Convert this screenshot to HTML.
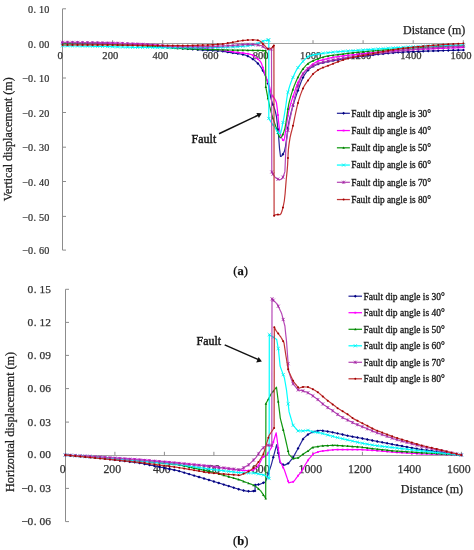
<!DOCTYPE html><html><head><meta charset="utf-8"><style>
html,body{margin:0;padding:0;background:#fff;width:474px;height:550px;overflow:hidden}
svg{display:block;filter:blur(0.3px)}
text{font-family:"Liberation Serif","Times New Roman",serif}
</style></head><body>
<svg width="474" height="550" viewBox="0 0 474 550">
<rect width="474" height="550" fill="#fff"/>
<path d="M62.5 8.80V250.10" stroke="#8c8c8c" stroke-width="1" fill="none"/>
<path d="M62.5 8.80H66" stroke="#8c8c8c" stroke-width="1" fill="none"/>
<path d="M62.5 43.40H66" stroke="#8c8c8c" stroke-width="1" fill="none"/>
<path d="M62.5 78.00H66" stroke="#8c8c8c" stroke-width="1" fill="none"/>
<path d="M62.5 112.50H66" stroke="#8c8c8c" stroke-width="1" fill="none"/>
<path d="M62.5 147.20H66" stroke="#8c8c8c" stroke-width="1" fill="none"/>
<path d="M62.5 181.50H66" stroke="#8c8c8c" stroke-width="1" fill="none"/>
<path d="M62.5 216.40H66" stroke="#8c8c8c" stroke-width="1" fill="none"/>
<path d="M62.5 250.10H66" stroke="#8c8c8c" stroke-width="1" fill="none"/>
<path d="M62.5 43.5H463.5" stroke="#a2a2a2" stroke-width="1" fill="none"/>
<path d="M112.60 43.5V40.2" stroke="#8c8c8c" stroke-width="1" fill="none"/>
<path d="M162.70 43.5V40.2" stroke="#8c8c8c" stroke-width="1" fill="none"/>
<path d="M212.80 43.5V40.2" stroke="#8c8c8c" stroke-width="1" fill="none"/>
<path d="M262.90 43.5V40.2" stroke="#8c8c8c" stroke-width="1" fill="none"/>
<path d="M313.00 43.5V40.2" stroke="#8c8c8c" stroke-width="1" fill="none"/>
<path d="M363.10 43.5V40.2" stroke="#8c8c8c" stroke-width="1" fill="none"/>
<path d="M413.20 43.5V40.2" stroke="#8c8c8c" stroke-width="1" fill="none"/>
<path d="M463.30 43.5V40.2" stroke="#8c8c8c" stroke-width="1" fill="none"/>
<text transform="translate(0 13.00) scale(0.9 1)" x="31.11 37.22 43.33 49.11" y="0" font-size="11.3" fill="#333" stroke="#333" stroke-width="0.25">0.10</text>
<text transform="translate(0 47.60) scale(0.9 1)" x="31.11 37.22 43.33 49.11" y="0" font-size="11.3" fill="#333" stroke="#333" stroke-width="0.25">0.00</text>
<text transform="translate(0 82.20) scale(0.9 1)" x="24.78 31.11 37.22 43.33 49.11" y="0" font-size="11.3" fill="#333" stroke="#333" stroke-width="0.25">−0.10</text>
<text transform="translate(0 116.70) scale(0.9 1)" x="24.78 31.11 37.22 43.33 49.11" y="0" font-size="11.3" fill="#333" stroke="#333" stroke-width="0.25">−0.20</text>
<text transform="translate(0 151.40) scale(0.9 1)" x="24.78 31.11 37.22 43.33 49.11" y="0" font-size="11.3" fill="#333" stroke="#333" stroke-width="0.25">−0.30</text>
<text transform="translate(0 185.70) scale(0.9 1)" x="24.78 31.11 37.22 43.33 49.11" y="0" font-size="11.3" fill="#333" stroke="#333" stroke-width="0.25">−0.40</text>
<text transform="translate(0 220.60) scale(0.9 1)" x="24.78 31.11 37.22 43.33 49.11" y="0" font-size="11.3" fill="#333" stroke="#333" stroke-width="0.25">−0.50</text>
<text transform="translate(0 254.30) scale(0.9 1)" x="24.78 31.11 37.22 43.33 49.11" y="0" font-size="11.3" fill="#333" stroke="#333" stroke-width="0.25">−0.60</text>
<text x="60.20" y="58.7" font-size="10.6" text-anchor="middle" fill="#333" stroke="#333" stroke-width="0.25">0</text>
<text x="110.30" y="58.7" font-size="10.6" text-anchor="middle" fill="#333" stroke="#333" stroke-width="0.25">200</text>
<text x="160.40" y="58.7" font-size="10.6" text-anchor="middle" fill="#333" stroke="#333" stroke-width="0.25">400</text>
<text x="210.50" y="58.7" font-size="10.6" text-anchor="middle" fill="#333" stroke="#333" stroke-width="0.25">600</text>
<text x="260.60" y="58.7" font-size="10.6" text-anchor="middle" fill="#333" stroke="#333" stroke-width="0.25">800</text>
<text x="310.70" y="58.7" font-size="10.6" text-anchor="middle" fill="#333" stroke="#333" stroke-width="0.25">1000</text>
<text x="360.80" y="58.7" font-size="10.6" text-anchor="middle" fill="#333" stroke="#333" stroke-width="0.25">1200</text>
<text x="410.90" y="58.7" font-size="10.6" text-anchor="middle" fill="#333" stroke="#333" stroke-width="0.25">1400</text>
<text x="461.00" y="58.7" font-size="10.6" text-anchor="middle" fill="#333" stroke="#333" stroke-width="0.25">1600</text>
<text x="403" y="33.7" font-size="12" fill="#222" stroke="#222" stroke-width="0.25">Distance (m)</text>
<text transform="translate(11.9,139.3) rotate(-90)" font-size="12" text-anchor="middle" fill="#222" stroke="#222" stroke-width="0.25">Vertical displacement (m)</text>
<path d="M62.5 42.7L63.5 42.7L64.5 42.7L65.5 42.7L66.5 42.7L67.5 42.7L68.5 42.7L69.5 42.7L70.5 42.7L71.5 42.7L72.5 42.7L73.5 42.7L74.5 42.8L75.5 42.8L76.5 42.8L77.5 42.8L78.5 42.8L79.5 42.8L80.5 42.8L81.5 42.8L82.5 42.8L83.5 42.9L84.5 42.9L85.5 42.9L86.5 42.9L87.5 42.9L88.5 42.9L89.5 42.9L90.5 42.9L91.5 43.0L92.5 43.0L93.5 43.0L94.5 43.0L95.5 43.0L96.5 43.0L97.5 43.1L98.5 43.1L99.5 43.1L100.0 43.1L100.5 43.1L101.5 43.1L102.5 43.1L103.5 43.2L104.5 43.2L105.5 43.2L106.5 43.2L107.5 43.3L108.5 43.3L109.5 43.3L110.5 43.3L111.5 43.4L112.5 43.4L113.5 43.4L114.5 43.5L115.5 43.5L116.5 43.5L117.5 43.6L118.5 43.6L119.5 43.6L120.5 43.7L121.5 43.7L122.5 43.8L123.5 43.8L124.5 43.9L125.5 43.9L126.5 43.9L127.5 44.0L128.5 44.0L129.5 44.1L130.5 44.1L131.5 44.2L132.5 44.2L133.5 44.3L134.5 44.3L135.5 44.4L136.5 44.4L137.5 44.5L138.5 44.5L139.5 44.6L140.0 44.6L140.5 44.6L141.5 44.7L142.5 44.7L143.5 44.8L144.5 44.9L145.5 44.9L146.5 45.0L147.5 45.1L148.5 45.2L149.5 45.3L150.5 45.3L151.5 45.4L152.5 45.5L153.5 45.6L154.5 45.7L155.5 45.8L156.5 45.9L157.5 46.0L158.5 46.1L159.5 46.2L160.5 46.3L161.5 46.4L162.5 46.5L163.5 46.6L164.5 46.7L165.5 46.8L166.5 46.9L167.5 47.0L168.5 47.1L169.5 47.2L170.5 47.3L171.5 47.4L172.5 47.5L173.5 47.6L174.5 47.7L175.5 47.8L176.5 47.9L177.5 48.0L178.5 48.1L179.5 48.2L180.0 48.2L180.5 48.2L181.5 48.3L182.5 48.4L183.5 48.5L184.5 48.6L185.5 48.7L186.5 48.7L187.5 48.8L188.5 48.9L189.5 49.0L190.5 49.1L191.5 49.2L192.5 49.2L193.5 49.3L194.5 49.4L195.5 49.5L196.5 49.5L197.5 49.6L198.5 49.7L199.5 49.8L200.0 49.8L200.5 49.8L201.5 49.9L202.5 50.0L203.5 50.0L204.5 50.1L205.5 50.1L206.5 50.2L207.5 50.2L208.5 50.3L209.5 50.3L210.5 50.4L211.5 50.4L212.5 50.5L213.5 50.5L214.5 50.6L215.5 50.7L216.5 50.7L217.5 50.8L218.5 50.9L219.5 51.0L220.0 51.0L220.5 51.0L221.5 51.2L222.5 51.3L223.5 51.4L224.5 51.6L225.5 51.7L226.5 51.9L227.5 52.1L228.5 52.3L229.5 52.4L230.0 52.5L230.5 52.6L231.5 52.7L232.5 52.9L233.5 53.0L234.5 53.1L235.5 53.3L236.5 53.4L237.5 53.6L238.5 53.7L239.5 53.9L240.5 54.0L241.5 54.2L242.5 54.4L243.5 54.6L244.5 54.9L245.0 55.0L245.5 55.1L246.5 55.5L247.5 56.0L248.5 56.5L249.5 57.0L250.5 57.6L251.5 58.2L252.5 58.9L253.5 59.6L254.4 60.3L254.5 60.4L255.5 61.2L256.5 62.1L257.5 63.1L258.5 64.2L259.5 65.3L259.7 65.6L260.5 66.7L261.5 68.2L262.5 69.9L263.5 71.8L264.5 73.9L265.0 75.0L265.5 76.2L266.5 78.8L267.5 81.9L268.5 85.6L268.7 86.4L269.5 90.7L270.5 96.5L270.6 97.0L271.5 100.4L272.5 103.4L273.5 106.0L274.5 108.7L275.5 112.2L276.3 115.8L276.5 116.9L277.5 125.1L278.5 135.0L279.5 148.2L280.5 156.5L281.5 156.1L282.5 154.9L283.5 153.2L284.3 151.6L284.5 151.1L285.5 146.4L286.5 139.3L287.5 131.4L288.5 124.3L289.0 121.5L289.5 119.1L290.5 114.8L291.5 111.0L292.5 107.4L293.3 104.6L293.5 103.9L294.5 100.6L295.5 97.6L296.5 94.6L297.5 91.8L298.4 89.3L298.5 89.0L299.5 86.3L300.5 83.5L301.5 80.9L302.5 78.6L303.5 76.6L304.5 74.9L305.5 73.3L306.5 72.0L307.5 70.7L308.5 69.7L308.6 69.6L309.5 68.8L310.5 68.0L311.5 67.3L312.5 66.7L313.5 66.1L314.3 65.7L314.5 65.6L315.5 65.1L316.5 64.6L317.5 64.2L318.5 63.8L318.6 63.8L319.5 63.5L320.5 63.2L321.5 63.0L322.5 62.8L323.5 62.5L323.6 62.5L324.5 62.3L325.5 62.0L326.5 61.8L327.5 61.6L328.5 61.3L328.7 61.3L329.5 61.1L330.5 61.0L331.5 60.8L332.5 60.6L333.5 60.4L334.5 60.3L335.0 60.2L335.5 60.1L336.5 60.0L337.5 59.8L338.5 59.6L339.5 59.5L340.5 59.3L341.5 59.2L342.5 59.0L343.5 58.8L344.5 58.7L345.5 58.5L346.5 58.4L347.5 58.2L348.5 58.1L349.5 57.9L350.5 57.8L351.5 57.6L352.5 57.5L353.5 57.4L354.5 57.2L355.5 57.1L356.5 57.0L357.5 56.8L358.5 56.7L359.5 56.6L360.0 56.5L360.5 56.4L361.5 56.3L362.5 56.2L363.5 56.1L364.5 55.9L365.5 55.8L366.5 55.7L367.5 55.6L368.5 55.4L369.5 55.3L370.5 55.2L371.5 55.1L372.5 55.0L373.5 54.8L374.5 54.7L375.5 54.6L376.5 54.5L377.5 54.4L378.5 54.2L379.5 54.1L380.5 54.0L381.5 53.9L382.5 53.8L383.5 53.7L384.5 53.6L385.5 53.5L386.5 53.4L387.5 53.3L388.5 53.2L389.5 53.1L390.5 53.0L391.5 52.9L392.5 52.8L393.5 52.8L394.5 52.7L395.5 52.6L396.5 52.5L397.5 52.5L398.5 52.4L399.5 52.3L400.0 52.3L400.5 52.3L401.5 52.2L402.5 52.2L403.5 52.1L404.5 52.0L405.5 52.0L406.5 51.9L407.5 51.9L408.5 51.8L409.5 51.8L410.5 51.7L411.5 51.7L412.5 51.7L413.5 51.6L414.5 51.6L415.5 51.5L416.5 51.5L417.5 51.4L418.5 51.4L419.5 51.4L420.5 51.3L421.5 51.3L422.5 51.3L423.5 51.2L424.5 51.2L425.5 51.2L426.5 51.1L427.5 51.1L428.5 51.1L429.5 51.0L430.0 51.0L430.5 51.0L431.5 51.0L432.5 50.9L433.5 50.9L434.5 50.9L435.5 50.8L436.5 50.8L437.5 50.8L438.5 50.7L439.5 50.7L440.5 50.7L441.5 50.6L442.5 50.6L443.5 50.6L444.5 50.5L445.5 50.5L446.5 50.5L447.5 50.5L448.5 50.4L449.5 50.4L450.5 50.4L451.5 50.4L452.5 50.3L453.5 50.3L454.5 50.3L455.5 50.3L456.5 50.2L457.5 50.2L458.5 50.2L459.5 50.2L460.5 50.2L461.5 50.1L462.5 50.1L463.5 50.1" fill="none" stroke="#26269a" stroke-width="1.2" stroke-linejoin="round"/>
<path d="M62.50 41.25L63.95 42.70L62.50 44.15L61.05 42.70Z" fill="#000080"/>
<path d="M67.51 41.26L68.96 42.71L67.51 44.16L66.06 42.71Z" fill="#000080"/>
<path d="M72.52 41.29L73.97 42.74L72.52 44.19L71.07 42.74Z" fill="#000080"/>
<path d="M77.53 41.33L78.98 42.78L77.53 44.23L76.08 42.78Z" fill="#000080"/>
<path d="M82.54 41.39L83.99 42.84L82.54 44.29L81.09 42.84Z" fill="#000080"/>
<path d="M87.55 41.46L89.00 42.91L87.55 44.36L86.10 42.91Z" fill="#000080"/>
<path d="M92.56 41.53L94.01 42.98L92.56 44.43L91.11 42.98Z" fill="#000080"/>
<path d="M97.57 41.61L99.02 43.06L97.57 44.51L96.12 43.06Z" fill="#000080"/>
<path d="M102.58 41.70L104.03 43.15L102.58 44.60L101.13 43.15Z" fill="#000080"/>
<path d="M107.59 41.81L109.04 43.26L107.59 44.71L106.14 43.26Z" fill="#000080"/>
<path d="M112.60 41.96L114.05 43.41L112.60 44.86L111.15 43.41Z" fill="#000080"/>
<path d="M117.61 42.13L119.06 43.58L117.61 45.03L116.16 43.58Z" fill="#000080"/>
<path d="M122.62 42.32L124.07 43.77L122.62 45.22L121.17 43.77Z" fill="#000080"/>
<path d="M127.63 42.54L129.08 43.99L127.63 45.44L126.18 43.99Z" fill="#000080"/>
<path d="M132.64 42.78L134.09 44.23L132.64 45.68L131.19 44.23Z" fill="#000080"/>
<path d="M137.65 43.03L139.10 44.48L137.65 45.93L136.20 44.48Z" fill="#000080"/>
<path d="M142.66 43.30L144.11 44.75L142.66 46.20L141.21 44.75Z" fill="#000080"/>
<path d="M147.67 43.66L149.12 45.11L147.67 46.56L146.22 45.11Z" fill="#000080"/>
<path d="M152.68 44.09L154.13 45.54L152.68 46.99L151.23 45.54Z" fill="#000080"/>
<path d="M157.69 44.56L159.14 46.01L157.69 47.46L156.24 46.01Z" fill="#000080"/>
<path d="M162.70 45.07L164.15 46.52L162.70 47.97L161.25 46.52Z" fill="#000080"/>
<path d="M167.71 45.58L169.16 47.03L167.71 48.48L166.26 47.03Z" fill="#000080"/>
<path d="M172.72 46.08L174.17 47.53L172.72 48.98L171.27 47.53Z" fill="#000080"/>
<path d="M177.73 46.55L179.18 48.00L177.73 49.45L176.28 48.00Z" fill="#000080"/>
<path d="M182.74 46.98L184.19 48.43L182.74 49.88L181.29 48.43Z" fill="#000080"/>
<path d="M187.75 47.40L189.20 48.85L187.75 50.30L186.30 48.85Z" fill="#000080"/>
<path d="M192.76 47.81L194.21 49.26L192.76 50.71L191.31 49.26Z" fill="#000080"/>
<path d="M197.77 48.19L199.22 49.64L197.77 51.09L196.32 49.64Z" fill="#000080"/>
<path d="M202.78 48.52L204.23 49.97L202.78 51.42L201.33 49.97Z" fill="#000080"/>
<path d="M207.79 48.79L209.24 50.24L207.79 51.69L206.34 50.24Z" fill="#000080"/>
<path d="M212.80 49.04L214.25 50.49L212.80 51.94L211.35 50.49Z" fill="#000080"/>
<path d="M217.81 49.37L219.26 50.82L217.81 52.27L216.36 50.82Z" fill="#000080"/>
<path d="M222.82 49.88L224.27 51.33L222.82 52.78L221.37 51.33Z" fill="#000080"/>
<path d="M227.83 50.69L229.28 52.14L227.83 53.59L226.38 52.14Z" fill="#000080"/>
<path d="M232.84 51.46L234.29 52.91L232.84 54.36L231.39 52.91Z" fill="#000080"/>
<path d="M237.85 52.15L239.30 53.60L237.85 55.05L236.40 53.60Z" fill="#000080"/>
<path d="M242.86 53.04L244.31 54.49L242.86 55.94L241.41 54.49Z" fill="#000080"/>
<path d="M247.87 54.70L249.32 56.15L247.87 57.60L246.42 56.15Z" fill="#000080"/>
<path d="M252.88 57.69L254.33 59.14L252.88 60.59L251.43 59.14Z" fill="#000080"/>
<path d="M257.89 62.04L259.34 63.49L257.89 64.94L256.44 63.49Z" fill="#000080"/>
<path d="M262.90 69.18L264.35 70.63L262.90 72.08L261.45 70.63Z" fill="#000080"/>
<path d="M267.91 81.91L269.36 83.36L267.91 84.81L266.46 83.36Z" fill="#000080"/>
<path d="M272.92 103.02L274.37 104.47L272.92 105.92L271.47 104.47Z" fill="#000080"/>
<path d="M277.93 127.89L279.38 129.34L277.93 130.79L276.48 129.34Z" fill="#000080"/>
<path d="M282.94 152.76L284.39 154.21L282.94 155.66L281.49 154.21Z" fill="#000080"/>
<path d="M287.95 126.58L289.40 128.03L287.95 129.48L286.50 128.03Z" fill="#000080"/>
<path d="M292.96 104.32L294.41 105.77L292.96 107.22L291.51 105.77Z" fill="#000080"/>
<path d="M297.97 89.03L299.42 90.48L297.97 91.93L296.52 90.48Z" fill="#000080"/>
<path d="M302.98 76.13L304.43 77.58L302.98 79.03L301.53 77.58Z" fill="#000080"/>
<path d="M307.99 68.75L309.44 70.20L307.99 71.65L306.54 70.20Z" fill="#000080"/>
<path d="M313.00 64.97L314.45 66.42L313.00 67.87L311.55 66.42Z" fill="#000080"/>
<path d="M318.01 62.56L319.46 64.01L318.01 65.46L316.56 64.01Z" fill="#000080"/>
<path d="M323.02 61.19L324.47 62.64L323.02 64.09L321.57 62.64Z" fill="#000080"/>
<path d="M328.03 59.99L329.48 61.44L328.03 62.89L326.58 61.44Z" fill="#000080"/>
<path d="M333.04 59.07L334.49 60.52L333.04 61.97L331.59 60.52Z" fill="#000080"/>
<path d="M338.05 58.26L339.50 59.71L338.05 61.16L336.60 59.71Z" fill="#000080"/>
<path d="M343.06 57.46L344.51 58.91L343.06 60.36L341.61 58.91Z" fill="#000080"/>
<path d="M348.07 56.69L349.52 58.14L348.07 59.59L346.62 58.14Z" fill="#000080"/>
<path d="M353.08 55.97L354.53 57.42L353.08 58.87L351.63 57.42Z" fill="#000080"/>
<path d="M358.09 55.29L359.54 56.74L358.09 58.19L356.64 56.74Z" fill="#000080"/>
<path d="M363.10 54.66L364.55 56.11L363.10 57.56L361.65 56.11Z" fill="#000080"/>
<path d="M368.11 54.04L369.56 55.49L368.11 56.94L366.66 55.49Z" fill="#000080"/>
<path d="M373.12 53.43L374.57 54.88L373.12 56.33L371.67 54.88Z" fill="#000080"/>
<path d="M378.13 52.84L379.58 54.29L378.13 55.74L376.68 54.29Z" fill="#000080"/>
<path d="M383.14 52.29L384.59 53.74L383.14 55.19L381.69 53.74Z" fill="#000080"/>
<path d="M388.15 51.78L389.60 53.23L388.15 54.68L386.70 53.23Z" fill="#000080"/>
<path d="M393.16 51.34L394.61 52.79L393.16 54.24L391.71 52.79Z" fill="#000080"/>
<path d="M398.17 50.97L399.62 52.42L398.17 53.87L396.72 52.42Z" fill="#000080"/>
<path d="M403.18 50.67L404.63 52.12L403.18 53.57L401.73 52.12Z" fill="#000080"/>
<path d="M408.19 50.41L409.64 51.86L408.19 53.31L406.74 51.86Z" fill="#000080"/>
<path d="M413.20 50.18L414.65 51.63L413.20 53.08L411.75 51.63Z" fill="#000080"/>
<path d="M418.21 49.97L419.66 51.42L418.21 52.87L416.76 51.42Z" fill="#000080"/>
<path d="M423.22 49.78L424.67 51.23L423.22 52.68L421.77 51.23Z" fill="#000080"/>
<path d="M428.23 49.61L429.68 51.06L428.23 52.51L426.78 51.06Z" fill="#000080"/>
<path d="M433.24 49.44L434.69 50.89L433.24 52.34L431.79 50.89Z" fill="#000080"/>
<path d="M438.25 49.28L439.70 50.73L438.25 52.18L436.80 50.73Z" fill="#000080"/>
<path d="M443.26 49.14L444.71 50.59L443.26 52.04L441.81 50.59Z" fill="#000080"/>
<path d="M448.27 49.00L449.72 50.45L448.27 51.90L446.82 50.45Z" fill="#000080"/>
<path d="M453.28 48.87L454.73 50.32L453.28 51.77L451.83 50.32Z" fill="#000080"/>
<path d="M458.29 48.75L459.74 50.20L458.29 51.65L456.84 50.20Z" fill="#000080"/>
<path d="M463.50 48.65L464.95 50.10L463.50 51.55L462.05 50.10Z" fill="#000080"/>
<path d="M62.5 42.5L63.5 42.5L64.5 42.5L65.5 42.5L66.5 42.5L67.5 42.5L68.5 42.5L69.5 42.5L70.5 42.5L71.5 42.5L72.5 42.5L73.5 42.6L74.5 42.6L75.5 42.6L76.5 42.6L77.5 42.6L78.5 42.6L79.5 42.6L80.5 42.6L81.5 42.6L82.5 42.6L83.5 42.7L84.5 42.7L85.5 42.7L86.5 42.7L87.5 42.7L88.5 42.7L89.5 42.7L90.5 42.8L91.5 42.8L92.5 42.8L93.5 42.8L94.5 42.8L95.5 42.8L96.5 42.8L97.5 42.9L98.5 42.9L99.5 42.9L100.0 42.9L100.5 42.9L101.5 42.9L102.5 42.9L103.5 43.0L104.5 43.0L105.5 43.0L106.5 43.0L107.5 43.0L108.5 43.1L109.5 43.1L110.5 43.1L111.5 43.1L112.5 43.2L113.5 43.2L114.5 43.2L115.5 43.2L116.5 43.3L117.5 43.3L118.5 43.3L119.5 43.4L120.5 43.4L121.5 43.4L122.5 43.4L123.5 43.5L124.5 43.5L125.5 43.5L126.5 43.6L127.5 43.6L128.5 43.7L129.5 43.7L130.5 43.7L131.5 43.8L132.5 43.8L133.5 43.8L134.5 43.9L135.5 43.9L136.5 44.0L137.5 44.0L138.5 44.0L139.5 44.1L140.0 44.1L140.5 44.1L141.5 44.2L142.5 44.2L143.5 44.3L144.5 44.3L145.5 44.4L146.5 44.4L147.5 44.5L148.5 44.5L149.5 44.6L150.5 44.7L151.5 44.7L152.5 44.8L153.5 44.8L154.5 44.9L155.5 45.0L156.5 45.1L157.5 45.1L158.5 45.2L159.5 45.3L160.5 45.3L161.5 45.4L162.5 45.5L163.5 45.6L164.5 45.6L165.5 45.7L166.5 45.8L167.5 45.9L168.5 45.9L169.5 46.0L170.5 46.1L171.5 46.2L172.5 46.2L173.5 46.3L174.5 46.4L175.5 46.5L176.5 46.5L177.5 46.6L178.5 46.7L179.5 46.8L180.0 46.8L180.5 46.8L181.5 46.9L182.5 47.0L183.5 47.1L184.5 47.1L185.5 47.2L186.5 47.3L187.5 47.3L188.5 47.4L189.5 47.5L190.5 47.6L191.5 47.6L192.5 47.7L193.5 47.8L194.5 47.9L195.5 47.9L196.5 48.0L197.5 48.1L198.5 48.2L199.5 48.3L200.0 48.3L200.5 48.3L201.5 48.4L202.5 48.5L203.5 48.6L204.5 48.7L205.5 48.7L206.5 48.8L207.5 48.9L208.5 49.0L209.5 49.0L210.5 49.1L211.5 49.2L212.5 49.3L213.5 49.4L214.5 49.5L215.5 49.6L216.5 49.7L217.5 49.7L218.5 49.8L219.5 49.9L220.0 50.0L220.5 50.1L221.5 50.2L222.5 50.3L223.5 50.4L224.5 50.6L225.5 50.7L226.5 50.8L227.5 51.0L228.5 51.1L229.5 51.3L230.5 51.4L231.5 51.6L232.5 51.7L233.5 51.9L234.5 52.0L235.5 52.2L236.5 52.3L237.5 52.4L238.0 52.5L238.5 52.6L239.5 52.7L240.5 52.8L241.5 52.9L242.5 53.0L243.5 53.1L244.5 53.2L245.0 53.3L245.5 53.4L246.5 53.5L247.5 53.7L248.5 53.9L249.5 54.1L250.5 54.3L251.1 54.5L251.5 54.6L252.5 55.1L253.5 55.8L254.5 56.6L255.5 57.3L255.6 57.4L256.5 58.1L257.5 58.8L258.5 59.6L259.5 60.5L260.5 61.7L260.9 62.3L261.5 63.5L262.5 66.4L263.5 69.5L264.5 72.7L265.4 75.5L265.5 75.8L266.5 78.4L267.5 80.8L268.5 83.4L269.5 86.4L270.5 91.0L271.0 92.9L271.5 94.1L272.5 95.9L273.5 97.2L274.5 98.5L275.5 100.2L276.3 102.3L276.5 103.1L277.5 110.7L278.5 121.0L279.5 129.4L279.6 130.0L280.5 134.3L281.5 137.5L282.5 139.5L283.5 140.6L283.8 140.7L284.5 138.4L285.5 131.6L285.6 131.0L286.5 125.3L287.5 118.5L288.5 112.5L288.8 111.0L289.5 108.0L290.5 104.4L291.5 101.1L292.5 98.1L293.3 95.7L293.5 95.1L294.5 92.1L295.5 89.1L296.5 86.3L297.5 83.7L298.4 81.7L298.5 81.5L299.5 79.5L300.5 77.6L301.5 75.9L302.5 74.3L303.5 72.9L304.1 72.1L304.5 71.6L305.5 70.5L306.5 69.4L307.5 68.5L308.5 67.6L309.2 67.0L309.5 66.7L310.5 65.9L311.5 65.2L312.5 64.5L313.5 63.8L313.8 63.6L314.5 63.1L315.5 62.5L316.5 61.9L317.5 61.4L318.5 60.9L318.6 60.9L319.5 60.6L320.5 60.3L321.5 60.1L322.5 59.9L323.5 59.6L323.6 59.6L324.5 59.4L325.5 59.1L326.5 58.8L327.5 58.6L328.5 58.3L328.7 58.3L329.5 58.1L330.5 57.9L331.5 57.7L332.5 57.5L333.5 57.3L334.5 57.1L335.0 57.0L335.5 56.9L336.5 56.8L337.5 56.6L338.5 56.5L339.5 56.3L340.5 56.2L341.5 56.1L342.5 55.9L343.5 55.8L344.5 55.7L345.5 55.6L346.5 55.4L347.5 55.3L348.5 55.2L349.5 55.1L350.5 55.0L351.5 54.9L352.5 54.8L353.5 54.7L354.5 54.6L355.5 54.5L356.5 54.4L357.5 54.3L358.5 54.2L359.5 54.1L360.0 54.0L360.5 53.9L361.5 53.8L362.5 53.7L363.5 53.6L364.5 53.5L365.5 53.4L366.5 53.3L367.5 53.2L368.5 53.1L369.5 53.0L370.5 52.9L371.5 52.8L372.5 52.7L373.5 52.6L374.5 52.5L375.5 52.4L376.5 52.3L377.5 52.2L378.5 52.1L379.5 52.0L380.5 51.9L381.5 51.8L382.5 51.7L383.5 51.6L384.5 51.5L385.5 51.4L386.5 51.3L387.5 51.3L388.5 51.2L389.5 51.1L390.5 51.0L391.5 50.9L392.5 50.8L393.5 50.8L394.5 50.7L395.5 50.6L396.5 50.5L397.5 50.5L398.5 50.4L399.5 50.3L400.0 50.3L400.5 50.3L401.5 50.2L402.5 50.1L403.5 50.1L404.5 50.0L405.5 50.0L406.5 49.9L407.5 49.9L408.5 49.8L409.5 49.8L410.5 49.7L411.5 49.6L412.5 49.6L413.5 49.5L414.5 49.5L415.5 49.5L416.5 49.4L417.5 49.4L418.5 49.3L419.5 49.3L420.5 49.2L421.5 49.2L422.5 49.1L423.5 49.1L424.5 49.0L425.5 49.0L426.5 49.0L427.5 48.9L428.5 48.9L429.5 48.8L430.0 48.8L430.5 48.8L431.5 48.7L432.5 48.7L433.5 48.6L434.5 48.6L435.5 48.6L436.5 48.5L437.5 48.5L438.5 48.4L439.5 48.4L440.5 48.4L441.5 48.3L442.5 48.3L443.5 48.2L444.5 48.2L445.5 48.2L446.5 48.1L447.5 48.1L448.5 48.0L449.5 48.0L450.5 48.0L451.5 47.9L452.5 47.9L453.5 47.8L454.5 47.8L455.5 47.8L456.5 47.7L457.5 47.7L458.5 47.7L459.5 47.6L460.5 47.6L461.5 47.6L462.5 47.5L463.5 47.5" fill="none" stroke="#ff00ff" stroke-width="1.2" stroke-linejoin="round"/>
<rect x="61.60" y="41.60" width="1.80" height="1.80" fill="#ff00ff"/>
<rect x="66.61" y="41.62" width="1.80" height="1.80" fill="#ff00ff"/>
<rect x="71.62" y="41.65" width="1.80" height="1.80" fill="#ff00ff"/>
<rect x="76.63" y="41.69" width="1.80" height="1.80" fill="#ff00ff"/>
<rect x="81.64" y="41.75" width="1.80" height="1.80" fill="#ff00ff"/>
<rect x="86.65" y="41.81" width="1.80" height="1.80" fill="#ff00ff"/>
<rect x="91.66" y="41.89" width="1.80" height="1.80" fill="#ff00ff"/>
<rect x="96.67" y="41.96" width="1.80" height="1.80" fill="#ff00ff"/>
<rect x="101.68" y="42.04" width="1.80" height="1.80" fill="#ff00ff"/>
<rect x="106.69" y="42.14" width="1.80" height="1.80" fill="#ff00ff"/>
<rect x="111.70" y="42.26" width="1.80" height="1.80" fill="#ff00ff"/>
<rect x="116.71" y="42.40" width="1.80" height="1.80" fill="#ff00ff"/>
<rect x="121.72" y="42.55" width="1.80" height="1.80" fill="#ff00ff"/>
<rect x="126.73" y="42.72" width="1.80" height="1.80" fill="#ff00ff"/>
<rect x="131.74" y="42.91" width="1.80" height="1.80" fill="#ff00ff"/>
<rect x="136.75" y="43.10" width="1.80" height="1.80" fill="#ff00ff"/>
<rect x="141.76" y="43.32" width="1.80" height="1.80" fill="#ff00ff"/>
<rect x="146.77" y="43.58" width="1.80" height="1.80" fill="#ff00ff"/>
<rect x="151.78" y="43.89" width="1.80" height="1.80" fill="#ff00ff"/>
<rect x="156.79" y="44.23" width="1.80" height="1.80" fill="#ff00ff"/>
<rect x="161.80" y="44.60" width="1.80" height="1.80" fill="#ff00ff"/>
<rect x="166.81" y="44.98" width="1.80" height="1.80" fill="#ff00ff"/>
<rect x="171.82" y="45.36" width="1.80" height="1.80" fill="#ff00ff"/>
<rect x="176.83" y="45.74" width="1.80" height="1.80" fill="#ff00ff"/>
<rect x="181.84" y="46.10" width="1.80" height="1.80" fill="#ff00ff"/>
<rect x="186.85" y="46.46" width="1.80" height="1.80" fill="#ff00ff"/>
<rect x="191.86" y="46.84" width="1.80" height="1.80" fill="#ff00ff"/>
<rect x="196.87" y="47.22" width="1.80" height="1.80" fill="#ff00ff"/>
<rect x="201.88" y="47.62" width="1.80" height="1.80" fill="#ff00ff"/>
<rect x="206.89" y="48.01" width="1.80" height="1.80" fill="#ff00ff"/>
<rect x="211.90" y="48.42" width="1.80" height="1.80" fill="#ff00ff"/>
<rect x="216.91" y="48.88" width="1.80" height="1.80" fill="#ff00ff"/>
<rect x="221.92" y="49.43" width="1.80" height="1.80" fill="#ff00ff"/>
<rect x="226.93" y="50.13" width="1.80" height="1.80" fill="#ff00ff"/>
<rect x="231.94" y="50.89" width="1.80" height="1.80" fill="#ff00ff"/>
<rect x="236.95" y="51.58" width="1.80" height="1.80" fill="#ff00ff"/>
<rect x="241.96" y="52.13" width="1.80" height="1.80" fill="#ff00ff"/>
<rect x="246.97" y="52.84" width="1.80" height="1.80" fill="#ff00ff"/>
<rect x="251.98" y="54.48" width="1.80" height="1.80" fill="#ff00ff"/>
<rect x="256.99" y="58.19" width="1.80" height="1.80" fill="#ff00ff"/>
<rect x="262.00" y="66.73" width="1.80" height="1.80" fill="#ff00ff"/>
<rect x="267.01" y="80.92" width="1.80" height="1.80" fill="#ff00ff"/>
<rect x="272.02" y="95.57" width="1.80" height="1.80" fill="#ff00ff"/>
<rect x="277.03" y="114.17" width="1.80" height="1.80" fill="#ff00ff"/>
<rect x="282.04" y="139.21" width="1.80" height="1.80" fill="#ff00ff"/>
<rect x="287.05" y="114.68" width="1.80" height="1.80" fill="#ff00ff"/>
<rect x="292.06" y="95.83" width="1.80" height="1.80" fill="#ff00ff"/>
<rect x="297.07" y="81.74" width="1.80" height="1.80" fill="#ff00ff"/>
<rect x="302.08" y="72.70" width="1.80" height="1.80" fill="#ff00ff"/>
<rect x="307.09" y="67.15" width="1.80" height="1.80" fill="#ff00ff"/>
<rect x="312.10" y="63.22" width="1.80" height="1.80" fill="#ff00ff"/>
<rect x="317.11" y="60.23" width="1.80" height="1.80" fill="#ff00ff"/>
<rect x="322.12" y="58.84" width="1.80" height="1.80" fill="#ff00ff"/>
<rect x="327.13" y="57.56" width="1.80" height="1.80" fill="#ff00ff"/>
<rect x="332.14" y="56.45" width="1.80" height="1.80" fill="#ff00ff"/>
<rect x="337.15" y="55.63" width="1.80" height="1.80" fill="#ff00ff"/>
<rect x="342.16" y="54.96" width="1.80" height="1.80" fill="#ff00ff"/>
<rect x="347.17" y="54.36" width="1.80" height="1.80" fill="#ff00ff"/>
<rect x="352.18" y="53.82" width="1.80" height="1.80" fill="#ff00ff"/>
<rect x="357.19" y="53.30" width="1.80" height="1.80" fill="#ff00ff"/>
<rect x="362.20" y="52.77" width="1.80" height="1.80" fill="#ff00ff"/>
<rect x="367.21" y="52.25" width="1.80" height="1.80" fill="#ff00ff"/>
<rect x="372.22" y="51.73" width="1.80" height="1.80" fill="#ff00ff"/>
<rect x="377.23" y="51.22" width="1.80" height="1.80" fill="#ff00ff"/>
<rect x="382.24" y="50.75" width="1.80" height="1.80" fill="#ff00ff"/>
<rect x="387.25" y="50.30" width="1.80" height="1.80" fill="#ff00ff"/>
<rect x="392.26" y="49.89" width="1.80" height="1.80" fill="#ff00ff"/>
<rect x="397.27" y="49.52" width="1.80" height="1.80" fill="#ff00ff"/>
<rect x="402.28" y="49.20" width="1.80" height="1.80" fill="#ff00ff"/>
<rect x="407.29" y="48.92" width="1.80" height="1.80" fill="#ff00ff"/>
<rect x="412.30" y="48.66" width="1.80" height="1.80" fill="#ff00ff"/>
<rect x="417.31" y="48.42" width="1.80" height="1.80" fill="#ff00ff"/>
<rect x="422.32" y="48.20" width="1.80" height="1.80" fill="#ff00ff"/>
<rect x="427.33" y="47.98" width="1.80" height="1.80" fill="#ff00ff"/>
<rect x="432.34" y="47.76" width="1.80" height="1.80" fill="#ff00ff"/>
<rect x="437.35" y="47.55" width="1.80" height="1.80" fill="#ff00ff"/>
<rect x="442.36" y="47.34" width="1.80" height="1.80" fill="#ff00ff"/>
<rect x="447.37" y="47.15" width="1.80" height="1.80" fill="#ff00ff"/>
<rect x="452.38" y="46.96" width="1.80" height="1.80" fill="#ff00ff"/>
<rect x="457.39" y="46.78" width="1.80" height="1.80" fill="#ff00ff"/>
<rect x="462.60" y="46.60" width="1.80" height="1.80" fill="#ff00ff"/>
<path d="M62.5 43.9L63.5 43.9L64.5 43.9L65.5 43.9L66.5 43.9L67.5 43.9L68.5 43.9L69.5 43.9L70.5 43.9L71.5 43.9L72.5 43.9L73.5 43.9L74.5 44.0L75.5 44.0L76.5 44.0L77.5 44.0L78.5 44.0L79.5 44.0L80.5 44.0L81.5 44.0L82.5 44.0L83.5 44.1L84.5 44.1L85.5 44.1L86.5 44.1L87.5 44.1L88.5 44.1L89.5 44.1L90.5 44.2L91.5 44.2L92.5 44.2L93.5 44.2L94.5 44.2L95.5 44.2L96.5 44.2L97.5 44.3L98.5 44.3L99.5 44.3L100.0 44.3L100.5 44.3L101.5 44.3L102.5 44.3L103.5 44.4L104.5 44.4L105.5 44.4L106.5 44.4L107.5 44.4L108.5 44.5L109.5 44.5L110.5 44.5L111.5 44.5L112.5 44.6L113.5 44.6L114.5 44.6L115.5 44.7L116.5 44.7L117.5 44.7L118.5 44.8L119.5 44.8L120.5 44.8L121.5 44.9L122.5 44.9L123.5 44.9L124.5 45.0L125.5 45.0L126.5 45.0L127.5 45.1L128.5 45.1L129.5 45.2L130.5 45.2L131.5 45.2L132.5 45.3L133.5 45.3L134.5 45.4L135.5 45.4L136.5 45.4L137.5 45.5L138.5 45.5L139.5 45.6L140.0 45.6L140.5 45.6L141.5 45.7L142.5 45.7L143.5 45.8L144.5 45.8L145.5 45.9L146.5 46.0L147.5 46.0L148.5 46.1L149.5 46.2L150.5 46.2L151.5 46.3L152.5 46.4L153.5 46.5L154.5 46.5L155.5 46.6L156.5 46.7L157.5 46.8L158.5 46.9L159.5 46.9L160.5 47.0L161.5 47.1L162.5 47.2L163.5 47.3L164.5 47.3L165.5 47.4L166.5 47.5L167.5 47.6L168.5 47.7L169.5 47.7L170.5 47.8L171.5 47.9L172.5 47.9L173.5 48.0L174.5 48.1L175.5 48.1L176.5 48.2L177.5 48.3L178.5 48.3L179.5 48.4L180.0 48.4L180.5 48.4L181.5 48.5L182.5 48.5L183.5 48.6L184.5 48.6L185.5 48.7L186.5 48.7L187.5 48.7L188.5 48.8L189.5 48.8L190.5 48.9L191.5 48.9L192.5 48.9L193.5 49.0L194.5 49.0L195.5 49.0L196.5 49.1L197.5 49.1L198.5 49.2L199.5 49.2L200.0 49.2L200.5 49.2L201.5 49.2L202.5 49.3L203.5 49.3L204.5 49.3L205.5 49.4L206.5 49.4L207.5 49.4L208.5 49.5L209.5 49.5L210.5 49.5L211.5 49.6L212.5 49.6L213.5 49.6L214.5 49.6L215.5 49.7L216.5 49.7L217.5 49.7L218.5 49.7L219.5 49.8L220.5 49.8L221.5 49.8L222.5 49.8L223.5 49.9L224.5 49.9L225.5 49.9L226.5 49.9L227.5 50.0L228.5 50.0L229.5 50.0L230.0 50.0L230.5 50.0L231.5 50.0L232.5 50.0L233.5 50.1L234.5 50.1L235.5 50.1L236.5 50.1L237.5 50.1L238.5 50.1L239.5 50.2L240.5 50.2L241.5 50.2L242.5 50.2L243.5 50.2L244.5 50.2L245.5 50.2L246.5 50.3L247.5 50.3L248.5 50.3L249.5 50.3L250.0 50.3L250.5 50.3L251.5 50.3L252.5 50.3L253.5 50.3L254.5 50.4L255.5 50.4L256.5 50.4L257.5 50.4L258.5 50.4L259.5 50.4L260.5 50.4L261.5 50.5L262.5 50.5L263.5 50.5L264.5 50.5L265.5 50.5L265.6 50.5L265.8 86.9L266.8 92.4L267.8 97.6L268.8 102.4L269.8 106.9L270.8 110.9L271.8 114.5L272.8 117.8L273.8 120.8L274.8 123.7L275.8 126.5L276.0 127.0L276.8 129.4L277.8 132.5L278.8 135.4L279.8 137.3L280.5 137.8L280.8 137.7L281.8 136.7L282.8 134.6L283.8 131.9L284.5 129.8L284.8 128.8L285.8 123.5L286.8 116.7L287.8 109.7L288.8 103.9L288.9 103.5L289.8 99.8L290.8 96.2L291.8 92.9L292.8 89.9L293.8 87.1L293.9 86.8L294.8 84.4L295.8 82.0L296.8 79.7L297.8 77.6L298.8 75.7L299.0 75.3L299.8 73.9L300.8 72.2L301.8 70.7L302.8 69.2L303.8 68.0L304.1 67.6L304.8 66.8L305.8 65.7L306.8 64.7L307.8 63.8L308.8 63.1L308.9 63.0L309.8 62.4L310.8 61.9L311.8 61.3L312.8 60.9L313.8 60.4L313.9 60.4L314.8 60.0L315.8 59.6L316.8 59.2L317.8 58.8L318.8 58.5L319.8 58.1L320.8 57.8L321.8 57.5L322.8 57.2L323.2 57.1L323.8 56.9L324.8 56.7L325.8 56.4L326.8 56.2L327.8 56.0L328.7 55.8L328.8 55.8L329.8 55.6L330.8 55.5L331.8 55.4L332.8 55.3L333.8 55.1L334.8 55.0L335.0 55.0L335.8 54.9L336.8 54.8L337.8 54.6L338.8 54.5L339.8 54.4L340.8 54.3L341.8 54.1L342.8 54.0L343.8 53.9L344.8 53.8L345.8 53.6L346.8 53.5L347.8 53.4L348.8 53.3L349.8 53.1L350.8 53.0L351.8 52.9L352.8 52.8L353.8 52.7L354.8 52.5L355.8 52.4L356.8 52.3L357.8 52.2L358.8 52.1L359.8 52.0L360.0 52.0L360.8 51.9L361.8 51.8L362.8 51.7L363.8 51.6L364.8 51.5L365.8 51.5L366.8 51.4L367.8 51.3L368.8 51.2L369.8 51.1L370.8 51.0L371.8 50.9L372.8 50.8L373.8 50.8L374.8 50.7L375.8 50.6L376.8 50.5L377.8 50.4L378.8 50.3L379.8 50.3L380.8 50.2L381.8 50.1L382.8 50.0L383.8 50.0L384.8 49.9L385.8 49.8L386.8 49.7L387.8 49.7L388.8 49.6L389.8 49.5L390.8 49.4L391.8 49.4L392.8 49.3L393.8 49.2L394.8 49.2L395.8 49.1L396.8 49.0L397.8 49.0L398.8 48.9L399.8 48.8L400.0 48.8L400.8 48.7L401.8 48.7L402.8 48.6L403.8 48.5L404.8 48.5L405.8 48.4L406.8 48.3L407.8 48.3L408.8 48.2L409.8 48.1L410.8 48.1L411.8 48.0L412.8 48.0L413.8 47.9L414.8 47.8L415.8 47.8L416.8 47.7L417.8 47.6L418.8 47.6L419.8 47.5L420.8 47.5L421.8 47.4L422.8 47.4L423.8 47.3L424.8 47.3L425.8 47.2L426.8 47.2L427.8 47.1L428.8 47.1L429.8 47.0L430.0 47.0L430.8 47.0L431.8 46.9L432.8 46.9L433.8 46.8L434.8 46.8L435.8 46.7L436.8 46.7L437.8 46.7L438.8 46.6L439.8 46.6L440.8 46.5L441.8 46.5L442.8 46.5L443.8 46.4L444.8 46.4L445.8 46.3L446.8 46.3L447.8 46.3L448.8 46.2L449.8 46.2L450.8 46.2L451.8 46.1L452.8 46.1L453.8 46.1L454.8 46.0L455.8 46.0L456.8 46.0L457.8 45.9L458.8 45.9L459.8 45.9L460.8 45.9L461.8 45.8L462.8 45.8L463.5 45.8" fill="none" stroke="#119911" stroke-width="1.2" stroke-linejoin="round"/>
<path d="M62.50 42.65L63.75 44.90L61.25 44.90Z" fill="#007700"/>
<path d="M67.51 42.66L68.76 44.91L66.26 44.91Z" fill="#007700"/>
<path d="M72.52 42.69L73.77 44.94L71.27 44.94Z" fill="#007700"/>
<path d="M77.53 42.73L78.78 44.98L76.28 44.98Z" fill="#007700"/>
<path d="M82.54 42.79L83.79 45.04L81.29 45.04Z" fill="#007700"/>
<path d="M87.55 42.86L88.80 45.11L86.30 45.11Z" fill="#007700"/>
<path d="M92.56 42.93L93.81 45.18L91.31 45.18Z" fill="#007700"/>
<path d="M97.57 43.01L98.82 45.26L96.32 45.26Z" fill="#007700"/>
<path d="M102.58 43.09L103.83 45.34L101.33 45.34Z" fill="#007700"/>
<path d="M107.59 43.20L108.84 45.45L106.34 45.45Z" fill="#007700"/>
<path d="M112.60 43.33L113.85 45.58L111.35 45.58Z" fill="#007700"/>
<path d="M117.61 43.48L118.86 45.73L116.36 45.73Z" fill="#007700"/>
<path d="M122.62 43.65L123.87 45.90L121.37 45.90Z" fill="#007700"/>
<path d="M127.63 43.83L128.88 46.08L126.38 46.08Z" fill="#007700"/>
<path d="M132.64 44.03L133.89 46.28L131.39 46.28Z" fill="#007700"/>
<path d="M137.65 44.25L138.90 46.50L136.40 46.50Z" fill="#007700"/>
<path d="M142.66 44.48L143.91 46.73L141.41 46.73Z" fill="#007700"/>
<path d="M147.67 44.78L148.92 47.03L146.42 47.03Z" fill="#007700"/>
<path d="M152.68 45.14L153.93 47.39L151.43 47.39Z" fill="#007700"/>
<path d="M157.69 45.54L158.94 47.79L156.44 47.79Z" fill="#007700"/>
<path d="M162.70 45.94L163.95 48.19L161.45 48.19Z" fill="#007700"/>
<path d="M167.71 46.34L168.96 48.59L166.46 48.59Z" fill="#007700"/>
<path d="M172.72 46.71L173.97 48.96L171.47 48.96Z" fill="#007700"/>
<path d="M177.73 47.03L178.98 49.28L176.48 49.28Z" fill="#007700"/>
<path d="M182.74 47.28L183.99 49.53L181.49 49.53Z" fill="#007700"/>
<path d="M187.75 47.50L189.00 49.75L186.50 49.75Z" fill="#007700"/>
<path d="M192.76 47.70L194.01 49.95L191.51 49.95Z" fill="#007700"/>
<path d="M197.77 47.88L199.02 50.13L196.52 50.13Z" fill="#007700"/>
<path d="M202.78 48.04L204.03 50.29L201.53 50.29Z" fill="#007700"/>
<path d="M207.79 48.19L209.04 50.44L206.54 50.44Z" fill="#007700"/>
<path d="M212.80 48.34L214.05 50.59L211.55 50.59Z" fill="#007700"/>
<path d="M217.81 48.48L219.06 50.73L216.56 50.73Z" fill="#007700"/>
<path d="M222.82 48.60L224.07 50.85L221.57 50.85Z" fill="#007700"/>
<path d="M227.83 48.71L229.08 50.96L226.58 50.96Z" fill="#007700"/>
<path d="M232.84 48.80L234.09 51.05L231.59 51.05Z" fill="#007700"/>
<path d="M237.85 48.88L239.10 51.13L236.60 51.13Z" fill="#007700"/>
<path d="M242.86 48.95L244.11 51.20L241.61 51.20Z" fill="#007700"/>
<path d="M247.87 49.02L249.12 51.27L246.62 51.27Z" fill="#007700"/>
<path d="M252.88 49.09L254.13 51.34L251.63 51.34Z" fill="#007700"/>
<path d="M257.89 49.15L259.14 51.40L256.64 51.40Z" fill="#007700"/>
<path d="M262.90 49.22L264.15 51.47L261.65 51.47Z" fill="#007700"/>
<path d="M265.60 49.25L266.85 51.50L264.35 51.50Z" fill="#007700"/>
<path d="M265.80 85.65L267.05 87.90L264.55 87.90Z" fill="#007700"/>
<path d="M267.91 96.90L269.16 99.15L266.66 99.15Z" fill="#007700"/>
<path d="M272.92 116.92L274.17 119.17L271.67 119.17Z" fill="#007700"/>
<path d="M277.93 131.70L279.18 133.95L276.68 133.95Z" fill="#007700"/>
<path d="M282.94 132.98L284.19 135.23L281.69 135.23Z" fill="#007700"/>
<path d="M287.95 107.44L289.20 109.69L286.70 109.69Z" fill="#007700"/>
<path d="M292.96 88.15L294.21 90.40L291.71 90.40Z" fill="#007700"/>
<path d="M297.97 76.01L299.22 78.26L296.72 78.26Z" fill="#007700"/>
<path d="M302.98 67.75L304.23 70.00L301.73 70.00Z" fill="#007700"/>
<path d="M307.99 62.42L309.24 64.67L306.74 64.67Z" fill="#007700"/>
<path d="M313.00 59.54L314.25 61.79L311.75 61.79Z" fill="#007700"/>
<path d="M318.01 57.52L319.26 59.77L316.76 59.77Z" fill="#007700"/>
<path d="M323.02 55.90L324.27 58.15L321.77 58.15Z" fill="#007700"/>
<path d="M328.03 54.67L329.28 56.92L326.78 56.92Z" fill="#007700"/>
<path d="M333.04 53.98L334.29 56.23L331.79 56.23Z" fill="#007700"/>
<path d="M338.05 53.37L339.30 55.62L336.80 55.62Z" fill="#007700"/>
<path d="M343.06 52.73L344.31 54.98L341.81 54.98Z" fill="#007700"/>
<path d="M348.07 52.10L349.32 54.35L346.82 54.35Z" fill="#007700"/>
<path d="M353.08 51.49L354.33 53.74L351.83 53.74Z" fill="#007700"/>
<path d="M358.09 50.94L359.34 53.19L356.84 53.19Z" fill="#007700"/>
<path d="M363.10 50.45L364.35 52.70L361.85 52.70Z" fill="#007700"/>
<path d="M368.11 50.00L369.36 52.25L366.86 52.25Z" fill="#007700"/>
<path d="M373.12 49.56L374.37 51.81L371.87 51.81Z" fill="#007700"/>
<path d="M378.13 49.15L379.38 51.40L376.88 51.40Z" fill="#007700"/>
<path d="M383.14 48.76L384.39 51.01L381.89 51.01Z" fill="#007700"/>
<path d="M388.15 48.38L389.40 50.63L386.90 50.63Z" fill="#007700"/>
<path d="M393.16 48.02L394.41 50.27L391.91 50.27Z" fill="#007700"/>
<path d="M398.17 47.68L399.42 49.93L396.92 49.93Z" fill="#007700"/>
<path d="M403.18 47.33L404.43 49.58L401.93 49.58Z" fill="#007700"/>
<path d="M408.19 47.00L409.44 49.25L406.94 49.25Z" fill="#007700"/>
<path d="M413.20 46.68L414.45 48.93L411.95 48.93Z" fill="#007700"/>
<path d="M418.21 46.37L419.46 48.62L416.96 48.62Z" fill="#007700"/>
<path d="M423.22 46.09L424.47 48.34L421.97 48.34Z" fill="#007700"/>
<path d="M428.23 45.83L429.48 48.08L426.98 48.08Z" fill="#007700"/>
<path d="M433.24 45.61L434.49 47.86L431.99 47.86Z" fill="#007700"/>
<path d="M438.25 45.39L439.50 47.64L437.00 47.64Z" fill="#007700"/>
<path d="M443.26 45.19L444.51 47.44L442.01 47.44Z" fill="#007700"/>
<path d="M448.27 45.00L449.52 47.25L447.02 47.25Z" fill="#007700"/>
<path d="M453.28 44.83L454.53 47.08L452.03 47.08Z" fill="#007700"/>
<path d="M458.29 44.68L459.54 46.93L457.04 46.93Z" fill="#007700"/>
<path d="M463.50 44.55L464.75 46.80L462.25 46.80Z" fill="#007700"/>
<path d="M62.5 45.8L63.5 45.8L64.5 45.8L65.5 45.8L66.5 45.8L67.5 45.9L68.5 45.9L69.5 45.9L70.5 45.9L71.5 45.9L72.5 45.9L73.5 45.9L74.5 46.0L75.5 46.0L76.5 46.0L77.5 46.0L78.5 46.0L79.5 46.0L80.5 46.1L81.5 46.1L82.5 46.1L83.5 46.1L84.5 46.1L85.5 46.1L86.5 46.2L87.5 46.2L88.5 46.2L89.5 46.2L90.5 46.2L91.5 46.2L92.5 46.3L93.5 46.3L94.5 46.3L95.5 46.3L96.5 46.3L97.5 46.4L98.5 46.4L99.5 46.4L100.0 46.4L100.5 46.4L101.5 46.4L102.5 46.5L103.5 46.5L104.5 46.5L105.5 46.5L106.5 46.5L107.5 46.6L108.5 46.6L109.5 46.6L110.5 46.7L111.5 46.7L112.5 46.7L113.5 46.7L114.5 46.8L115.5 46.8L116.5 46.8L117.5 46.9L118.5 46.9L119.5 46.9L120.5 47.0L121.5 47.0L122.5 47.0L123.5 47.0L124.5 47.1L125.5 47.1L126.5 47.1L127.5 47.2L128.5 47.2L129.5 47.2L130.5 47.2L131.5 47.3L132.5 47.3L133.5 47.3L134.5 47.3L135.5 47.3L136.5 47.4L137.5 47.4L138.5 47.4L139.5 47.4L140.0 47.4L140.5 47.4L141.5 47.4L142.5 47.4L143.5 47.4L144.5 47.5L145.5 47.5L146.5 47.5L147.5 47.5L148.5 47.5L149.5 47.5L150.5 47.5L151.5 47.5L152.5 47.5L153.5 47.5L154.5 47.6L155.5 47.6L156.5 47.6L157.5 47.6L158.5 47.6L159.5 47.6L160.5 47.6L161.5 47.6L162.5 47.6L163.5 47.6L164.5 47.6L165.5 47.6L166.5 47.7L167.5 47.7L168.5 47.7L169.5 47.7L170.5 47.7L171.5 47.7L172.5 47.7L173.5 47.7L174.5 47.7L175.5 47.7L176.5 47.7L177.5 47.7L178.5 47.7L179.5 47.7L180.0 47.7L180.5 47.7L181.5 47.7L182.5 47.7L183.5 47.7L184.5 47.7L185.5 47.7L186.5 47.7L187.5 47.7L188.5 47.7L189.5 47.7L190.5 47.7L191.5 47.7L192.5 47.7L193.5 47.6L194.5 47.6L195.5 47.6L196.5 47.6L197.5 47.6L198.5 47.6L199.5 47.6L200.0 47.6L200.5 47.6L201.5 47.6L202.5 47.6L203.5 47.6L204.5 47.6L205.5 47.5L206.5 47.5L207.5 47.5L208.5 47.5L209.5 47.5L210.5 47.5L211.5 47.5L212.5 47.4L213.5 47.4L214.5 47.4L215.5 47.4L216.5 47.4L217.5 47.3L218.5 47.3L219.5 47.3L220.5 47.3L221.5 47.2L222.5 47.2L223.5 47.2L224.5 47.2L225.5 47.1L226.5 47.1L227.5 47.1L228.5 47.0L229.5 47.0L230.0 47.0L230.5 47.0L231.5 46.9L232.5 46.9L233.5 46.9L234.5 46.8L235.5 46.8L236.5 46.7L237.5 46.7L238.5 46.6L239.5 46.5L240.5 46.4L241.5 46.4L242.5 46.3L243.5 46.2L244.5 46.1L245.5 46.0L246.5 45.9L247.5 45.8L248.5 45.7L249.5 45.6L250.0 45.5L250.5 45.4L251.5 45.3L252.5 45.0L253.5 44.8L254.5 44.5L255.5 44.2L256.5 43.9L257.5 43.6L258.0 43.4L258.5 43.2L259.5 42.8L260.5 42.3L261.5 41.8L262.5 41.4L263.0 41.2L263.5 41.1L264.5 40.8L265.5 40.5L266.5 40.3L267.5 40.1L268.5 39.9L268.8 39.9L268.8 118.5L269.8 120.1L270.8 121.6L271.8 123.1L272.8 124.6L273.8 126.0L274.5 127.0L274.8 127.4L275.8 129.0L276.8 130.7L277.8 132.3L278.8 133.4L279.8 134.0L280.0 134.0L280.8 132.6L281.8 128.3L282.8 123.2L282.9 122.7L283.8 118.1L284.8 112.3L285.5 108.0L285.8 106.0L286.8 98.6L287.6 93.8L287.8 92.9L288.8 89.0L289.8 85.6L290.8 82.7L291.8 80.1L292.8 77.8L293.3 76.6L293.8 75.5L294.8 73.3L295.8 71.3L296.8 69.5L297.8 67.9L298.4 67.0L298.8 66.4L299.8 65.1L300.8 63.8L301.8 62.7L302.8 61.6L303.8 60.6L304.1 60.3L304.8 59.6L305.8 58.6L306.8 57.6L307.8 56.8L308.8 56.2L308.9 56.2L309.8 55.9L310.8 55.6L311.8 55.3L312.8 55.0L313.8 54.8L314.8 54.6L315.8 54.5L316.8 54.3L317.8 54.1L318.8 54.0L319.8 53.8L320.0 53.8L320.8 53.7L321.8 53.5L322.8 53.4L323.8 53.2L324.8 53.1L325.8 53.0L326.8 52.9L327.8 52.7L328.8 52.6L329.8 52.5L330.8 52.4L331.8 52.3L332.8 52.2L333.8 52.1L334.8 52.0L335.0 52.0L335.8 51.9L336.8 51.8L337.8 51.8L338.8 51.7L339.8 51.6L340.8 51.5L341.8 51.4L342.8 51.4L343.8 51.3L344.8 51.2L345.8 51.1L346.8 51.1L347.8 51.0L348.8 50.9L349.8 50.9L350.8 50.8L351.8 50.7L352.8 50.7L353.8 50.6L354.8 50.6L355.8 50.5L356.8 50.4L357.8 50.4L358.8 50.3L359.8 50.2L360.0 50.2L360.8 50.1L361.8 50.1L362.8 50.0L363.8 49.9L364.8 49.9L365.8 49.8L366.8 49.7L367.8 49.6L368.8 49.6L369.8 49.5L370.8 49.4L371.8 49.4L372.8 49.3L373.8 49.2L374.8 49.2L375.8 49.1L376.8 49.0L377.8 48.9L378.8 48.9L379.8 48.8L380.8 48.7L381.8 48.7L382.8 48.6L383.8 48.5L384.8 48.5L385.8 48.4L386.8 48.3L387.8 48.3L388.8 48.2L389.8 48.1L390.8 48.1L391.8 48.0L392.8 47.9L393.8 47.9L394.8 47.8L395.8 47.7L396.8 47.7L397.8 47.6L398.8 47.6L399.8 47.5L400.0 47.5L400.8 47.5L401.8 47.4L402.8 47.3L403.8 47.3L404.8 47.2L405.8 47.2L406.8 47.1L407.8 47.1L408.8 47.0L409.8 47.0L410.8 46.9L411.8 46.9L412.8 46.8L413.8 46.7L414.8 46.7L415.8 46.6L416.8 46.6L417.8 46.5L418.8 46.5L419.8 46.4L420.8 46.4L421.8 46.4L422.8 46.3L423.8 46.3L424.8 46.2L425.8 46.2L426.8 46.1L427.8 46.1L428.8 46.0L429.8 46.0L430.0 46.0L430.8 46.0L431.8 45.9L432.8 45.9L433.8 45.9L434.8 45.8L435.8 45.8L436.8 45.7L437.8 45.7L438.8 45.7L439.8 45.6L440.8 45.6L441.8 45.6L442.8 45.5L443.8 45.5L444.8 45.4L445.8 45.4L446.8 45.4L447.8 45.3L448.8 45.3L449.8 45.3L450.8 45.3L451.8 45.2L452.8 45.2L453.8 45.2L454.8 45.1L455.8 45.1L456.8 45.1L457.8 45.0L458.8 45.0L459.8 45.0L460.8 45.0L461.8 44.9L462.8 44.9L463.5 44.9" fill="none" stroke="#00ffff" stroke-width="1.2" stroke-linejoin="round"/>
<path d="M60.90 44.20L64.10 47.40M64.10 44.20L60.90 47.40" stroke="#00eeee" stroke-width="0.8" fill="none"/>
<path d="M65.91 44.26L69.11 47.46M69.11 44.26L65.91 47.46" stroke="#00eeee" stroke-width="0.8" fill="none"/>
<path d="M70.92 44.33L74.12 47.53M74.12 44.33L70.92 47.53" stroke="#00eeee" stroke-width="0.8" fill="none"/>
<path d="M75.93 44.40L79.13 47.60M79.13 44.40L75.93 47.60" stroke="#00eeee" stroke-width="0.8" fill="none"/>
<path d="M80.94 44.48L84.14 47.68M84.14 44.48L80.94 47.68" stroke="#00eeee" stroke-width="0.8" fill="none"/>
<path d="M85.95 44.57L89.15 47.77M89.15 44.57L85.95 47.77" stroke="#00eeee" stroke-width="0.8" fill="none"/>
<path d="M90.96 44.66L94.16 47.86M94.16 44.66L90.96 47.86" stroke="#00eeee" stroke-width="0.8" fill="none"/>
<path d="M95.97 44.75L99.17 47.95M99.17 44.75L95.97 47.95" stroke="#00eeee" stroke-width="0.8" fill="none"/>
<path d="M100.98 44.85L104.18 48.05M104.18 44.85L100.98 48.05" stroke="#00eeee" stroke-width="0.8" fill="none"/>
<path d="M105.99 44.98L109.19 48.18M109.19 44.98L105.99 48.18" stroke="#00eeee" stroke-width="0.8" fill="none"/>
<path d="M111.00 45.12L114.20 48.32M114.20 45.12L111.00 48.32" stroke="#00eeee" stroke-width="0.8" fill="none"/>
<path d="M116.01 45.27L119.21 48.47M119.21 45.27L116.01 48.47" stroke="#00eeee" stroke-width="0.8" fill="none"/>
<path d="M121.02 45.42L124.22 48.62M124.22 45.42L121.02 48.62" stroke="#00eeee" stroke-width="0.8" fill="none"/>
<path d="M126.03 45.56L129.23 48.76M129.23 45.56L126.03 48.76" stroke="#00eeee" stroke-width="0.8" fill="none"/>
<path d="M131.04 45.68L134.24 48.88M134.24 45.68L131.04 48.88" stroke="#00eeee" stroke-width="0.8" fill="none"/>
<path d="M136.05 45.77L139.25 48.97M139.25 45.77L136.05 48.97" stroke="#00eeee" stroke-width="0.8" fill="none"/>
<path d="M141.06 45.83L144.26 49.03M144.26 45.83L141.06 49.03" stroke="#00eeee" stroke-width="0.8" fill="none"/>
<path d="M146.07 45.89L149.27 49.09M149.27 45.89L146.07 49.09" stroke="#00eeee" stroke-width="0.8" fill="none"/>
<path d="M151.08 45.94L154.28 49.14M154.28 45.94L151.08 49.14" stroke="#00eeee" stroke-width="0.8" fill="none"/>
<path d="M156.09 45.99L159.29 49.19M159.29 45.99L156.09 49.19" stroke="#00eeee" stroke-width="0.8" fill="none"/>
<path d="M161.10 46.03L164.30 49.23M164.30 46.03L161.10 49.23" stroke="#00eeee" stroke-width="0.8" fill="none"/>
<path d="M166.11 46.06L169.31 49.26M169.31 46.06L166.11 49.26" stroke="#00eeee" stroke-width="0.8" fill="none"/>
<path d="M171.12 46.09L174.32 49.29M174.32 46.09L171.12 49.29" stroke="#00eeee" stroke-width="0.8" fill="none"/>
<path d="M176.13 46.10L179.33 49.30M179.33 46.10L176.13 49.30" stroke="#00eeee" stroke-width="0.8" fill="none"/>
<path d="M181.14 46.10L184.34 49.30M184.34 46.10L181.14 49.30" stroke="#00eeee" stroke-width="0.8" fill="none"/>
<path d="M186.15 46.08L189.35 49.28M189.35 46.08L186.15 49.28" stroke="#00eeee" stroke-width="0.8" fill="none"/>
<path d="M191.16 46.05L194.36 49.25M194.36 46.05L191.16 49.25" stroke="#00eeee" stroke-width="0.8" fill="none"/>
<path d="M196.17 46.02L199.37 49.22M199.37 46.02L196.17 49.22" stroke="#00eeee" stroke-width="0.8" fill="none"/>
<path d="M201.18 45.98L204.38 49.18M204.38 45.98L201.18 49.18" stroke="#00eeee" stroke-width="0.8" fill="none"/>
<path d="M206.19 45.92L209.39 49.12M209.39 45.92L206.19 49.12" stroke="#00eeee" stroke-width="0.8" fill="none"/>
<path d="M211.20 45.84L214.40 49.04M214.40 45.84L211.20 49.04" stroke="#00eeee" stroke-width="0.8" fill="none"/>
<path d="M216.21 45.74L219.41 48.94M219.41 45.74L216.21 48.94" stroke="#00eeee" stroke-width="0.8" fill="none"/>
<path d="M221.22 45.61L224.42 48.81M224.42 45.61L221.22 48.81" stroke="#00eeee" stroke-width="0.8" fill="none"/>
<path d="M226.23 45.47L229.43 48.67M229.43 45.47L226.23 48.67" stroke="#00eeee" stroke-width="0.8" fill="none"/>
<path d="M231.24 45.29L234.44 48.49M234.44 45.29L231.24 48.49" stroke="#00eeee" stroke-width="0.8" fill="none"/>
<path d="M236.25 45.03L239.45 48.23M239.45 45.03L236.25 48.23" stroke="#00eeee" stroke-width="0.8" fill="none"/>
<path d="M241.26 44.66L244.46 47.86M244.46 44.66L241.26 47.86" stroke="#00eeee" stroke-width="0.8" fill="none"/>
<path d="M246.27 44.16L249.47 47.36M249.47 44.16L246.27 47.36" stroke="#00eeee" stroke-width="0.8" fill="none"/>
<path d="M251.28 43.35L254.48 46.55M254.48 43.35L251.28 46.55" stroke="#00eeee" stroke-width="0.8" fill="none"/>
<path d="M256.29 41.84L259.49 45.04M259.49 41.84L256.29 45.04" stroke="#00eeee" stroke-width="0.8" fill="none"/>
<path d="M261.30 39.63L264.50 42.83M264.50 39.63L261.30 42.83" stroke="#00eeee" stroke-width="0.8" fill="none"/>
<path d="M266.31 38.42L269.51 41.62M269.51 38.42L266.31 41.62" stroke="#00eeee" stroke-width="0.8" fill="none"/>
<path d="M267.20 38.30L270.40 41.50M270.40 38.30L267.20 41.50" stroke="#00eeee" stroke-width="0.8" fill="none"/>
<path d="M267.20 116.90L270.40 120.10M270.40 116.90L267.20 120.10" stroke="#00eeee" stroke-width="0.8" fill="none"/>
<path d="M271.32 123.18L274.52 126.38M274.52 123.18L271.32 126.38" stroke="#00eeee" stroke-width="0.8" fill="none"/>
<path d="M276.33 130.84L279.53 134.04M279.53 130.84L276.33 134.04" stroke="#00eeee" stroke-width="0.8" fill="none"/>
<path d="M281.34 120.91L284.54 124.11M284.54 120.91L281.34 124.11" stroke="#00eeee" stroke-width="0.8" fill="none"/>
<path d="M286.35 90.69L289.55 93.89M289.55 90.69L286.35 93.89" stroke="#00eeee" stroke-width="0.8" fill="none"/>
<path d="M291.36 75.79L294.56 78.99M294.56 75.79L291.36 78.99" stroke="#00eeee" stroke-width="0.8" fill="none"/>
<path d="M296.37 66.04L299.57 69.24M299.57 66.04L296.37 69.24" stroke="#00eeee" stroke-width="0.8" fill="none"/>
<path d="M301.38 59.83L304.58 63.03M304.58 59.83L301.38 63.03" stroke="#00eeee" stroke-width="0.8" fill="none"/>
<path d="M306.39 55.07L309.59 58.27M309.59 55.07L306.39 58.27" stroke="#00eeee" stroke-width="0.8" fill="none"/>
<path d="M311.40 53.40L314.60 56.60M314.60 53.40L311.40 56.60" stroke="#00eeee" stroke-width="0.8" fill="none"/>
<path d="M316.41 52.50L319.61 55.70M319.61 52.50L316.41 55.70" stroke="#00eeee" stroke-width="0.8" fill="none"/>
<path d="M321.42 51.75L324.62 54.95M324.62 51.75L321.42 54.95" stroke="#00eeee" stroke-width="0.8" fill="none"/>
<path d="M326.43 51.12L329.63 54.32M329.63 51.12L326.43 54.32" stroke="#00eeee" stroke-width="0.8" fill="none"/>
<path d="M331.44 50.59L334.64 53.79M334.64 50.59L331.44 53.79" stroke="#00eeee" stroke-width="0.8" fill="none"/>
<path d="M336.45 50.13L339.65 53.33M339.65 50.13L336.45 53.33" stroke="#00eeee" stroke-width="0.8" fill="none"/>
<path d="M341.46 49.74L344.66 52.94M344.66 49.74L341.46 52.94" stroke="#00eeee" stroke-width="0.8" fill="none"/>
<path d="M346.47 49.39L349.67 52.59M349.67 49.39L346.47 52.59" stroke="#00eeee" stroke-width="0.8" fill="none"/>
<path d="M351.48 49.06L354.68 52.26M354.68 49.06L351.48 52.26" stroke="#00eeee" stroke-width="0.8" fill="none"/>
<path d="M356.49 48.73L359.69 51.93M359.69 48.73L356.49 51.93" stroke="#00eeee" stroke-width="0.8" fill="none"/>
<path d="M361.50 48.38L364.70 51.58M364.70 48.38L361.50 51.58" stroke="#00eeee" stroke-width="0.8" fill="none"/>
<path d="M366.51 48.03L369.71 51.23M369.71 48.03L366.51 51.23" stroke="#00eeee" stroke-width="0.8" fill="none"/>
<path d="M371.52 47.67L374.72 50.87M374.72 47.67L371.52 50.87" stroke="#00eeee" stroke-width="0.8" fill="none"/>
<path d="M376.53 47.32L379.73 50.52M379.73 47.32L376.53 50.52" stroke="#00eeee" stroke-width="0.8" fill="none"/>
<path d="M381.54 46.97L384.74 50.17M384.74 46.97L381.54 50.17" stroke="#00eeee" stroke-width="0.8" fill="none"/>
<path d="M386.55 46.63L389.75 49.83M389.75 46.63L386.55 49.83" stroke="#00eeee" stroke-width="0.8" fill="none"/>
<path d="M391.56 46.31L394.76 49.51M394.76 46.31L391.56 49.51" stroke="#00eeee" stroke-width="0.8" fill="none"/>
<path d="M396.57 46.01L399.77 49.21M399.77 46.01L396.57 49.21" stroke="#00eeee" stroke-width="0.8" fill="none"/>
<path d="M401.58 45.72L404.78 48.92M404.78 45.72L401.58 48.92" stroke="#00eeee" stroke-width="0.8" fill="none"/>
<path d="M406.59 45.44L409.79 48.64M409.79 45.44L406.59 48.64" stroke="#00eeee" stroke-width="0.8" fill="none"/>
<path d="M411.60 45.18L414.80 48.38M414.80 45.18L411.60 48.38" stroke="#00eeee" stroke-width="0.8" fill="none"/>
<path d="M416.61 44.93L419.81 48.13M419.81 44.93L416.61 48.13" stroke="#00eeee" stroke-width="0.8" fill="none"/>
<path d="M421.62 44.69L424.82 47.89M424.82 44.69L421.62 47.89" stroke="#00eeee" stroke-width="0.8" fill="none"/>
<path d="M426.63 44.47L429.83 47.67M429.83 44.47L426.63 47.67" stroke="#00eeee" stroke-width="0.8" fill="none"/>
<path d="M431.64 44.27L434.84 47.47M434.84 44.27L431.64 47.47" stroke="#00eeee" stroke-width="0.8" fill="none"/>
<path d="M436.65 44.08L439.85 47.28M439.85 44.08L436.65 47.28" stroke="#00eeee" stroke-width="0.8" fill="none"/>
<path d="M441.66 43.90L444.86 47.10M444.86 43.90L441.66 47.10" stroke="#00eeee" stroke-width="0.8" fill="none"/>
<path d="M446.67 43.73L449.87 46.93M449.87 43.73L446.67 46.93" stroke="#00eeee" stroke-width="0.8" fill="none"/>
<path d="M451.68 43.58L454.88 46.78M454.88 43.58L451.68 46.78" stroke="#00eeee" stroke-width="0.8" fill="none"/>
<path d="M456.69 43.43L459.89 46.63M459.89 43.43L456.69 46.63" stroke="#00eeee" stroke-width="0.8" fill="none"/>
<path d="M461.90 43.30L465.10 46.50M465.10 43.30L461.90 46.50" stroke="#00eeee" stroke-width="0.8" fill="none"/>
<path d="M62.5 42.3L63.5 42.3L64.5 42.3L65.5 42.3L66.5 42.3L67.5 42.3L68.5 42.3L69.5 42.3L70.5 42.3L71.5 42.4L72.5 42.4L73.5 42.4L74.5 42.4L75.5 42.4L76.5 42.4L77.5 42.4L78.5 42.4L79.5 42.4L80.5 42.5L81.5 42.5L82.5 42.5L83.5 42.5L84.5 42.5L85.5 42.5L86.5 42.6L87.5 42.6L88.5 42.6L89.5 42.6L90.5 42.6L91.5 42.6L92.5 42.7L93.5 42.7L94.5 42.7L95.5 42.7L96.5 42.7L97.5 42.8L98.5 42.8L99.5 42.8L100.0 42.8L100.5 42.8L101.5 42.8L102.5 42.9L103.5 42.9L104.5 42.9L105.5 42.9L106.5 42.9L107.5 43.0L108.5 43.0L109.5 43.0L110.5 43.1L111.5 43.1L112.5 43.1L113.5 43.2L114.5 43.2L115.5 43.2L116.5 43.3L117.5 43.3L118.5 43.3L119.5 43.4L120.5 43.4L121.5 43.4L122.5 43.5L123.5 43.5L124.5 43.5L125.5 43.6L126.5 43.6L127.5 43.7L128.5 43.7L129.5 43.7L130.5 43.8L131.5 43.8L132.5 43.9L133.5 43.9L134.5 44.0L135.5 44.0L136.5 44.0L137.5 44.1L138.5 44.1L139.5 44.2L140.0 44.2L140.5 44.2L141.5 44.3L142.5 44.3L143.5 44.4L144.5 44.4L145.5 44.5L146.5 44.6L147.5 44.6L148.5 44.7L149.5 44.8L150.5 44.8L151.5 44.9L152.5 45.0L153.5 45.1L154.5 45.1L155.5 45.2L156.5 45.3L157.5 45.4L158.5 45.5L159.5 45.5L160.5 45.6L161.5 45.7L162.5 45.8L163.5 45.8L164.5 45.9L165.5 46.0L166.5 46.0L167.5 46.1L168.5 46.2L169.5 46.2L170.5 46.3L171.5 46.3L172.5 46.4L173.5 46.4L174.5 46.5L175.5 46.5L176.5 46.5L177.5 46.6L178.5 46.6L179.5 46.6L180.0 46.6L180.5 46.6L181.5 46.6L182.5 46.6L183.5 46.6L184.5 46.6L185.5 46.6L186.5 46.6L187.5 46.7L188.5 46.7L189.5 46.7L190.5 46.7L191.5 46.7L192.5 46.7L193.5 46.7L194.5 46.7L195.5 46.7L196.5 46.7L197.5 46.7L198.5 46.7L199.5 46.7L200.0 46.7L200.5 46.7L201.5 46.7L202.5 46.7L203.5 46.7L204.5 46.7L205.5 46.6L206.5 46.6L207.5 46.6L208.5 46.6L209.5 46.5L210.5 46.5L211.5 46.5L212.5 46.4L213.5 46.4L214.5 46.4L215.5 46.3L216.5 46.3L217.5 46.2L218.5 46.2L219.5 46.1L220.5 46.1L221.5 46.0L222.5 46.0L223.5 45.9L224.5 45.9L225.5 45.8L226.5 45.8L227.5 45.7L228.5 45.7L229.5 45.6L230.0 45.6L230.5 45.6L231.5 45.5L232.5 45.5L233.5 45.4L234.5 45.3L235.5 45.2L236.5 45.1L237.5 45.0L238.5 45.0L239.5 44.9L240.5 44.8L241.5 44.7L242.5 44.6L243.5 44.6L244.5 44.5L245.5 44.4L246.5 44.4L247.5 44.3L248.5 44.3L249.5 44.3L250.0 44.3L250.5 44.3L251.5 44.3L252.5 44.4L253.5 44.5L254.5 44.6L255.5 44.7L256.5 44.8L257.5 44.9L258.0 45.0L258.5 45.1L259.5 45.3L260.5 45.5L261.5 45.8L262.0 46.0L262.5 46.2L263.5 47.0L264.5 47.8L265.5 48.4L266.0 48.6L266.5 48.7L267.5 48.9L268.5 49.0L269.5 49.1L270.5 49.2L271.5 49.2L271.8 172.0L272.8 173.9L273.8 175.5L274.8 176.9L275.8 177.9L276.0 178.0L276.8 178.5L277.8 179.1L278.8 179.5L279.8 179.7L280.0 179.7L280.8 179.5L281.8 178.8L282.8 177.4L283.8 175.1L284.8 171.9L284.9 171.5L285.8 150.0L286.8 138.8L287.8 131.3L288.0 130.0L288.8 125.1L289.8 119.9L290.8 115.3L291.5 112.0L291.8 110.5L292.8 105.7L293.8 101.0L294.8 96.8L295.0 96.0L295.8 93.0L296.8 89.6L297.8 86.5L298.5 84.5L298.8 83.7L299.8 81.0L300.8 78.4L301.8 76.1L302.8 74.3L303.0 74.0L303.8 72.9L304.8 71.7L305.8 70.7L306.8 69.8L307.8 69.0L308.0 68.8L308.8 68.2L309.8 67.5L310.8 66.9L311.8 66.4L312.8 65.9L313.5 65.5L313.8 65.4L314.8 64.9L315.8 64.4L316.8 64.0L317.8 63.6L318.6 63.3L318.8 63.2L319.8 62.9L320.8 62.7L321.8 62.4L322.8 62.2L323.6 62.0L323.8 62.0L324.8 61.7L325.8 61.5L326.8 61.2L327.8 61.0L328.7 60.8L328.8 60.8L329.8 60.6L330.8 60.3L331.8 60.1L332.8 59.9L333.8 59.7L334.8 59.5L335.0 59.5L335.8 59.4L336.8 59.2L337.8 59.0L338.8 58.8L339.8 58.6L340.8 58.5L341.8 58.3L342.8 58.1L343.8 58.0L344.8 57.8L345.8 57.6L346.8 57.5L347.8 57.3L348.8 57.1L349.8 57.0L350.8 56.8L351.8 56.7L352.8 56.5L353.8 56.4L354.8 56.2L355.8 56.1L356.8 55.9L357.8 55.8L358.8 55.7L359.8 55.5L360.0 55.5L360.8 55.4L361.8 55.3L362.8 55.1L363.8 55.0L364.8 54.9L365.8 54.7L366.8 54.6L367.8 54.5L368.8 54.3L369.8 54.2L370.8 54.1L371.8 54.0L372.8 53.8L373.8 53.7L374.8 53.6L375.8 53.5L376.8 53.4L377.8 53.2L378.8 53.1L379.8 53.0L380.8 52.9L381.8 52.8L382.8 52.7L383.8 52.5L384.8 52.4L385.8 52.3L386.8 52.2L387.8 52.1L388.8 52.0L389.8 51.9L390.8 51.8L391.8 51.7L392.8 51.6L393.8 51.5L394.8 51.3L395.8 51.2L396.8 51.1L397.8 51.0L398.8 50.9L399.8 50.8L400.0 50.8L400.8 50.7L401.8 50.6L402.8 50.5L403.8 50.4L404.8 50.3L405.8 50.2L406.8 50.1L407.8 50.0L408.8 49.9L409.8 49.8L410.8 49.7L411.8 49.6L412.8 49.5L413.8 49.4L414.8 49.3L415.8 49.2L416.8 49.1L417.8 49.0L418.8 48.9L419.8 48.8L420.8 48.7L421.8 48.6L422.8 48.5L423.8 48.5L424.8 48.4L425.8 48.3L426.8 48.2L427.8 48.1L428.8 48.1L429.8 48.0L430.0 48.0L430.8 47.9L431.8 47.9L432.8 47.8L433.8 47.8L434.8 47.7L435.8 47.6L436.8 47.6L437.8 47.5L438.8 47.5L439.8 47.4L440.8 47.3L441.8 47.3L442.8 47.2L443.8 47.2L444.8 47.1L445.8 47.1L446.8 47.0L447.8 47.0L448.8 46.9L449.8 46.9L450.8 46.8L451.8 46.8L452.8 46.8L453.8 46.7L454.8 46.7L455.8 46.6L456.8 46.6L457.8 46.6L458.8 46.5L459.8 46.5L460.8 46.5L461.8 46.4L462.8 46.4L463.5 46.4" fill="none" stroke="#b648b6" stroke-width="1.2" stroke-linejoin="round"/>
<path d="M60.90 40.70L64.10 43.90M64.10 40.70L60.90 43.90M62.50 40.70L62.50 43.90" stroke="#a020a0" stroke-width="0.65" fill="none"/>
<path d="M65.91 40.72L69.11 43.92M69.11 40.72L65.91 43.92M67.51 40.72L67.51 43.92" stroke="#a020a0" stroke-width="0.65" fill="none"/>
<path d="M70.92 40.77L74.12 43.97M74.12 40.77L70.92 43.97M72.52 40.77L72.52 43.97" stroke="#a020a0" stroke-width="0.65" fill="none"/>
<path d="M75.93 40.82L79.13 44.02M79.13 40.82L75.93 44.02M77.53 40.82L77.53 44.02" stroke="#a020a0" stroke-width="0.65" fill="none"/>
<path d="M80.94 40.89L84.14 44.09M84.14 40.89L80.94 44.09M82.54 40.89L82.54 44.09" stroke="#a020a0" stroke-width="0.65" fill="none"/>
<path d="M85.95 40.97L89.15 44.17M89.15 40.97L85.95 44.17M87.55 40.97L87.55 44.17" stroke="#a020a0" stroke-width="0.65" fill="none"/>
<path d="M90.96 41.06L94.16 44.26M94.16 41.06L90.96 44.26M92.56 41.06L92.56 44.26" stroke="#a020a0" stroke-width="0.65" fill="none"/>
<path d="M95.97 41.15L99.17 44.35M99.17 41.15L95.97 44.35M97.57 41.15L97.57 44.35" stroke="#a020a0" stroke-width="0.65" fill="none"/>
<path d="M100.98 41.25L104.18 44.45M104.18 41.25L100.98 44.45M102.58 41.25L102.58 44.45" stroke="#a020a0" stroke-width="0.65" fill="none"/>
<path d="M105.99 41.38L109.19 44.58M109.19 41.38L105.99 44.58M107.59 41.38L107.59 44.58" stroke="#a020a0" stroke-width="0.65" fill="none"/>
<path d="M111.00 41.52L114.20 44.72M114.20 41.52L111.00 44.72M112.60 41.52L112.60 44.72" stroke="#a020a0" stroke-width="0.65" fill="none"/>
<path d="M116.01 41.69L119.21 44.89M119.21 41.69L116.01 44.89M117.61 41.69L117.61 44.89" stroke="#a020a0" stroke-width="0.65" fill="none"/>
<path d="M121.02 41.87L124.22 45.07M124.22 41.87L121.02 45.07M122.62 41.87L122.62 45.07" stroke="#a020a0" stroke-width="0.65" fill="none"/>
<path d="M126.03 42.07L129.23 45.27M129.23 42.07L126.03 45.27M127.63 42.07L127.63 45.27" stroke="#a020a0" stroke-width="0.65" fill="none"/>
<path d="M131.04 42.28L134.24 45.48M134.24 42.28L131.04 45.48M132.64 42.28L132.64 45.48" stroke="#a020a0" stroke-width="0.65" fill="none"/>
<path d="M136.05 42.50L139.25 45.70M139.25 42.50L136.05 45.70M137.65 42.50L137.65 45.70" stroke="#a020a0" stroke-width="0.65" fill="none"/>
<path d="M141.06 42.73L144.26 45.93M144.26 42.73L141.06 45.93M142.66 42.73L142.66 45.93" stroke="#a020a0" stroke-width="0.65" fill="none"/>
<path d="M146.07 43.04L149.27 46.24M149.27 43.04L146.07 46.24M147.67 43.04L147.67 46.24" stroke="#a020a0" stroke-width="0.65" fill="none"/>
<path d="M151.08 43.41L154.28 46.61M154.28 43.41L151.08 46.61M152.68 43.41L152.68 46.61" stroke="#a020a0" stroke-width="0.65" fill="none"/>
<path d="M156.09 43.80L159.29 47.00M159.29 43.80L156.09 47.00M157.69 43.80L157.69 47.00" stroke="#a020a0" stroke-width="0.65" fill="none"/>
<path d="M161.10 44.18L164.30 47.38M164.30 44.18L161.10 47.38M162.70 44.18L162.70 47.38" stroke="#a020a0" stroke-width="0.65" fill="none"/>
<path d="M166.11 44.53L169.31 47.73M169.31 44.53L166.11 47.73M167.71 44.53L167.71 47.73" stroke="#a020a0" stroke-width="0.65" fill="none"/>
<path d="M171.12 44.80L174.32 48.00M174.32 44.80L171.12 48.00M172.72 44.80L172.72 48.00" stroke="#a020a0" stroke-width="0.65" fill="none"/>
<path d="M176.13 44.97L179.33 48.17M179.33 44.97L176.13 48.17M177.73 44.97L177.73 48.17" stroke="#a020a0" stroke-width="0.65" fill="none"/>
<path d="M181.14 45.02L184.34 48.22M184.34 45.02L181.14 48.22M182.74 45.02L182.74 48.22" stroke="#a020a0" stroke-width="0.65" fill="none"/>
<path d="M186.15 45.06L189.35 48.26M189.35 45.06L186.15 48.26M187.75 45.06L187.75 48.26" stroke="#a020a0" stroke-width="0.65" fill="none"/>
<path d="M191.16 45.08L194.36 48.28M194.36 45.08L191.16 48.28M192.76 45.08L192.76 48.28" stroke="#a020a0" stroke-width="0.65" fill="none"/>
<path d="M196.17 45.10L199.37 48.30M199.37 45.10L196.17 48.30M197.77 45.10L197.77 48.30" stroke="#a020a0" stroke-width="0.65" fill="none"/>
<path d="M201.18 45.08L204.38 48.28M204.38 45.08L201.18 48.28M202.78 45.08L202.78 48.28" stroke="#a020a0" stroke-width="0.65" fill="none"/>
<path d="M206.19 44.99L209.39 48.19M209.39 44.99L206.19 48.19M207.79 44.99L207.79 48.19" stroke="#a020a0" stroke-width="0.65" fill="none"/>
<path d="M211.20 44.82L214.40 48.02M214.40 44.82L211.20 48.02M212.80 44.82L212.80 48.02" stroke="#a020a0" stroke-width="0.65" fill="none"/>
<path d="M216.21 44.60L219.41 47.80M219.41 44.60L216.21 47.80M217.81 44.60L217.81 47.80" stroke="#a020a0" stroke-width="0.65" fill="none"/>
<path d="M221.22 44.36L224.42 47.56M224.42 44.36L221.22 47.56M222.82 44.36L222.82 47.56" stroke="#a020a0" stroke-width="0.65" fill="none"/>
<path d="M226.23 44.11L229.43 47.31M229.43 44.11L226.23 47.31M227.83 44.11L227.83 47.31" stroke="#a020a0" stroke-width="0.65" fill="none"/>
<path d="M231.24 43.83L234.44 47.03M234.44 43.83L231.24 47.03M232.84 43.83L232.84 47.03" stroke="#a020a0" stroke-width="0.65" fill="none"/>
<path d="M236.25 43.42L239.45 46.62M239.45 43.42L236.25 46.62M237.85 43.42L237.85 46.62" stroke="#a020a0" stroke-width="0.65" fill="none"/>
<path d="M241.26 43.00L244.46 46.20M244.46 43.00L241.26 46.20M242.86 43.00L242.86 46.20" stroke="#a020a0" stroke-width="0.65" fill="none"/>
<path d="M246.27 42.73L249.47 45.93M249.47 42.73L246.27 45.93M247.87 42.73L247.87 45.93" stroke="#a020a0" stroke-width="0.65" fill="none"/>
<path d="M251.28 42.82L254.48 46.02M254.48 42.82L251.28 46.02M252.88 42.82L252.88 46.02" stroke="#a020a0" stroke-width="0.65" fill="none"/>
<path d="M256.29 43.38L259.49 46.58M259.49 43.38L256.29 46.58M257.89 43.38L257.89 46.58" stroke="#a020a0" stroke-width="0.65" fill="none"/>
<path d="M261.30 44.90L264.50 48.10M264.50 44.90L261.30 48.10M262.90 44.90L262.90 48.10" stroke="#a020a0" stroke-width="0.65" fill="none"/>
<path d="M266.31 47.32L269.51 50.52M269.51 47.32L266.31 50.52M267.91 47.32L267.91 50.52" stroke="#a020a0" stroke-width="0.65" fill="none"/>
<path d="M269.90 47.60L273.10 50.80M273.10 47.60L269.90 50.80M271.50 47.60L271.50 50.80" stroke="#a020a0" stroke-width="0.65" fill="none"/>
<path d="M270.20 170.40L273.40 173.60M273.40 170.40L270.20 173.60M271.80 170.40L271.80 173.60" stroke="#a020a0" stroke-width="0.65" fill="none"/>
<path d="M271.32 172.48L274.52 175.68M274.52 172.48L271.32 175.68M272.92 172.48L272.92 175.68" stroke="#a020a0" stroke-width="0.65" fill="none"/>
<path d="M276.33 177.54L279.53 180.74M279.53 177.54L276.33 180.74M277.93 177.54L277.93 180.74" stroke="#a020a0" stroke-width="0.65" fill="none"/>
<path d="M281.34 175.54L284.54 178.74M284.54 175.54L281.34 178.74M282.94 175.54L282.94 178.74" stroke="#a020a0" stroke-width="0.65" fill="none"/>
<path d="M286.35 128.74L289.55 131.94M289.55 128.74L286.35 131.94M287.95 128.74L287.95 131.94" stroke="#a020a0" stroke-width="0.65" fill="none"/>
<path d="M291.36 103.33L294.56 106.53M294.56 103.33L291.36 106.53M292.96 103.33L292.96 106.53" stroke="#a020a0" stroke-width="0.65" fill="none"/>
<path d="M296.37 84.40L299.57 87.60M299.57 84.40L296.37 87.60M297.97 84.40L297.97 87.60" stroke="#a020a0" stroke-width="0.65" fill="none"/>
<path d="M301.38 72.43L304.58 75.63M304.58 72.43L301.38 75.63M302.98 72.43L302.98 75.63" stroke="#a020a0" stroke-width="0.65" fill="none"/>
<path d="M306.39 67.21L309.59 70.41M309.59 67.21L306.39 70.41M307.99 67.21L307.99 70.41" stroke="#a020a0" stroke-width="0.65" fill="none"/>
<path d="M311.40 64.15L314.60 67.35M314.60 64.15L311.40 67.35M313.00 64.15L313.00 67.35" stroke="#a020a0" stroke-width="0.65" fill="none"/>
<path d="M316.41 61.90L319.61 65.10M319.61 61.90L316.41 65.10M318.01 61.90L318.01 65.10" stroke="#a020a0" stroke-width="0.65" fill="none"/>
<path d="M321.42 60.54L324.62 63.74M324.62 60.54L321.42 63.74M323.02 60.54L323.02 63.74" stroke="#a020a0" stroke-width="0.65" fill="none"/>
<path d="M326.43 59.35L329.63 62.55M329.63 59.35L326.43 62.55M328.03 59.35L328.03 62.55" stroke="#a020a0" stroke-width="0.65" fill="none"/>
<path d="M331.44 58.28L334.64 61.48M334.64 58.28L331.44 61.48M333.04 58.28L333.04 61.48" stroke="#a020a0" stroke-width="0.65" fill="none"/>
<path d="M336.45 57.35L339.65 60.55M339.65 57.35L336.45 60.55M338.05 57.35L338.05 60.55" stroke="#a020a0" stroke-width="0.65" fill="none"/>
<path d="M341.46 56.48L344.66 59.68M344.66 56.48L341.46 59.68M343.06 56.48L343.06 59.68" stroke="#a020a0" stroke-width="0.65" fill="none"/>
<path d="M346.47 55.66L349.67 58.86M349.67 55.66L346.47 58.86M348.07 55.66L348.07 58.86" stroke="#a020a0" stroke-width="0.65" fill="none"/>
<path d="M351.48 54.89L354.68 58.09M354.68 54.89L351.48 58.09M353.08 54.89L353.08 58.09" stroke="#a020a0" stroke-width="0.65" fill="none"/>
<path d="M356.49 54.16L359.69 57.36M359.69 54.16L356.49 57.36M358.09 54.16L358.09 57.36" stroke="#a020a0" stroke-width="0.65" fill="none"/>
<path d="M361.50 53.48L364.70 56.68M364.70 53.48L361.50 56.68M363.10 53.48L363.10 56.68" stroke="#a020a0" stroke-width="0.65" fill="none"/>
<path d="M366.51 52.83L369.71 56.03M369.71 52.83L366.51 56.03M368.11 52.83L368.11 56.03" stroke="#a020a0" stroke-width="0.65" fill="none"/>
<path d="M371.52 52.20L374.72 55.40M374.72 52.20L371.52 55.40M373.12 52.20L373.12 55.40" stroke="#a020a0" stroke-width="0.65" fill="none"/>
<path d="M376.53 51.60L379.73 54.80M379.73 51.60L376.53 54.80M378.13 51.60L378.13 54.80" stroke="#a020a0" stroke-width="0.65" fill="none"/>
<path d="M381.54 51.02L384.74 54.22M384.74 51.02L381.54 54.22M383.14 51.02L383.14 54.22" stroke="#a020a0" stroke-width="0.65" fill="none"/>
<path d="M386.55 50.46L389.75 53.66M389.75 50.46L386.55 53.66M388.15 50.46L388.15 53.66" stroke="#a020a0" stroke-width="0.65" fill="none"/>
<path d="M391.56 49.92L394.76 53.12M394.76 49.92L391.56 53.12M393.16 49.92L393.16 53.12" stroke="#a020a0" stroke-width="0.65" fill="none"/>
<path d="M396.57 49.39L399.77 52.59M399.77 49.39L396.57 52.59M398.17 49.39L398.17 52.59" stroke="#a020a0" stroke-width="0.65" fill="none"/>
<path d="M401.58 48.87L404.78 52.07M404.78 48.87L401.58 52.07M403.18 48.87L403.18 52.07" stroke="#a020a0" stroke-width="0.65" fill="none"/>
<path d="M406.59 48.34L409.79 51.54M409.79 48.34L406.59 51.54M408.19 48.34L408.19 51.54" stroke="#a020a0" stroke-width="0.65" fill="none"/>
<path d="M411.60 47.83L414.80 51.03M414.80 47.83L411.60 51.03M413.20 47.83L413.20 51.03" stroke="#a020a0" stroke-width="0.65" fill="none"/>
<path d="M416.61 47.34L419.81 50.54M419.81 47.34L416.61 50.54M418.21 47.34L418.21 50.54" stroke="#a020a0" stroke-width="0.65" fill="none"/>
<path d="M421.62 46.90L424.82 50.10M424.82 46.90L421.62 50.10M423.22 46.90L423.22 50.10" stroke="#a020a0" stroke-width="0.65" fill="none"/>
<path d="M426.63 46.52L429.83 49.72M429.83 46.52L426.63 49.72M428.23 46.52L428.23 49.72" stroke="#a020a0" stroke-width="0.65" fill="none"/>
<path d="M431.64 46.20L434.84 49.40M434.84 46.20L431.64 49.40M433.24 46.20L433.24 49.40" stroke="#a020a0" stroke-width="0.65" fill="none"/>
<path d="M436.65 45.90L439.85 49.10M439.85 45.90L436.65 49.10M438.25 45.90L438.25 49.10" stroke="#a020a0" stroke-width="0.65" fill="none"/>
<path d="M441.66 45.61L444.86 48.81M444.86 45.61L441.66 48.81M443.26 45.61L443.26 48.81" stroke="#a020a0" stroke-width="0.65" fill="none"/>
<path d="M446.67 45.36L449.87 48.56M449.87 45.36L446.67 48.56M448.27 45.36L448.27 48.56" stroke="#a020a0" stroke-width="0.65" fill="none"/>
<path d="M451.68 45.14L454.88 48.34M454.88 45.14L451.68 48.34M453.28 45.14L453.28 48.34" stroke="#a020a0" stroke-width="0.65" fill="none"/>
<path d="M456.69 44.95L459.89 48.15M459.89 44.95L456.69 48.15M458.29 44.95L458.29 48.15" stroke="#a020a0" stroke-width="0.65" fill="none"/>
<path d="M461.90 44.80L465.10 48.00M465.10 44.80L461.90 48.00M463.50 44.80L463.50 48.00" stroke="#a020a0" stroke-width="0.65" fill="none"/>
<path d="M62.5 45.0L63.5 45.0L64.5 45.0L65.5 45.0L66.5 45.0L67.5 45.0L68.5 45.0L69.5 45.0L70.5 44.9L71.5 44.9L72.5 44.9L73.5 44.9L74.5 44.9L75.5 44.9L76.5 44.9L77.5 44.9L78.5 44.9L79.5 44.9L80.5 44.9L81.5 44.9L82.5 44.9L83.5 44.9L84.5 44.9L85.5 44.9L86.5 44.9L87.5 44.9L88.5 44.9L89.5 44.9L90.5 44.9L91.5 44.9L92.5 44.9L93.5 44.9L94.5 44.9L95.5 44.9L96.5 44.9L97.5 44.9L98.5 44.9L99.5 44.9L100.0 44.9L100.5 44.9L101.5 44.9L102.5 44.9L103.5 44.9L104.5 44.9L105.5 44.9L106.5 44.9L107.5 44.9L108.5 44.9L109.5 45.0L110.5 45.0L111.5 45.0L112.5 45.0L113.5 45.0L114.5 45.0L115.5 45.0L116.5 45.1L117.5 45.1L118.5 45.1L119.5 45.1L120.5 45.1L121.5 45.1L122.5 45.2L123.5 45.2L124.5 45.2L125.5 45.2L126.5 45.2L127.5 45.2L128.5 45.3L129.5 45.3L130.5 45.3L131.5 45.3L132.5 45.3L133.5 45.3L134.5 45.3L135.5 45.4L136.5 45.4L137.5 45.4L138.5 45.4L139.5 45.4L140.0 45.4L140.5 45.4L141.5 45.4L142.5 45.4L143.5 45.4L144.5 45.4L145.5 45.4L146.5 45.4L147.5 45.5L148.5 45.5L149.5 45.5L150.5 45.5L151.5 45.5L152.5 45.5L153.5 45.5L154.5 45.5L155.5 45.5L156.5 45.5L157.5 45.5L158.5 45.5L159.5 45.5L160.5 45.5L161.5 45.5L162.5 45.5L163.5 45.6L164.5 45.6L165.5 45.6L166.5 45.6L167.5 45.6L168.5 45.6L169.5 45.6L170.5 45.6L171.5 45.6L172.5 45.6L173.5 45.6L174.5 45.6L175.5 45.6L176.5 45.6L177.5 45.6L178.5 45.6L179.5 45.6L180.0 45.6L180.5 45.6L181.5 45.6L182.5 45.6L183.5 45.6L184.5 45.6L185.5 45.6L186.5 45.5L187.5 45.5L188.5 45.5L189.5 45.5L190.5 45.5L191.5 45.4L192.5 45.4L193.5 45.4L194.5 45.4L195.5 45.3L196.5 45.3L197.5 45.3L198.5 45.2L199.5 45.2L200.0 45.2L200.5 45.2L201.5 45.2L202.5 45.1L203.5 45.1L204.5 45.1L205.5 45.0L206.5 45.0L207.5 44.9L208.5 44.9L209.5 44.8L210.5 44.8L211.5 44.7L212.5 44.7L213.5 44.6L214.5 44.6L215.5 44.5L216.5 44.5L217.5 44.4L218.5 44.3L219.5 44.2L220.0 44.2L220.5 44.2L221.5 44.1L222.5 43.9L223.5 43.8L224.5 43.7L225.5 43.5L226.5 43.3L227.5 43.2L228.5 43.0L229.5 42.8L230.5 42.6L231.5 42.5L232.0 42.4L232.5 42.3L233.5 42.2L234.5 42.0L235.5 41.8L236.5 41.6L237.5 41.4L238.5 41.2L239.5 41.0L240.5 40.9L241.5 40.7L242.5 40.6L243.5 40.4L244.5 40.3L245.0 40.3L245.5 40.3L246.5 40.2L247.5 40.1L248.5 40.1L249.5 40.0L250.5 40.0L251.5 39.9L252.5 39.9L253.5 39.9L253.8 39.9L254.5 39.9L255.5 40.0L256.5 40.1L257.5 40.3L258.5 40.5L258.9 40.6L259.5 40.8L260.5 41.5L261.5 42.5L262.5 43.5L263.5 44.5L264.5 45.5L265.5 46.6L266.5 47.7L267.5 48.6L268.5 49.0L268.7 49.0L269.5 48.9L270.5 48.6L271.5 48.0L272.5 47.1L273.5 46.0L273.9 45.4L274.1 215.7L275.1 215.0L276.1 214.6L276.2 214.6L277.1 214.6L278.1 214.6L279.1 214.6L280.0 214.6L280.1 214.6L281.1 213.5L282.1 210.8L283.1 206.9L284.1 202.0L284.3 201.0L285.1 193.7L286.1 181.1L286.2 180.0L287.1 171.1L287.6 165.0L288.1 154.4L288.4 149.4L289.1 143.6L290.1 137.4L291.1 133.0L292.1 129.3L293.1 125.2L293.3 124.3L294.1 120.4L295.1 115.5L296.1 110.8L297.1 106.4L298.1 102.5L298.4 101.4L299.1 99.1L300.1 95.9L301.1 93.1L302.1 90.5L303.1 88.2L303.5 87.4L304.1 86.3L305.1 84.6L306.1 83.1L307.1 81.7L308.1 80.4L308.6 79.7L309.1 79.0L310.1 77.7L311.1 76.3L312.1 75.1L313.1 74.0L313.7 73.4L314.1 73.0L315.1 72.2L316.1 71.4L317.1 70.7L318.1 70.0L318.8 69.6L319.1 69.4L320.1 68.9L321.1 68.4L322.1 68.0L323.1 67.6L324.1 67.2L324.5 67.0L325.1 66.8L326.1 66.4L327.1 66.0L328.1 65.7L329.1 65.3L329.6 65.1L330.1 64.9L331.1 64.5L332.1 64.1L333.1 63.7L334.1 63.2L335.0 62.9L335.1 62.9L336.1 62.5L337.1 62.1L338.1 61.8L339.1 61.4L340.1 61.0L341.1 60.7L342.1 60.3L343.1 60.0L344.1 59.7L345.1 59.4L346.1 59.1L347.1 58.8L348.1 58.5L349.1 58.2L350.0 58.0L350.1 58.0L351.1 57.7L352.1 57.5L353.1 57.3L354.1 57.1L355.1 56.9L356.1 56.7L357.1 56.5L358.1 56.3L359.1 56.1L360.1 55.9L361.1 55.8L362.1 55.6L363.1 55.4L364.1 55.2L365.1 55.1L366.1 54.9L367.1 54.7L368.1 54.5L369.1 54.4L370.0 54.2L370.1 54.2L371.1 54.0L372.1 53.8L373.1 53.6L374.1 53.4L375.1 53.2L376.1 53.0L377.1 52.8L378.1 52.6L379.1 52.4L380.1 52.2L381.1 52.0L382.1 51.8L383.1 51.6L384.1 51.4L385.1 51.2L386.1 51.0L387.1 50.8L388.1 50.7L389.1 50.5L390.1 50.3L391.1 50.1L392.1 49.9L393.1 49.8L394.1 49.6L395.1 49.4L396.1 49.3L397.1 49.1L398.1 49.0L399.1 48.8L400.0 48.7L400.1 48.7L401.1 48.6L402.1 48.4L403.1 48.3L404.1 48.2L405.1 48.1L406.1 47.9L407.1 47.8L408.1 47.7L409.1 47.6L410.1 47.5L411.1 47.4L412.1 47.3L413.1 47.2L414.1 47.0L415.1 46.9L416.1 46.8L417.1 46.7L418.1 46.6L419.1 46.6L420.1 46.5L421.1 46.4L422.1 46.3L423.1 46.2L424.1 46.1L425.1 46.0L426.1 45.9L427.1 45.8L428.1 45.8L429.1 45.7L430.0 45.6L430.1 45.6L431.1 45.5L432.1 45.4L433.1 45.4L434.1 45.3L435.1 45.2L436.1 45.1L437.1 45.0L438.1 45.0L439.1 44.9L440.1 44.8L441.1 44.7L442.1 44.7L443.1 44.6L444.1 44.5L445.1 44.5L446.1 44.4L447.1 44.3L448.1 44.3L449.1 44.2L450.1 44.1L451.1 44.1L452.1 44.0L453.1 44.0L454.1 43.9L455.1 43.8L456.1 43.8L457.1 43.7L458.1 43.7L459.1 43.6L460.1 43.6L461.1 43.5L462.1 43.5L463.1 43.4L463.5 43.4" fill="none" stroke="#c03434" stroke-width="1.2" stroke-linejoin="round"/>
<circle cx="62.50" cy="45.00" r="1.00" fill="#a00000"/>
<circle cx="67.51" cy="44.97" r="1.00" fill="#a00000"/>
<circle cx="72.52" cy="44.94" r="1.00" fill="#a00000"/>
<circle cx="77.53" cy="44.92" r="1.00" fill="#a00000"/>
<circle cx="82.54" cy="44.91" r="1.00" fill="#a00000"/>
<circle cx="87.55" cy="44.90" r="1.00" fill="#a00000"/>
<circle cx="92.56" cy="44.90" r="1.00" fill="#a00000"/>
<circle cx="97.57" cy="44.90" r="1.00" fill="#a00000"/>
<circle cx="102.58" cy="44.90" r="1.00" fill="#a00000"/>
<circle cx="107.59" cy="44.94" r="1.00" fill="#a00000"/>
<circle cx="112.60" cy="45.00" r="1.00" fill="#a00000"/>
<circle cx="117.61" cy="45.07" r="1.00" fill="#a00000"/>
<circle cx="122.62" cy="45.16" r="1.00" fill="#a00000"/>
<circle cx="127.63" cy="45.24" r="1.00" fill="#a00000"/>
<circle cx="132.64" cy="45.32" r="1.00" fill="#a00000"/>
<circle cx="137.65" cy="45.38" r="1.00" fill="#a00000"/>
<circle cx="142.66" cy="45.42" r="1.00" fill="#a00000"/>
<circle cx="147.67" cy="45.46" r="1.00" fill="#a00000"/>
<circle cx="152.68" cy="45.49" r="1.00" fill="#a00000"/>
<circle cx="157.69" cy="45.52" r="1.00" fill="#a00000"/>
<circle cx="162.70" cy="45.55" r="1.00" fill="#a00000"/>
<circle cx="167.71" cy="45.57" r="1.00" fill="#a00000"/>
<circle cx="172.72" cy="45.59" r="1.00" fill="#a00000"/>
<circle cx="177.73" cy="45.60" r="1.00" fill="#a00000"/>
<circle cx="182.74" cy="45.59" r="1.00" fill="#a00000"/>
<circle cx="187.75" cy="45.52" r="1.00" fill="#a00000"/>
<circle cx="192.76" cy="45.40" r="1.00" fill="#a00000"/>
<circle cx="197.77" cy="45.26" r="1.00" fill="#a00000"/>
<circle cx="202.78" cy="45.11" r="1.00" fill="#a00000"/>
<circle cx="207.79" cy="44.93" r="1.00" fill="#a00000"/>
<circle cx="212.80" cy="44.68" r="1.00" fill="#a00000"/>
<circle cx="217.81" cy="44.36" r="1.00" fill="#a00000"/>
<circle cx="222.82" cy="43.90" r="1.00" fill="#a00000"/>
<circle cx="227.83" cy="43.10" r="1.00" fill="#a00000"/>
<circle cx="232.84" cy="42.26" r="1.00" fill="#a00000"/>
<circle cx="237.85" cy="41.33" r="1.00" fill="#a00000"/>
<circle cx="242.86" cy="40.51" r="1.00" fill="#a00000"/>
<circle cx="247.87" cy="40.11" r="1.00" fill="#a00000"/>
<circle cx="252.88" cy="39.91" r="1.00" fill="#a00000"/>
<circle cx="257.89" cy="40.37" r="1.00" fill="#a00000"/>
<circle cx="262.90" cy="43.95" r="1.00" fill="#a00000"/>
<circle cx="267.91" cy="48.81" r="1.00" fill="#a00000"/>
<circle cx="272.92" cy="46.68" r="1.00" fill="#a00000"/>
<circle cx="273.90" cy="45.40" r="1.00" fill="#a00000"/>
<circle cx="274.10" cy="215.70" r="1.00" fill="#a00000"/>
<circle cx="277.93" cy="214.60" r="1.00" fill="#a00000"/>
<circle cx="282.94" cy="207.59" r="1.00" fill="#a00000"/>
<circle cx="287.95" cy="157.89" r="1.00" fill="#a00000"/>
<circle cx="292.96" cy="125.85" r="1.00" fill="#a00000"/>
<circle cx="297.97" cy="102.93" r="1.00" fill="#a00000"/>
<circle cx="302.98" cy="88.46" r="1.00" fill="#a00000"/>
<circle cx="307.99" cy="80.52" r="1.00" fill="#a00000"/>
<circle cx="313.00" cy="74.10" r="1.00" fill="#a00000"/>
<circle cx="318.01" cy="70.07" r="1.00" fill="#a00000"/>
<circle cx="323.02" cy="67.61" r="1.00" fill="#a00000"/>
<circle cx="328.03" cy="65.68" r="1.00" fill="#a00000"/>
<circle cx="333.04" cy="63.68" r="1.00" fill="#a00000"/>
<circle cx="338.05" cy="61.78" r="1.00" fill="#a00000"/>
<circle cx="343.06" cy="60.03" r="1.00" fill="#a00000"/>
<circle cx="348.07" cy="58.50" r="1.00" fill="#a00000"/>
<circle cx="353.08" cy="57.30" r="1.00" fill="#a00000"/>
<circle cx="358.09" cy="56.30" r="1.00" fill="#a00000"/>
<circle cx="363.10" cy="55.42" r="1.00" fill="#a00000"/>
<circle cx="368.11" cy="54.55" r="1.00" fill="#a00000"/>
<circle cx="373.12" cy="53.60" r="1.00" fill="#a00000"/>
<circle cx="378.13" cy="52.61" r="1.00" fill="#a00000"/>
<circle cx="383.14" cy="51.61" r="1.00" fill="#a00000"/>
<circle cx="388.15" cy="50.64" r="1.00" fill="#a00000"/>
<circle cx="393.16" cy="49.74" r="1.00" fill="#a00000"/>
<circle cx="398.17" cy="48.95" r="1.00" fill="#a00000"/>
<circle cx="403.18" cy="48.29" r="1.00" fill="#a00000"/>
<circle cx="408.19" cy="47.69" r="1.00" fill="#a00000"/>
<circle cx="413.20" cy="47.14" r="1.00" fill="#a00000"/>
<circle cx="418.21" cy="46.64" r="1.00" fill="#a00000"/>
<circle cx="423.22" cy="46.17" r="1.00" fill="#a00000"/>
<circle cx="428.23" cy="45.74" r="1.00" fill="#a00000"/>
<circle cx="433.24" cy="45.34" r="1.00" fill="#a00000"/>
<circle cx="438.25" cy="44.96" r="1.00" fill="#a00000"/>
<circle cx="443.26" cy="44.59" r="1.00" fill="#a00000"/>
<circle cx="448.27" cy="44.25" r="1.00" fill="#a00000"/>
<circle cx="453.28" cy="43.94" r="1.00" fill="#a00000"/>
<circle cx="458.29" cy="43.66" r="1.00" fill="#a00000"/>
<circle cx="463.50" cy="43.40" r="1.00" fill="#a00000"/>
<text x="191.6" y="143.2" font-size="12" fill="#1a1a1a" stroke="#1a1a1a" stroke-width="0.45">Fault</text>
<path d="M219 133.8L258 115.3" stroke="#111" stroke-width="1.5" fill="none"/>
<path d="M261.8 113.2L256.4 112.9L258.9 118Z" fill="#111"/>
<path d="M336.9 113.3H349.9" stroke="#26269a" stroke-width="1.25" fill="none"/>
<path d="M343.60 111.85L345.05 113.30L343.60 114.75L342.15 113.30Z" fill="#000080"/>
<text x="351.3" y="116.70" font-size="9.3" fill="#1a1a1a" stroke="#1a1a1a" stroke-width="0.32">Fault dip angle is 30°</text>
<path d="M336.9 130.55H349.9" stroke="#ff00ff" stroke-width="1.25" fill="none"/>
<rect x="342.70" y="129.65" width="1.80" height="1.80" fill="#ff00ff"/>
<text x="351.3" y="133.95" font-size="9.3" fill="#1a1a1a" stroke="#1a1a1a" stroke-width="0.32">Fault dip angle is 40°</text>
<path d="M336.9 147.8H349.9" stroke="#119911" stroke-width="1.25" fill="none"/>
<path d="M343.60 146.55L344.85 148.80L342.35 148.80Z" fill="#007700"/>
<text x="351.3" y="151.20" font-size="9.3" fill="#1a1a1a" stroke="#1a1a1a" stroke-width="0.32">Fault dip angle is 50°</text>
<path d="M336.9 165.05H349.9" stroke="#00ffff" stroke-width="1.25" fill="none"/>
<path d="M342.00 163.45L345.20 166.65M345.20 163.45L342.00 166.65" stroke="#00eeee" stroke-width="0.8" fill="none"/>
<text x="351.3" y="168.45" font-size="9.3" fill="#1a1a1a" stroke="#1a1a1a" stroke-width="0.32">Fault dip angle is 60°</text>
<path d="M336.9 182.3H349.9" stroke="#b648b6" stroke-width="1.25" fill="none"/>
<path d="M342.00 180.70L345.20 183.90M345.20 180.70L342.00 183.90M343.60 180.70L343.60 183.90" stroke="#a020a0" stroke-width="0.65" fill="none"/>
<text x="351.3" y="185.70" font-size="9.3" fill="#1a1a1a" stroke="#1a1a1a" stroke-width="0.32">Fault dip angle is 70°</text>
<path d="M336.9 199.55H349.9" stroke="#c03434" stroke-width="1.25" fill="none"/>
<circle cx="343.60" cy="199.55" r="1.00" fill="#a00000"/>
<text x="351.3" y="202.95" font-size="9.3" fill="#1a1a1a" stroke="#1a1a1a" stroke-width="0.32">Fault dip angle is 80°</text>
<text x="233.3" y="275" font-size="12.5" fill="#111" stroke="#111" stroke-width="0.25">(<tspan font-weight="bold">a</tspan>)</text>
<path d="M65.5 289.30V521.60" stroke="#8c8c8c" stroke-width="1" fill="none"/>
<path d="M65.5 289.30H69" stroke="#8c8c8c" stroke-width="1" fill="none"/>
<path d="M65.5 322.40H69" stroke="#8c8c8c" stroke-width="1" fill="none"/>
<path d="M65.5 355.40H69" stroke="#8c8c8c" stroke-width="1" fill="none"/>
<path d="M65.5 388.60H69" stroke="#8c8c8c" stroke-width="1" fill="none"/>
<path d="M65.5 422.10H69" stroke="#8c8c8c" stroke-width="1" fill="none"/>
<path d="M65.5 455.00H69" stroke="#8c8c8c" stroke-width="1" fill="none"/>
<path d="M65.5 488.40H69" stroke="#8c8c8c" stroke-width="1" fill="none"/>
<path d="M65.5 521.60H69" stroke="#8c8c8c" stroke-width="1" fill="none"/>
<path d="M65.5 455.5H461.5" stroke="#a2a2a2" stroke-width="1" fill="none"/>
<path d="M114.90 455.5V451.8" stroke="#8c8c8c" stroke-width="1" fill="none"/>
<path d="M164.40 455.5V451.8" stroke="#8c8c8c" stroke-width="1" fill="none"/>
<path d="M213.90 455.5V451.8" stroke="#8c8c8c" stroke-width="1" fill="none"/>
<path d="M263.40 455.5V451.8" stroke="#8c8c8c" stroke-width="1" fill="none"/>
<path d="M312.90 455.5V451.8" stroke="#8c8c8c" stroke-width="1" fill="none"/>
<path d="M362.40 455.5V451.8" stroke="#8c8c8c" stroke-width="1" fill="none"/>
<path d="M411.90 455.5V451.8" stroke="#8c8c8c" stroke-width="1" fill="none"/>
<path d="M461.40 455.5V451.8" stroke="#8c8c8c" stroke-width="1" fill="none"/>
<text x="27.60 33.80 39.40 45.30" y="292.70" font-size="11.4" fill="#333" stroke="#333" stroke-width="0.25">0.15</text>
<text x="27.60 33.80 39.40 45.30" y="325.80" font-size="11.4" fill="#333" stroke="#333" stroke-width="0.25">0.12</text>
<text x="27.60 33.80 39.40 45.30" y="358.80" font-size="11.4" fill="#333" stroke="#333" stroke-width="0.25">0.09</text>
<text x="27.60 33.80 39.40 45.30" y="392.00" font-size="11.4" fill="#333" stroke="#333" stroke-width="0.25">0.06</text>
<text x="27.60 33.80 39.40 45.30" y="425.50" font-size="11.4" fill="#333" stroke="#333" stroke-width="0.25">0.03</text>
<text x="27.60 33.80 39.40 45.30" y="458.40" font-size="11.4" fill="#333" stroke="#333" stroke-width="0.25">0.00</text>
<text x="21.50 27.60 33.80 39.40 45.30" y="491.80" font-size="11.4" fill="#333" stroke="#333" stroke-width="0.25">−0.03</text>
<text x="21.50 27.60 33.80 39.40 45.30" y="525.00" font-size="11.4" fill="#333" stroke="#333" stroke-width="0.25">−0.06</text>
<text x="62.80" y="472.7" font-size="11.8" text-anchor="middle" fill="#333" stroke="#333" stroke-width="0.25">0</text>
<text x="112.30" y="472.7" font-size="11.8" text-anchor="middle" fill="#333" stroke="#333" stroke-width="0.25">200</text>
<text x="161.80" y="472.7" font-size="11.8" text-anchor="middle" fill="#333" stroke="#333" stroke-width="0.25">400</text>
<text x="211.30" y="472.7" font-size="11.8" text-anchor="middle" fill="#333" stroke="#333" stroke-width="0.25">600</text>
<text x="260.80" y="472.7" font-size="11.8" text-anchor="middle" fill="#333" stroke="#333" stroke-width="0.25">800</text>
<text x="310.30" y="472.7" font-size="11.8" text-anchor="middle" fill="#333" stroke="#333" stroke-width="0.25">1000</text>
<text x="359.80" y="472.7" font-size="11.8" text-anchor="middle" fill="#333" stroke="#333" stroke-width="0.25">1200</text>
<text x="409.30" y="472.7" font-size="11.8" text-anchor="middle" fill="#333" stroke="#333" stroke-width="0.25">1400</text>
<text x="458.80" y="472.7" font-size="11.8" text-anchor="middle" fill="#333" stroke="#333" stroke-width="0.25">1600</text>
<text x="400.8" y="493" font-size="12" fill="#222" stroke="#222" stroke-width="0.25">Distance (m)</text>
<text transform="translate(14,421.9) rotate(-90)" font-size="12.2" text-anchor="middle" fill="#222" stroke="#222" stroke-width="0.25">Horizontal displacement (m)</text>
<path d="M65.4 455.0L66.4 455.1L67.4 455.2L68.4 455.3L69.4 455.3L70.4 455.4L71.4 455.5L72.4 455.6L73.4 455.7L74.4 455.8L75.4 455.9L76.4 456.0L77.4 456.0L78.4 456.1L79.4 456.2L80.4 456.3L81.4 456.4L82.4 456.5L83.4 456.6L84.4 456.6L85.4 456.7L86.4 456.8L87.4 456.9L88.4 457.0L89.4 457.1L90.4 457.2L91.4 457.3L92.4 457.3L93.4 457.4L94.4 457.5L95.4 457.6L96.4 457.7L97.4 457.8L98.4 457.9L99.4 457.9L100.0 458.0L100.4 458.1L101.4 458.2L102.4 458.3L103.4 458.4L104.4 458.6L105.4 458.7L106.4 458.8L107.4 458.9L108.4 459.1L109.4 459.2L110.4 459.3L111.4 459.4L112.4 459.6L113.4 459.7L114.4 459.8L115.4 459.9L116.4 460.1L117.4 460.2L118.4 460.3L119.4 460.4L120.4 460.6L121.4 460.7L122.4 460.8L123.4 460.9L124.4 461.1L125.4 461.2L126.4 461.3L127.4 461.4L128.4 461.6L129.4 461.7L130.4 461.8L131.4 461.9L132.4 462.1L133.4 462.2L134.4 462.3L135.4 462.4L136.4 462.6L137.4 462.7L138.4 462.8L139.4 462.9L140.0 463.0L140.4 463.1L141.4 463.3L142.4 463.5L143.4 463.7L144.4 463.9L145.4 464.1L146.4 464.3L147.4 464.5L148.4 464.7L149.4 464.9L150.4 465.1L151.4 465.3L152.4 465.5L153.4 465.7L154.4 465.9L155.4 466.1L156.4 466.3L157.4 466.5L158.4 466.7L159.4 466.9L160.4 467.1L161.4 467.3L162.4 467.5L163.4 467.7L164.4 467.9L165.4 468.1L166.4 468.4L167.4 468.6L168.4 468.8L169.4 469.0L170.4 469.2L171.4 469.4L172.4 469.6L173.4 469.8L174.4 470.0L175.4 470.2L176.4 470.4L177.0 470.5L177.4 470.6L178.4 470.9L179.4 471.2L180.4 471.5L181.4 471.8L182.4 472.1L183.4 472.4L184.4 472.7L185.4 473.0L186.4 473.3L187.4 473.6L188.4 473.9L189.4 474.2L190.4 474.5L191.4 474.8L192.4 475.1L193.4 475.4L194.4 475.7L195.4 476.0L196.4 476.3L197.4 476.6L198.4 476.9L199.4 477.2L200.4 477.4L201.4 477.7L202.4 478.0L203.4 478.3L204.4 478.6L205.4 478.9L206.4 479.2L207.4 479.5L208.4 479.8L209.4 480.1L210.0 480.3L210.4 480.4L211.4 480.7L212.4 481.0L213.4 481.4L214.4 481.7L215.4 482.0L216.4 482.3L217.4 482.6L218.4 482.9L219.4 483.2L220.4 483.5L221.4 483.8L222.4 484.1L223.4 484.5L224.4 484.8L225.4 485.1L226.4 485.4L227.4 485.7L228.4 486.0L229.4 486.3L230.4 486.6L231.4 486.9L232.4 487.2L233.4 487.6L234.4 487.9L235.4 488.2L236.4 488.5L237.4 488.8L238.4 489.1L239.4 489.4L240.0 489.6L240.4 489.7L241.4 490.0L242.4 490.2L243.4 490.5L244.4 490.7L245.1 490.9L245.4 490.9L246.4 491.1L247.4 491.2L248.4 491.3L249.4 491.4L250.1 491.5L250.4 491.5L251.4 491.3L252.4 491.2L253.4 491.1L254.4 491.0L255.0 490.9L255.2 485.0L256.2 484.8L257.2 484.6L258.2 484.5L259.2 484.3L260.2 484.1L260.3 484.1L261.2 483.7L262.2 483.3L263.2 482.9L264.2 482.5L265.2 482.0L265.3 482.0L266.2 479.8L267.0 477.8L267.2 477.2L268.2 474.2L269.2 471.1L270.2 468.1L271.2 465.1L272.2 461.4L273.2 457.6L274.2 453.9L275.2 450.2L276.2 446.5L276.7 444.6L277.2 447.3L278.2 452.8L279.2 458.2L280.0 462.6L280.2 462.7L281.2 463.4L282.2 464.0L283.2 464.6L284.2 465.2L284.3 465.3L285.2 464.9L286.2 464.4L287.2 463.9L288.2 463.4L288.7 463.1L289.2 462.4L290.2 461.1L291.2 459.8L292.2 458.5L293.2 457.1L293.6 456.6L294.2 455.5L295.2 453.6L296.2 451.8L297.2 450.0L298.2 448.1L298.8 447.0L299.2 446.3L300.2 444.4L301.2 442.5L302.2 440.6L303.2 438.8L303.4 438.4L304.2 437.7L305.2 436.9L306.2 436.0L307.2 435.2L308.2 434.4L308.5 434.1L309.2 433.8L310.2 433.3L311.2 432.8L312.2 432.3L313.2 431.8L313.6 431.6L314.2 431.5L315.2 431.3L316.2 431.1L317.2 431.0L318.2 430.8L319.2 430.6L320.2 430.4L320.3 430.4L321.2 430.5L322.2 430.7L323.2 430.8L324.2 431.0L325.2 431.1L326.2 431.2L327.2 431.4L328.2 431.5L328.8 431.6L329.2 431.7L330.2 431.9L331.2 432.1L332.2 432.3L333.2 432.5L334.2 432.6L335.0 432.8L335.2 432.8L336.2 433.1L337.2 433.3L338.2 433.5L339.2 433.8L340.2 434.0L341.2 434.2L342.2 434.4L343.2 434.7L344.2 434.9L345.2 435.1L346.2 435.4L347.2 435.6L348.2 435.8L349.0 436.0L349.2 436.0L350.2 436.2L351.2 436.4L352.2 436.6L353.2 436.8L354.2 436.9L355.2 437.1L356.2 437.3L357.2 437.5L358.2 437.7L359.2 437.9L360.0 438.0L360.2 438.0L361.2 438.2L362.2 438.4L363.2 438.6L364.2 438.8L365.2 439.0L366.2 439.2L367.2 439.4L368.2 439.6L369.2 439.8L370.2 440.0L371.2 440.2L372.2 440.4L373.2 440.6L374.2 440.8L375.0 441.0L375.2 441.0L376.2 441.2L377.2 441.4L378.2 441.6L379.2 441.8L380.2 442.0L381.2 442.2L382.2 442.4L383.2 442.6L384.2 442.7L385.2 442.9L386.2 443.1L387.2 443.3L388.2 443.5L389.2 443.7L390.2 443.9L391.2 444.1L392.2 444.3L393.2 444.5L394.2 444.6L395.0 444.8L395.2 444.8L396.2 445.0L397.2 445.2L398.2 445.4L399.2 445.6L400.2 445.7L401.2 445.9L402.2 446.1L403.2 446.3L404.2 446.5L405.2 446.6L406.2 446.8L407.2 447.0L408.2 447.2L409.2 447.4L410.2 447.5L411.2 447.7L412.2 447.9L413.2 448.1L414.2 448.3L415.2 448.4L416.2 448.6L417.2 448.8L418.2 449.0L419.2 449.2L420.0 449.3L420.2 449.3L421.2 449.5L422.2 449.6L423.2 449.7L424.2 449.9L425.2 450.0L426.2 450.2L427.2 450.3L428.2 450.4L429.2 450.6L430.2 450.7L431.2 450.8L432.2 451.0L433.2 451.1L434.2 451.3L435.2 451.4L436.2 451.5L437.2 451.7L438.2 451.8L439.2 451.9L440.2 452.1L441.2 452.2L442.2 452.4L443.2 452.5L444.2 452.6L445.2 452.8L446.2 452.9L447.2 453.1L448.2 453.2L449.2 453.3L450.2 453.5L451.2 453.6L452.2 453.7L453.2 453.9L454.2 454.0L455.2 454.2L456.2 454.3L457.2 454.4L458.2 454.6L459.2 454.7L460.2 454.8L461.2 455.0L461.3 455.0" fill="none" stroke="#26269a" stroke-width="1.2" stroke-linejoin="round"/>
<path d="M65.40 453.55L66.85 455.00L65.40 456.45L63.95 455.00Z" fill="#000080"/>
<path d="M70.35 453.98L71.80 455.43L70.35 456.88L68.90 455.43Z" fill="#000080"/>
<path d="M75.30 454.41L76.75 455.86L75.30 457.31L73.85 455.86Z" fill="#000080"/>
<path d="M80.25 454.84L81.70 456.29L80.25 457.74L78.80 456.29Z" fill="#000080"/>
<path d="M85.20 455.27L86.65 456.72L85.20 458.17L83.75 456.72Z" fill="#000080"/>
<path d="M90.15 455.70L91.60 457.15L90.15 458.60L88.70 457.15Z" fill="#000080"/>
<path d="M95.10 456.13L96.55 457.58L95.10 459.03L93.65 457.58Z" fill="#000080"/>
<path d="M100.05 456.56L101.50 458.01L100.05 459.46L98.60 458.01Z" fill="#000080"/>
<path d="M105.00 457.18L106.45 458.62L105.00 460.07L103.55 458.62Z" fill="#000080"/>
<path d="M109.95 457.79L111.40 459.24L109.95 460.69L108.50 459.24Z" fill="#000080"/>
<path d="M114.90 458.41L116.35 459.86L114.90 461.31L113.45 459.86Z" fill="#000080"/>
<path d="M119.85 459.03L121.30 460.48L119.85 461.93L118.40 460.48Z" fill="#000080"/>
<path d="M124.80 459.65L126.25 461.10L124.80 462.55L123.35 461.10Z" fill="#000080"/>
<path d="M129.75 460.27L131.20 461.72L129.75 463.17L128.30 461.72Z" fill="#000080"/>
<path d="M134.70 460.89L136.15 462.34L134.70 463.79L133.25 462.34Z" fill="#000080"/>
<path d="M139.65 461.51L141.10 462.96L139.65 464.41L138.20 462.96Z" fill="#000080"/>
<path d="M144.60 462.48L146.05 463.93L144.60 465.38L143.15 463.93Z" fill="#000080"/>
<path d="M149.55 463.49L151.00 464.94L149.55 466.39L148.10 464.94Z" fill="#000080"/>
<path d="M154.50 464.49L155.95 465.94L154.50 467.39L153.05 465.94Z" fill="#000080"/>
<path d="M159.45 465.49L160.90 466.94L159.45 468.39L158.00 466.94Z" fill="#000080"/>
<path d="M164.40 466.50L165.85 467.95L164.40 469.40L162.95 467.95Z" fill="#000080"/>
<path d="M169.35 467.50L170.80 468.95L169.35 470.40L167.90 468.95Z" fill="#000080"/>
<path d="M174.30 468.50L175.75 469.95L174.30 471.40L172.85 469.95Z" fill="#000080"/>
<path d="M179.25 469.72L180.70 471.17L179.25 472.62L177.80 471.17Z" fill="#000080"/>
<path d="M184.20 471.19L185.65 472.64L184.20 474.09L182.75 472.64Z" fill="#000080"/>
<path d="M189.15 472.66L190.60 474.11L189.15 475.56L187.70 474.11Z" fill="#000080"/>
<path d="M194.10 474.13L195.55 475.58L194.10 477.03L192.65 475.58Z" fill="#000080"/>
<path d="M199.05 475.60L200.50 477.05L199.05 478.50L197.60 477.05Z" fill="#000080"/>
<path d="M204.00 477.07L205.45 478.52L204.00 479.97L202.55 478.52Z" fill="#000080"/>
<path d="M208.95 478.54L210.40 479.99L208.95 481.44L207.50 479.99Z" fill="#000080"/>
<path d="M213.90 480.06L215.35 481.51L213.90 482.96L212.45 481.51Z" fill="#000080"/>
<path d="M218.85 481.59L220.30 483.04L218.85 484.49L217.40 483.04Z" fill="#000080"/>
<path d="M223.80 483.13L225.25 484.58L223.80 486.03L222.35 484.58Z" fill="#000080"/>
<path d="M228.75 484.66L230.20 486.11L228.75 487.56L227.30 486.11Z" fill="#000080"/>
<path d="M233.70 486.20L235.15 487.65L233.70 489.10L232.25 487.65Z" fill="#000080"/>
<path d="M238.65 487.73L240.10 489.18L238.65 490.63L237.20 489.18Z" fill="#000080"/>
<path d="M243.60 489.07L245.05 490.52L243.60 491.97L242.15 490.52Z" fill="#000080"/>
<path d="M248.55 489.86L250.00 491.31L248.55 492.76L247.10 491.31Z" fill="#000080"/>
<path d="M253.50 489.63L254.95 491.08L253.50 492.53L252.05 491.08Z" fill="#000080"/>
<path d="M255.00 489.45L256.45 490.90L255.00 492.35L253.55 490.90Z" fill="#000080"/>
<path d="M255.20 483.55L256.65 485.00L255.20 486.45L253.75 485.00Z" fill="#000080"/>
<path d="M258.45 482.98L259.90 484.43L258.45 485.88L257.00 484.43Z" fill="#000080"/>
<path d="M263.40 481.35L264.85 482.80L263.40 484.25L261.95 482.80Z" fill="#000080"/>
<path d="M268.35 472.27L269.80 473.72L268.35 475.17L266.90 473.72Z" fill="#000080"/>
<path d="M273.30 455.82L274.75 457.27L273.30 458.72L271.85 457.27Z" fill="#000080"/>
<path d="M278.25 451.60L279.70 453.05L278.25 454.50L276.80 453.05Z" fill="#000080"/>
<path d="M283.20 463.16L284.65 464.61L283.20 466.06L281.75 464.61Z" fill="#000080"/>
<path d="M288.15 461.93L289.60 463.38L288.15 464.82L286.70 463.38Z" fill="#000080"/>
<path d="M293.10 455.81L294.55 457.26L293.10 458.71L291.65 457.26Z" fill="#000080"/>
<path d="M298.05 446.93L299.50 448.38L298.05 449.83L296.60 448.38Z" fill="#000080"/>
<path d="M303.00 437.70L304.45 439.15L303.00 440.60L301.55 439.15Z" fill="#000080"/>
<path d="M307.95 433.11L309.40 434.56L307.95 436.01L306.50 434.56Z" fill="#000080"/>
<path d="M312.90 430.49L314.35 431.94L312.90 433.39L311.45 431.94Z" fill="#000080"/>
<path d="M317.85 429.39L319.30 430.84L317.85 432.29L316.40 430.84Z" fill="#000080"/>
<path d="M322.80 429.30L324.25 430.75L322.80 432.20L321.35 430.75Z" fill="#000080"/>
<path d="M327.75 430.00L329.20 431.45L327.75 432.90L326.30 431.45Z" fill="#000080"/>
<path d="M332.70 430.90L334.15 432.35L332.70 433.80L331.25 432.35Z" fill="#000080"/>
<path d="M337.65 431.96L339.10 433.41L337.65 434.86L336.20 433.41Z" fill="#000080"/>
<path d="M342.60 433.09L344.05 434.54L342.60 435.99L341.15 434.54Z" fill="#000080"/>
<path d="M347.55 434.22L349.00 435.67L347.55 437.12L346.10 435.67Z" fill="#000080"/>
<path d="M352.50 435.19L353.95 436.64L352.50 438.09L351.05 436.64Z" fill="#000080"/>
<path d="M357.45 436.09L358.90 437.54L357.45 438.99L356.00 437.54Z" fill="#000080"/>
<path d="M362.40 437.03L363.85 438.48L362.40 439.93L360.95 438.48Z" fill="#000080"/>
<path d="M367.35 438.02L368.80 439.47L367.35 440.92L365.90 439.47Z" fill="#000080"/>
<path d="M372.30 439.01L373.75 440.46L372.30 441.91L370.85 440.46Z" fill="#000080"/>
<path d="M377.25 439.98L378.70 441.43L377.25 442.88L375.80 441.43Z" fill="#000080"/>
<path d="M382.20 440.92L383.65 442.37L382.20 443.82L380.75 442.37Z" fill="#000080"/>
<path d="M387.15 441.86L388.60 443.31L387.15 444.76L385.70 443.31Z" fill="#000080"/>
<path d="M392.10 442.80L393.55 444.25L392.10 445.70L390.65 444.25Z" fill="#000080"/>
<path d="M397.05 443.72L398.50 445.17L397.05 446.62L395.60 445.17Z" fill="#000080"/>
<path d="M402.00 444.61L403.45 446.06L402.00 447.51L400.55 446.06Z" fill="#000080"/>
<path d="M406.95 445.50L408.40 446.95L406.95 448.40L405.50 446.95Z" fill="#000080"/>
<path d="M411.90 446.39L413.35 447.84L411.90 449.29L410.45 447.84Z" fill="#000080"/>
<path d="M416.85 447.28L418.30 448.73L416.85 450.18L415.40 448.73Z" fill="#000080"/>
<path d="M421.80 448.10L423.25 449.55L421.80 451.00L420.35 449.55Z" fill="#000080"/>
<path d="M426.75 448.78L428.20 450.23L426.75 451.68L425.30 450.23Z" fill="#000080"/>
<path d="M431.70 449.46L433.15 450.91L431.70 452.36L430.25 450.91Z" fill="#000080"/>
<path d="M436.65 450.15L438.10 451.60L436.65 453.05L435.20 451.60Z" fill="#000080"/>
<path d="M441.60 450.83L443.05 452.28L441.60 453.73L440.15 452.28Z" fill="#000080"/>
<path d="M446.55 451.51L448.00 452.96L446.55 454.41L445.10 452.96Z" fill="#000080"/>
<path d="M451.50 452.20L452.95 453.65L451.50 455.10L450.05 453.65Z" fill="#000080"/>
<path d="M456.45 452.88L457.90 454.33L456.45 455.78L455.00 454.33Z" fill="#000080"/>
<path d="M461.30 453.55L462.75 455.00L461.30 456.45L459.85 455.00Z" fill="#000080"/>
<path d="M65.4 455.0L66.4 455.1L67.4 455.1L68.4 455.2L69.4 455.2L70.4 455.3L71.4 455.3L72.4 455.4L73.4 455.5L74.4 455.5L75.4 455.6L76.4 455.6L77.4 455.7L78.4 455.8L79.4 455.8L80.4 455.9L81.4 455.9L82.4 456.0L83.4 456.0L84.4 456.1L85.4 456.2L86.4 456.2L87.4 456.3L88.4 456.3L89.4 456.4L90.4 456.4L91.4 456.5L92.4 456.6L93.4 456.6L94.4 456.7L95.4 456.7L96.4 456.8L97.4 456.8L98.4 456.9L99.4 457.0L100.0 457.0L100.4 457.0L101.4 457.1L102.4 457.1L103.4 457.2L104.4 457.3L105.4 457.3L106.4 457.4L107.4 457.5L108.4 457.5L109.4 457.6L110.4 457.6L111.4 457.7L112.4 457.8L113.4 457.8L114.4 457.9L115.4 458.0L116.4 458.0L117.4 458.1L118.4 458.1L119.4 458.2L120.4 458.3L121.4 458.3L122.4 458.4L123.4 458.5L124.4 458.5L125.4 458.6L126.4 458.6L127.4 458.7L128.4 458.8L129.4 458.8L130.4 458.9L131.4 459.0L132.4 459.0L133.4 459.1L134.4 459.1L135.4 459.2L136.4 459.3L137.4 459.3L138.4 459.4L139.4 459.5L140.0 459.5L140.4 459.5L141.4 459.6L142.4 459.7L143.4 459.8L144.4 459.9L145.4 460.0L146.4 460.1L147.4 460.2L148.4 460.2L149.4 460.3L150.4 460.4L151.4 460.5L152.4 460.6L153.4 460.7L154.4 460.8L155.4 460.9L156.4 461.0L157.4 461.0L158.4 461.1L159.4 461.2L160.4 461.3L161.4 461.4L162.4 461.5L163.4 461.6L164.4 461.7L165.4 461.7L166.4 461.8L167.4 461.9L168.4 462.0L169.4 462.1L170.4 462.2L171.4 462.3L172.4 462.4L173.4 462.5L174.4 462.5L175.0 462.6L175.4 462.6L176.4 462.7L177.4 462.8L178.4 462.9L179.4 463.1L180.4 463.2L181.4 463.3L182.4 463.4L183.4 463.5L184.4 463.6L185.4 463.7L186.4 463.8L187.4 463.9L188.4 464.0L189.4 464.1L190.4 464.2L191.4 464.3L192.4 464.4L193.4 464.5L194.4 464.6L195.4 464.7L196.4 464.8L197.4 464.9L198.4 465.0L199.4 465.1L200.4 465.2L201.4 465.3L202.4 465.4L203.4 465.5L204.4 465.6L205.4 465.7L206.4 465.8L207.4 465.9L208.4 466.0L209.4 466.1L210.0 466.2L210.4 466.3L211.4 466.4L212.4 466.5L213.4 466.7L214.4 466.8L215.4 466.9L216.4 467.1L217.4 467.2L218.4 467.3L219.4 467.5L220.4 467.6L221.4 467.7L222.4 467.9L223.4 468.0L224.4 468.1L225.4 468.3L226.4 468.4L227.4 468.5L228.4 468.7L229.4 468.8L230.4 468.9L231.4 469.1L232.4 469.2L233.4 469.3L234.4 469.5L235.4 469.6L236.4 469.7L237.4 469.9L238.4 470.0L239.4 470.1L240.0 470.2L240.4 470.2L241.4 470.3L242.4 470.3L243.4 470.4L244.4 470.5L245.4 470.5L246.4 470.6L246.8 470.6L247.4 470.6L248.4 470.5L249.4 470.4L250.4 470.4L251.4 470.3L252.4 470.2L252.7 470.2L253.4 469.8L254.4 469.1L255.4 468.5L256.4 467.8L257.4 467.2L257.7 467.0L258.4 465.6L259.4 463.7L260.4 461.7L261.0 460.5L261.4 459.7L262.4 457.7L262.5 457.5L263.4 457.0L264.4 456.4L265.4 455.8L266.4 455.3L267.2 454.8L267.4 454.5L268.4 452.7L269.4 451.0L270.4 449.3L271.4 447.6L271.7 447.1L272.4 444.9L273.4 441.7L274.4 438.5L275.4 435.3L276.2 432.8L276.4 434.3L277.4 441.7L278.4 449.1L279.4 456.5L280.0 461.0L280.4 461.8L281.4 463.8L282.4 465.9L283.4 467.9L284.3 469.7L284.4 470.0L285.4 473.0L286.4 476.0L287.4 478.9L288.4 481.9L288.7 482.8L289.4 482.6L290.4 482.4L291.4 482.2L292.4 482.0L293.4 481.7L293.6 481.7L294.4 480.6L295.4 479.3L296.4 477.9L297.4 476.6L298.4 475.2L298.5 475.1L299.4 474.1L300.4 472.9L301.2 472.0L301.4 471.6L302.4 469.8L303.4 468.0L304.4 466.2L304.5 466.0L305.4 464.5L306.4 462.9L307.4 461.3L308.4 459.7L308.5 459.5L309.4 458.4L310.4 457.3L311.4 456.1L312.4 454.9L313.4 453.7L313.6 453.5L314.4 453.2L315.4 452.9L316.4 452.5L317.4 452.2L318.4 451.9L319.4 451.5L320.0 451.3L320.4 451.3L321.4 451.1L322.4 451.0L323.4 450.9L324.4 450.8L325.4 450.7L326.4 450.6L327.4 450.5L328.4 450.3L329.4 450.2L330.4 450.1L331.4 450.0L332.4 449.9L333.4 449.8L334.4 449.7L335.0 449.6L335.4 449.6L336.4 449.6L337.4 449.6L338.4 449.6L339.4 449.6L340.4 449.6L341.4 449.6L342.4 449.6L343.4 449.6L344.4 449.6L345.4 449.6L346.4 449.6L347.4 449.6L348.4 449.6L349.4 449.6L350.4 449.6L351.4 449.6L352.4 449.6L353.4 449.6L354.4 449.6L355.4 449.6L356.4 449.6L357.4 449.6L358.4 449.6L359.4 449.6L360.0 449.6L360.4 449.6L361.4 449.7L362.4 449.7L363.4 449.8L364.4 449.9L365.4 449.9L366.4 450.0L367.4 450.0L368.4 450.1L369.4 450.2L370.4 450.2L371.4 450.3L372.4 450.3L373.4 450.4L374.4 450.5L375.0 450.5L375.4 450.5L376.4 450.6L377.4 450.7L378.4 450.8L379.4 450.9L380.4 451.0L381.4 451.1L382.4 451.2L383.4 451.3L384.4 451.3L385.4 451.4L386.4 451.5L387.4 451.6L388.4 451.7L389.4 451.8L390.4 451.9L391.4 452.0L392.4 452.1L393.4 452.2L394.4 452.2L395.0 452.3L395.4 452.3L396.4 452.4L397.4 452.4L398.4 452.5L399.4 452.6L400.4 452.6L401.4 452.7L402.4 452.7L403.4 452.8L404.4 452.9L405.4 452.9L406.4 453.0L407.4 453.0L408.4 453.1L409.4 453.2L410.4 453.2L411.4 453.3L412.4 453.3L413.4 453.4L414.4 453.5L415.4 453.5L416.4 453.6L417.4 453.6L418.4 453.7L419.4 453.8L420.0 453.8L420.4 453.8L421.4 453.8L422.4 453.9L423.4 453.9L424.4 453.9L425.4 454.0L426.4 454.0L427.4 454.0L428.4 454.0L429.4 454.1L430.4 454.1L431.4 454.1L432.4 454.2L433.4 454.2L434.4 454.2L435.4 454.2L436.4 454.3L437.4 454.3L438.4 454.3L439.4 454.4L440.4 454.4L441.4 454.4L442.4 454.5L443.4 454.5L444.4 454.5L445.4 454.5L446.4 454.6L447.4 454.6L448.4 454.6L449.4 454.7L450.4 454.7L451.4 454.7L452.4 454.7L453.4 454.8L454.4 454.8L455.4 454.8L456.4 454.9L457.4 454.9L458.4 454.9L459.4 454.9L460.4 455.0L461.3 455.0" fill="none" stroke="#ff00ff" stroke-width="1.2" stroke-linejoin="round"/>
<rect x="64.50" y="454.10" width="1.80" height="1.80" fill="#ff00ff"/>
<rect x="69.45" y="454.39" width="1.80" height="1.80" fill="#ff00ff"/>
<rect x="74.40" y="454.67" width="1.80" height="1.80" fill="#ff00ff"/>
<rect x="79.35" y="454.96" width="1.80" height="1.80" fill="#ff00ff"/>
<rect x="84.30" y="455.24" width="1.80" height="1.80" fill="#ff00ff"/>
<rect x="89.25" y="455.53" width="1.80" height="1.80" fill="#ff00ff"/>
<rect x="94.20" y="455.82" width="1.80" height="1.80" fill="#ff00ff"/>
<rect x="99.15" y="456.10" width="1.80" height="1.80" fill="#ff00ff"/>
<rect x="104.10" y="456.41" width="1.80" height="1.80" fill="#ff00ff"/>
<rect x="109.05" y="456.72" width="1.80" height="1.80" fill="#ff00ff"/>
<rect x="114.00" y="457.03" width="1.80" height="1.80" fill="#ff00ff"/>
<rect x="118.95" y="457.34" width="1.80" height="1.80" fill="#ff00ff"/>
<rect x="123.90" y="457.65" width="1.80" height="1.80" fill="#ff00ff"/>
<rect x="128.85" y="457.96" width="1.80" height="1.80" fill="#ff00ff"/>
<rect x="133.80" y="458.27" width="1.80" height="1.80" fill="#ff00ff"/>
<rect x="138.75" y="458.58" width="1.80" height="1.80" fill="#ff00ff"/>
<rect x="143.70" y="459.01" width="1.80" height="1.80" fill="#ff00ff"/>
<rect x="148.65" y="459.45" width="1.80" height="1.80" fill="#ff00ff"/>
<rect x="153.60" y="459.88" width="1.80" height="1.80" fill="#ff00ff"/>
<rect x="158.55" y="460.32" width="1.80" height="1.80" fill="#ff00ff"/>
<rect x="163.50" y="460.76" width="1.80" height="1.80" fill="#ff00ff"/>
<rect x="168.45" y="461.20" width="1.80" height="1.80" fill="#ff00ff"/>
<rect x="173.40" y="461.64" width="1.80" height="1.80" fill="#ff00ff"/>
<rect x="178.35" y="462.14" width="1.80" height="1.80" fill="#ff00ff"/>
<rect x="183.30" y="462.65" width="1.80" height="1.80" fill="#ff00ff"/>
<rect x="188.25" y="463.16" width="1.80" height="1.80" fill="#ff00ff"/>
<rect x="193.20" y="463.66" width="1.80" height="1.80" fill="#ff00ff"/>
<rect x="198.15" y="464.17" width="1.80" height="1.80" fill="#ff00ff"/>
<rect x="203.10" y="464.68" width="1.80" height="1.80" fill="#ff00ff"/>
<rect x="208.05" y="465.19" width="1.80" height="1.80" fill="#ff00ff"/>
<rect x="213.00" y="465.82" width="1.80" height="1.80" fill="#ff00ff"/>
<rect x="217.95" y="466.48" width="1.80" height="1.80" fill="#ff00ff"/>
<rect x="222.90" y="467.14" width="1.80" height="1.80" fill="#ff00ff"/>
<rect x="227.85" y="467.80" width="1.80" height="1.80" fill="#ff00ff"/>
<rect x="232.80" y="468.46" width="1.80" height="1.80" fill="#ff00ff"/>
<rect x="237.75" y="469.12" width="1.80" height="1.80" fill="#ff00ff"/>
<rect x="242.70" y="469.51" width="1.80" height="1.80" fill="#ff00ff"/>
<rect x="247.65" y="469.58" width="1.80" height="1.80" fill="#ff00ff"/>
<rect x="252.60" y="468.79" width="1.80" height="1.80" fill="#ff00ff"/>
<rect x="257.55" y="464.62" width="1.80" height="1.80" fill="#ff00ff"/>
<rect x="262.50" y="456.08" width="1.80" height="1.80" fill="#ff00ff"/>
<rect x="267.45" y="451.93" width="1.80" height="1.80" fill="#ff00ff"/>
<rect x="272.40" y="441.12" width="1.80" height="1.80" fill="#ff00ff"/>
<rect x="277.35" y="447.11" width="1.80" height="1.80" fill="#ff00ff"/>
<rect x="282.30" y="466.57" width="1.80" height="1.80" fill="#ff00ff"/>
<rect x="287.25" y="480.26" width="1.80" height="1.80" fill="#ff00ff"/>
<rect x="292.20" y="480.91" width="1.80" height="1.80" fill="#ff00ff"/>
<rect x="297.15" y="474.81" width="1.80" height="1.80" fill="#ff00ff"/>
<rect x="302.10" y="467.83" width="1.80" height="1.80" fill="#ff00ff"/>
<rect x="307.05" y="459.49" width="1.80" height="1.80" fill="#ff00ff"/>
<rect x="312.00" y="453.42" width="1.80" height="1.80" fill="#ff00ff"/>
<rect x="316.95" y="451.14" width="1.80" height="1.80" fill="#ff00ff"/>
<rect x="321.90" y="450.08" width="1.80" height="1.80" fill="#ff00ff"/>
<rect x="326.85" y="449.52" width="1.80" height="1.80" fill="#ff00ff"/>
<rect x="331.80" y="448.96" width="1.80" height="1.80" fill="#ff00ff"/>
<rect x="336.75" y="448.70" width="1.80" height="1.80" fill="#ff00ff"/>
<rect x="341.70" y="448.70" width="1.80" height="1.80" fill="#ff00ff"/>
<rect x="346.65" y="448.70" width="1.80" height="1.80" fill="#ff00ff"/>
<rect x="351.60" y="448.70" width="1.80" height="1.80" fill="#ff00ff"/>
<rect x="356.55" y="448.70" width="1.80" height="1.80" fill="#ff00ff"/>
<rect x="361.50" y="448.84" width="1.80" height="1.80" fill="#ff00ff"/>
<rect x="366.45" y="449.14" width="1.80" height="1.80" fill="#ff00ff"/>
<rect x="371.40" y="449.44" width="1.80" height="1.80" fill="#ff00ff"/>
<rect x="376.35" y="449.80" width="1.80" height="1.80" fill="#ff00ff"/>
<rect x="381.30" y="450.25" width="1.80" height="1.80" fill="#ff00ff"/>
<rect x="386.25" y="450.69" width="1.80" height="1.80" fill="#ff00ff"/>
<rect x="391.20" y="451.14" width="1.80" height="1.80" fill="#ff00ff"/>
<rect x="396.15" y="451.52" width="1.80" height="1.80" fill="#ff00ff"/>
<rect x="401.10" y="451.82" width="1.80" height="1.80" fill="#ff00ff"/>
<rect x="406.05" y="452.12" width="1.80" height="1.80" fill="#ff00ff"/>
<rect x="411.00" y="452.41" width="1.80" height="1.80" fill="#ff00ff"/>
<rect x="415.95" y="452.71" width="1.80" height="1.80" fill="#ff00ff"/>
<rect x="420.90" y="452.95" width="1.80" height="1.80" fill="#ff00ff"/>
<rect x="425.85" y="453.10" width="1.80" height="1.80" fill="#ff00ff"/>
<rect x="430.80" y="453.24" width="1.80" height="1.80" fill="#ff00ff"/>
<rect x="435.75" y="453.38" width="1.80" height="1.80" fill="#ff00ff"/>
<rect x="440.70" y="453.53" width="1.80" height="1.80" fill="#ff00ff"/>
<rect x="445.65" y="453.67" width="1.80" height="1.80" fill="#ff00ff"/>
<rect x="450.60" y="453.82" width="1.80" height="1.80" fill="#ff00ff"/>
<rect x="455.55" y="453.96" width="1.80" height="1.80" fill="#ff00ff"/>
<rect x="460.40" y="454.10" width="1.80" height="1.80" fill="#ff00ff"/>
<path d="M65.4 455.0L66.4 455.1L67.4 455.1L68.4 455.2L69.4 455.3L70.4 455.4L71.4 455.4L72.4 455.5L73.4 455.6L74.4 455.7L75.4 455.7L76.4 455.8L77.4 455.9L78.4 455.9L79.4 456.0L80.4 456.1L81.4 456.2L82.4 456.2L83.4 456.3L84.4 456.4L85.4 456.4L86.4 456.5L87.4 456.6L88.4 456.7L89.4 456.7L90.4 456.8L91.4 456.9L92.4 457.0L93.4 457.0L94.4 457.1L95.4 457.2L96.4 457.2L97.4 457.3L98.4 457.4L99.4 457.5L100.0 457.5L100.4 457.5L101.4 457.6L102.4 457.7L103.4 457.8L104.4 457.9L105.4 458.0L106.4 458.1L107.4 458.1L108.4 458.2L109.4 458.3L110.4 458.4L111.4 458.5L112.4 458.6L113.4 458.7L114.4 458.8L115.4 458.8L116.4 458.9L117.4 459.0L118.4 459.1L119.4 459.2L120.4 459.3L121.4 459.4L122.4 459.5L123.4 459.5L124.4 459.6L125.4 459.7L126.4 459.8L127.4 459.9L128.4 460.0L129.4 460.1L130.4 460.2L131.4 460.2L132.4 460.3L133.4 460.4L134.4 460.5L135.4 460.6L136.4 460.7L137.4 460.8L138.4 460.9L139.4 460.9L140.0 461.0L140.4 461.0L141.4 461.1L142.4 461.2L143.4 461.3L144.4 461.4L145.4 461.5L146.4 461.6L147.4 461.7L148.4 461.8L149.4 461.9L150.4 462.0L151.4 462.1L152.4 462.2L153.4 462.3L154.4 462.4L155.4 462.5L156.4 462.6L157.4 462.7L158.4 462.8L159.4 462.9L160.4 463.0L161.4 463.1L162.4 463.2L163.4 463.3L164.4 463.4L165.4 463.5L166.4 463.6L167.4 463.7L168.4 463.8L169.4 463.9L170.4 464.0L171.4 464.1L172.4 464.2L173.4 464.2L174.4 464.3L175.4 464.4L176.4 464.5L177.0 464.6L177.4 464.7L178.4 464.9L179.4 465.1L180.4 465.3L181.4 465.5L182.4 465.7L183.4 465.9L184.4 466.1L185.4 466.3L186.4 466.5L187.4 466.7L188.4 466.9L189.4 467.2L190.4 467.4L191.4 467.6L192.4 467.8L193.4 468.0L194.4 468.2L195.4 468.4L196.4 468.6L197.4 468.8L198.4 469.0L199.4 469.2L200.4 469.4L201.4 469.6L202.4 469.8L203.4 470.0L204.4 470.2L205.4 470.5L206.4 470.7L207.4 470.9L208.4 471.1L209.4 471.3L210.0 471.4L210.4 471.5L211.4 471.8L212.4 472.1L213.4 472.4L214.4 472.6L215.4 472.9L216.4 473.2L217.4 473.5L218.4 473.8L219.4 474.1L220.4 474.3L221.4 474.6L222.4 474.9L223.4 475.2L224.4 475.5L225.4 475.8L226.4 476.0L227.4 476.3L228.4 476.6L229.4 476.9L230.4 477.2L231.4 477.5L232.4 477.7L233.4 478.0L234.4 478.3L235.4 478.6L236.4 478.9L237.4 479.2L238.4 479.4L239.4 479.7L240.0 479.9L240.4 480.1L241.4 480.5L242.4 480.9L243.4 481.3L244.4 481.7L245.1 482.0L245.4 482.1L246.4 482.5L247.4 482.8L248.4 483.2L249.4 483.5L250.4 483.9L251.0 484.1L251.4 484.3L252.4 484.8L253.4 485.3L254.4 485.8L255.4 486.3L256.0 486.6L256.4 487.0L257.4 487.9L258.4 488.8L259.4 489.7L260.4 490.7L261.1 491.3L261.4 491.8L262.4 493.3L263.4 494.9L264.4 496.5L265.4 498.0L265.7 498.5L265.9 403.7L266.9 401.8L267.9 400.0L268.9 398.1L269.9 396.3L270.9 394.4L271.4 393.5L271.9 392.9L272.9 391.6L273.9 390.4L274.9 389.2L275.9 387.9L276.5 387.2L276.9 390.5L277.9 398.6L278.9 406.8L279.9 414.9L280.3 418.2L280.9 420.6L281.9 424.5L282.9 428.5L283.9 432.4L284.5 434.8L284.9 436.6L285.9 441.0L286.9 445.4L287.9 449.9L288.9 454.3L289.9 455.3L290.9 456.3L291.9 457.3L292.9 458.3L293.3 458.7L293.9 458.6L294.9 458.4L295.9 458.2L296.9 458.0L297.9 457.7L298.6 457.6L298.9 457.4L299.9 456.6L300.9 455.8L301.9 455.1L302.9 454.3L303.7 453.7L303.9 453.6L304.9 452.9L305.9 452.3L306.9 451.7L307.9 451.1L308.8 450.5L308.9 450.4L309.9 449.5L310.9 448.6L311.9 447.7L312.0 447.6L312.9 447.4L313.9 447.2L314.9 447.0L315.9 446.8L316.9 446.7L317.9 446.5L318.9 446.3L319.9 446.1L320.3 446.0L320.9 446.0L321.9 445.9L322.9 445.9L323.9 445.8L324.9 445.7L325.9 445.7L326.9 445.6L327.9 445.6L328.9 445.5L329.9 445.5L330.9 445.4L331.9 445.4L332.9 445.3L333.9 445.3L334.9 445.2L335.0 445.2L335.9 445.3L336.9 445.3L337.9 445.4L338.9 445.5L339.9 445.6L340.9 445.6L341.9 445.7L342.9 445.8L343.9 445.8L344.9 445.9L345.9 446.0L346.9 446.1L347.9 446.1L348.9 446.2L349.9 446.3L350.9 446.3L351.9 446.4L352.9 446.5L353.9 446.6L354.9 446.6L355.9 446.7L356.9 446.8L357.9 446.8L358.9 446.9L359.9 447.0L360.0 447.0L360.9 447.1L361.9 447.2L362.9 447.4L363.9 447.5L364.9 447.6L365.9 447.7L366.9 447.9L367.9 448.0L368.9 448.1L369.9 448.3L370.9 448.4L371.9 448.5L372.9 448.6L373.9 448.8L374.9 448.9L375.0 448.9L375.9 449.0L376.9 449.1L377.9 449.2L378.9 449.3L379.9 449.4L380.9 449.5L381.9 449.6L382.9 449.7L383.9 449.8L384.9 449.9L385.9 450.0L386.9 450.1L387.9 450.3L388.9 450.4L389.9 450.5L390.9 450.6L391.9 450.7L392.9 450.8L393.9 450.9L394.9 451.0L395.0 451.0L395.9 451.1L396.9 451.1L397.9 451.2L398.9 451.2L399.9 451.3L400.9 451.4L401.9 451.4L402.9 451.5L403.9 451.6L404.9 451.6L405.9 451.7L406.9 451.8L407.9 451.8L408.9 451.9L409.9 452.0L410.9 452.0L411.9 452.1L412.9 452.1L413.9 452.2L414.9 452.3L415.9 452.3L416.9 452.4L417.9 452.5L418.9 452.5L419.9 452.6L420.0 452.6L420.9 452.7L421.9 452.7L422.9 452.8L423.9 452.8L424.9 452.9L425.9 452.9L426.9 453.0L427.9 453.1L428.9 453.1L429.9 453.2L430.9 453.2L431.9 453.3L432.9 453.3L433.9 453.4L434.9 453.5L435.9 453.5L436.9 453.6L437.9 453.6L438.9 453.7L439.9 453.8L440.9 453.8L441.9 453.9L442.9 453.9L443.9 454.0L444.9 454.0L445.9 454.1L446.9 454.2L447.9 454.2L448.9 454.3L449.9 454.3L450.9 454.4L451.9 454.5L452.9 454.5L453.9 454.6L454.9 454.6L455.9 454.7L456.9 454.7L457.9 454.8L458.9 454.9L459.9 454.9L460.9 455.0L461.3 455.0" fill="none" stroke="#119911" stroke-width="1.2" stroke-linejoin="round"/>
<path d="M65.40 453.75L66.65 456.00L64.15 456.00Z" fill="#007700"/>
<path d="M70.35 454.11L71.60 456.36L69.10 456.36Z" fill="#007700"/>
<path d="M75.30 454.47L76.55 456.72L74.05 456.72Z" fill="#007700"/>
<path d="M80.25 454.82L81.50 457.07L79.00 457.07Z" fill="#007700"/>
<path d="M85.20 455.18L86.45 457.43L83.95 457.43Z" fill="#007700"/>
<path d="M90.15 455.54L91.40 457.79L88.90 457.79Z" fill="#007700"/>
<path d="M95.10 455.90L96.35 458.15L93.85 458.15Z" fill="#007700"/>
<path d="M100.05 456.25L101.30 458.50L98.80 458.50Z" fill="#007700"/>
<path d="M105.00 456.69L106.25 458.94L103.75 458.94Z" fill="#007700"/>
<path d="M109.95 457.12L111.20 459.37L108.70 459.37Z" fill="#007700"/>
<path d="M114.90 457.55L116.15 459.80L113.65 459.80Z" fill="#007700"/>
<path d="M119.85 457.99L121.10 460.24L118.60 460.24Z" fill="#007700"/>
<path d="M124.80 458.42L126.05 460.67L123.55 460.67Z" fill="#007700"/>
<path d="M129.75 458.85L131.00 461.10L128.50 461.10Z" fill="#007700"/>
<path d="M134.70 459.29L135.95 461.54L133.45 461.54Z" fill="#007700"/>
<path d="M139.65 459.72L140.90 461.97L138.40 461.97Z" fill="#007700"/>
<path d="M144.60 460.20L145.85 462.45L143.35 462.45Z" fill="#007700"/>
<path d="M149.55 460.68L150.80 462.93L148.30 462.93Z" fill="#007700"/>
<path d="M154.50 461.16L155.75 463.41L153.25 463.41Z" fill="#007700"/>
<path d="M159.45 461.64L160.70 463.89L158.20 463.89Z" fill="#007700"/>
<path d="M164.40 462.12L165.65 464.37L163.15 464.37Z" fill="#007700"/>
<path d="M169.35 462.61L170.60 464.86L168.10 464.86Z" fill="#007700"/>
<path d="M174.30 463.09L175.55 465.34L173.05 465.34Z" fill="#007700"/>
<path d="M179.25 463.81L180.50 466.06L178.00 466.06Z" fill="#007700"/>
<path d="M184.20 464.83L185.45 467.08L182.95 467.08Z" fill="#007700"/>
<path d="M189.15 465.85L190.40 468.10L187.90 468.10Z" fill="#007700"/>
<path d="M194.10 466.87L195.35 469.12L192.85 469.12Z" fill="#007700"/>
<path d="M199.05 467.89L200.30 470.14L197.80 470.14Z" fill="#007700"/>
<path d="M204.00 468.91L205.25 471.16L202.75 471.16Z" fill="#007700"/>
<path d="M208.95 469.93L210.20 472.18L207.70 472.18Z" fill="#007700"/>
<path d="M213.90 471.25L215.15 473.50L212.65 473.50Z" fill="#007700"/>
<path d="M218.85 472.66L220.10 474.91L217.60 474.91Z" fill="#007700"/>
<path d="M223.80 474.06L225.05 476.31L222.55 476.31Z" fill="#007700"/>
<path d="M228.75 475.46L230.00 477.71L227.50 477.71Z" fill="#007700"/>
<path d="M233.70 476.86L234.95 479.11L232.45 479.11Z" fill="#007700"/>
<path d="M238.65 478.27L239.90 480.52L237.40 480.52Z" fill="#007700"/>
<path d="M243.60 480.13L244.85 482.38L242.35 482.38Z" fill="#007700"/>
<path d="M248.55 481.98L249.80 484.23L247.30 484.23Z" fill="#007700"/>
<path d="M253.50 484.10L254.75 486.35L252.25 486.35Z" fill="#007700"/>
<path d="M258.45 487.61L259.70 489.86L257.20 489.86Z" fill="#007700"/>
<path d="M263.40 493.65L264.65 495.90L262.15 495.90Z" fill="#007700"/>
<path d="M265.70 497.25L266.95 499.50L264.45 499.50Z" fill="#007700"/>
<path d="M265.90 402.45L267.15 404.70L264.65 404.70Z" fill="#007700"/>
<path d="M268.35 397.91L269.60 400.16L267.10 400.16Z" fill="#007700"/>
<path d="M273.30 389.90L274.55 392.15L272.05 392.15Z" fill="#007700"/>
<path d="M278.25 400.23L279.50 402.48L277.00 402.48Z" fill="#007700"/>
<path d="M283.20 428.41L284.45 430.66L281.95 430.66Z" fill="#007700"/>
<path d="M288.15 449.73L289.40 451.98L286.90 451.98Z" fill="#007700"/>
<path d="M293.10 457.25L294.35 459.50L291.85 459.50Z" fill="#007700"/>
<path d="M298.05 456.46L299.30 458.71L296.80 458.71Z" fill="#007700"/>
<path d="M303.00 452.99L304.25 455.24L301.75 455.24Z" fill="#007700"/>
<path d="M307.95 449.78L309.20 452.03L306.70 452.03Z" fill="#007700"/>
<path d="M312.90 446.18L314.15 448.43L311.65 448.43Z" fill="#007700"/>
<path d="M317.85 445.22L319.10 447.47L316.60 447.47Z" fill="#007700"/>
<path d="M322.80 444.61L324.05 446.86L321.55 446.86Z" fill="#007700"/>
<path d="M327.75 444.34L329.00 446.59L326.50 446.59Z" fill="#007700"/>
<path d="M332.70 444.08L333.95 446.33L331.45 446.33Z" fill="#007700"/>
<path d="M337.65 444.14L338.90 446.39L336.40 446.39Z" fill="#007700"/>
<path d="M342.60 444.50L343.85 446.75L341.35 446.75Z" fill="#007700"/>
<path d="M347.55 444.85L348.80 447.10L346.30 447.10Z" fill="#007700"/>
<path d="M352.50 445.21L353.75 447.46L351.25 447.46Z" fill="#007700"/>
<path d="M357.45 445.57L358.70 447.82L356.20 447.82Z" fill="#007700"/>
<path d="M362.40 446.05L363.65 448.30L361.15 448.30Z" fill="#007700"/>
<path d="M367.35 446.68L368.60 448.93L366.10 448.93Z" fill="#007700"/>
<path d="M372.30 447.31L373.55 449.56L371.05 449.56Z" fill="#007700"/>
<path d="M377.25 447.89L378.50 450.14L376.00 450.14Z" fill="#007700"/>
<path d="M382.20 448.41L383.45 450.66L380.95 450.66Z" fill="#007700"/>
<path d="M387.15 448.93L388.40 451.18L385.90 451.18Z" fill="#007700"/>
<path d="M392.10 449.45L393.35 451.70L390.85 451.70Z" fill="#007700"/>
<path d="M397.05 449.88L398.30 452.13L395.80 452.13Z" fill="#007700"/>
<path d="M402.00 450.20L403.25 452.45L400.75 452.45Z" fill="#007700"/>
<path d="M406.95 450.51L408.20 452.76L405.70 452.76Z" fill="#007700"/>
<path d="M411.90 450.83L413.15 453.08L410.65 453.08Z" fill="#007700"/>
<path d="M416.85 451.15L418.10 453.40L415.60 453.40Z" fill="#007700"/>
<path d="M421.80 451.45L423.05 453.70L420.55 453.70Z" fill="#007700"/>
<path d="M426.75 451.74L428.00 453.99L425.50 453.99Z" fill="#007700"/>
<path d="M431.70 452.03L432.95 454.28L430.45 454.28Z" fill="#007700"/>
<path d="M436.65 452.32L437.90 454.57L435.40 454.57Z" fill="#007700"/>
<path d="M441.60 452.61L442.85 454.86L440.35 454.86Z" fill="#007700"/>
<path d="M446.55 452.89L447.80 455.14L445.30 455.14Z" fill="#007700"/>
<path d="M451.50 453.18L452.75 455.43L450.25 455.43Z" fill="#007700"/>
<path d="M456.45 453.47L457.70 455.72L455.20 455.72Z" fill="#007700"/>
<path d="M461.30 453.75L462.55 456.00L460.05 456.00Z" fill="#007700"/>
<path d="M65.4 455.0L66.4 455.1L67.4 455.1L68.4 455.2L69.4 455.3L70.4 455.4L71.4 455.4L72.4 455.5L73.4 455.6L74.4 455.7L75.4 455.7L76.4 455.8L77.4 455.9L78.4 455.9L79.4 456.0L80.4 456.1L81.4 456.2L82.4 456.2L83.4 456.3L84.4 456.4L85.4 456.4L86.4 456.5L87.4 456.6L88.4 456.7L89.4 456.7L90.4 456.8L91.4 456.9L92.4 457.0L93.4 457.0L94.4 457.1L95.4 457.2L96.4 457.2L97.4 457.3L98.4 457.4L99.4 457.5L100.0 457.5L100.4 457.5L101.4 457.6L102.4 457.7L103.4 457.8L104.4 457.9L105.4 458.0L106.4 458.1L107.4 458.1L108.4 458.2L109.4 458.3L110.4 458.4L111.4 458.5L112.4 458.6L113.4 458.7L114.4 458.8L115.4 458.8L116.4 458.9L117.4 459.0L118.4 459.1L119.4 459.2L120.4 459.3L121.4 459.4L122.4 459.5L123.4 459.5L124.4 459.6L125.4 459.7L126.4 459.8L127.4 459.9L128.4 460.0L129.4 460.1L130.4 460.2L131.4 460.2L132.4 460.3L133.4 460.4L134.4 460.5L135.4 460.6L136.4 460.7L137.4 460.8L138.4 460.9L139.4 460.9L140.0 461.0L140.4 461.0L141.4 461.1L142.4 461.2L143.4 461.3L144.4 461.4L145.4 461.5L146.4 461.6L147.4 461.6L148.4 461.7L149.4 461.8L150.4 461.9L151.4 462.0L152.4 462.1L153.4 462.2L154.4 462.2L155.4 462.3L156.4 462.4L157.4 462.5L158.4 462.6L159.4 462.7L160.4 462.8L161.4 462.9L162.4 462.9L163.4 463.0L164.4 463.1L165.4 463.2L166.4 463.3L167.4 463.4L168.4 463.5L169.4 463.5L170.4 463.6L171.4 463.7L172.4 463.8L173.4 463.9L174.4 464.0L175.4 464.1L176.4 464.1L177.0 464.2L177.4 464.3L178.4 464.4L179.4 464.6L180.4 464.7L181.4 464.9L182.4 465.0L183.4 465.2L184.4 465.3L185.4 465.5L186.4 465.6L187.4 465.8L188.4 465.9L189.4 466.1L190.4 466.2L191.4 466.4L192.4 466.5L193.4 466.7L194.4 466.8L195.4 467.0L196.4 467.1L197.4 467.3L198.4 467.4L199.4 467.6L200.4 467.7L201.4 467.9L202.4 468.0L203.4 468.2L204.4 468.4L205.4 468.5L206.4 468.7L207.4 468.8L208.4 469.0L209.4 469.1L210.0 469.2L210.4 469.2L211.4 469.4L212.4 469.5L213.4 469.6L214.4 469.7L215.4 469.8L216.4 469.9L217.4 470.1L218.4 470.2L219.4 470.3L220.4 470.4L221.4 470.5L222.4 470.6L223.4 470.8L224.4 470.9L225.4 471.0L226.4 471.1L227.4 471.2L228.4 471.3L229.4 471.5L230.4 471.6L231.4 471.7L232.4 471.8L233.4 471.9L234.4 472.0L235.4 472.2L236.4 472.3L237.4 472.4L238.4 472.5L239.4 472.6L240.0 472.7L240.4 472.7L241.4 472.7L242.4 472.8L243.4 472.8L244.4 472.8L245.4 472.8L246.4 472.9L247.4 472.9L248.4 472.9L249.4 473.0L250.4 473.0L251.4 473.0L252.4 473.0L253.4 473.1L254.4 473.1L255.0 473.1L255.4 473.2L256.4 473.4L257.4 473.6L258.4 473.8L259.4 474.1L260.4 474.3L261.4 474.5L262.4 474.7L263.4 474.9L264.4 475.2L265.0 475.3L265.4 475.6L266.4 476.4L267.4 477.2L268.4 478.0L269.1 478.5L269.3 334.6L270.3 335.2L271.3 335.9L272.3 336.5L273.0 337.0L273.3 337.2L274.3 337.9L275.3 338.6L276.3 339.2L276.7 339.5L277.3 343.0L278.3 348.8L278.5 350.0L279.3 358.0L280.1 366.0L280.3 366.6L281.3 369.4L282.3 372.1L283.3 374.9L284.3 377.7L284.5 378.3L285.3 383.0L286.3 388.8L286.5 390.0L287.3 396.7L287.7 400.0L288.3 405.1L289.1 411.9L289.3 412.6L290.3 416.0L291.3 419.4L292.3 422.8L293.0 425.2L293.3 425.5L294.3 426.7L295.3 427.8L296.3 429.0L297.3 430.1L298.0 430.9L298.3 430.9L299.3 430.9L300.3 430.9L301.3 430.9L302.3 430.9L303.1 430.9L303.3 430.9L304.3 430.8L305.3 430.6L306.3 430.5L307.3 430.4L308.2 430.3L308.3 430.3L309.3 430.6L310.3 431.0L311.3 431.3L312.3 431.6L313.3 431.9L313.6 432.0L314.3 432.1L315.3 432.2L316.3 432.3L317.3 432.5L318.3 432.6L319.3 432.7L320.0 432.8L320.3 432.9L321.3 433.2L322.3 433.4L323.3 433.7L324.3 434.0L325.3 434.3L326.3 434.6L327.3 434.8L328.3 435.1L329.3 435.4L330.3 435.7L331.3 436.0L332.3 436.2L333.3 436.5L334.3 436.8L335.0 437.0L335.3 437.1L336.3 437.3L337.3 437.5L338.3 437.8L339.3 438.0L340.3 438.2L341.3 438.5L342.3 438.7L343.3 438.9L344.3 439.2L345.3 439.4L346.3 439.6L347.3 439.9L348.3 440.1L349.3 440.3L350.3 440.5L351.3 440.8L352.3 441.0L353.3 441.2L354.3 441.5L355.3 441.7L356.3 441.9L357.3 442.2L358.3 442.4L359.3 442.6L360.0 442.8L360.3 442.9L361.3 443.0L362.3 443.2L363.3 443.4L364.3 443.6L365.3 443.8L366.3 443.9L367.3 444.1L368.3 444.3L369.3 444.5L370.3 444.7L371.3 444.8L372.3 445.0L373.3 445.2L374.3 445.4L375.0 445.5L375.3 445.5L376.3 445.6L377.3 445.8L378.3 445.9L379.3 446.0L380.3 446.1L381.3 446.2L382.3 446.3L383.3 446.5L384.3 446.6L385.3 446.7L386.3 446.8L387.3 446.9L388.3 447.0L389.3 447.1L390.3 447.3L391.3 447.4L392.3 447.5L393.3 447.6L394.3 447.7L395.0 447.8L395.3 447.8L396.3 448.0L397.3 448.1L398.3 448.2L399.3 448.3L400.3 448.4L401.3 448.6L402.3 448.7L403.3 448.8L404.3 448.9L405.3 449.0L406.3 449.2L407.3 449.3L408.3 449.4L409.3 449.5L410.3 449.6L411.3 449.8L412.3 449.9L413.3 450.0L414.3 450.1L415.3 450.2L416.3 450.4L417.3 450.5L418.3 450.6L419.3 450.7L420.0 450.8L420.3 450.8L421.3 450.9L422.3 451.0L423.3 451.1L424.3 451.2L425.3 451.3L426.3 451.4L427.3 451.5L428.3 451.6L429.3 451.7L430.3 451.8L431.3 451.9L432.3 452.1L433.3 452.2L434.3 452.3L435.3 452.4L436.3 452.5L437.3 452.6L438.3 452.7L439.3 452.8L440.3 452.9L441.3 453.0L442.3 453.1L443.3 453.2L444.3 453.3L445.3 453.4L446.3 453.5L447.3 453.6L448.3 453.7L449.3 453.8L450.3 453.9L451.3 454.0L452.3 454.1L453.3 454.2L454.3 454.3L455.3 454.4L456.3 454.5L457.3 454.6L458.3 454.7L459.3 454.8L460.3 454.9L461.3 455.0" fill="none" stroke="#00ffff" stroke-width="1.2" stroke-linejoin="round"/>
<path d="M63.80 453.40L67.00 456.60M67.00 453.40L63.80 456.60" stroke="#00eeee" stroke-width="0.8" fill="none"/>
<path d="M68.75 453.76L71.95 456.96M71.95 453.76L68.75 456.96" stroke="#00eeee" stroke-width="0.8" fill="none"/>
<path d="M73.70 454.12L76.90 457.32M76.90 454.12L73.70 457.32" stroke="#00eeee" stroke-width="0.8" fill="none"/>
<path d="M78.65 454.47L81.85 457.67M81.85 454.47L78.65 457.67" stroke="#00eeee" stroke-width="0.8" fill="none"/>
<path d="M83.60 454.83L86.80 458.03M86.80 454.83L83.60 458.03" stroke="#00eeee" stroke-width="0.8" fill="none"/>
<path d="M88.55 455.19L91.75 458.39M91.75 455.19L88.55 458.39" stroke="#00eeee" stroke-width="0.8" fill="none"/>
<path d="M93.50 455.55L96.70 458.75M96.70 455.55L93.50 458.75" stroke="#00eeee" stroke-width="0.8" fill="none"/>
<path d="M98.45 455.90L101.65 459.10M101.65 455.90L98.45 459.10" stroke="#00eeee" stroke-width="0.8" fill="none"/>
<path d="M103.40 456.34L106.60 459.54M106.60 456.34L103.40 459.54" stroke="#00eeee" stroke-width="0.8" fill="none"/>
<path d="M108.35 456.77L111.55 459.97M111.55 456.77L108.35 459.97" stroke="#00eeee" stroke-width="0.8" fill="none"/>
<path d="M113.30 457.20L116.50 460.40M116.50 457.20L113.30 460.40" stroke="#00eeee" stroke-width="0.8" fill="none"/>
<path d="M118.25 457.64L121.45 460.84M121.45 457.64L118.25 460.84" stroke="#00eeee" stroke-width="0.8" fill="none"/>
<path d="M123.20 458.07L126.40 461.27M126.40 458.07L123.20 461.27" stroke="#00eeee" stroke-width="0.8" fill="none"/>
<path d="M128.15 458.50L131.35 461.70M131.35 458.50L128.15 461.70" stroke="#00eeee" stroke-width="0.8" fill="none"/>
<path d="M133.10 458.94L136.30 462.14M136.30 458.94L133.10 462.14" stroke="#00eeee" stroke-width="0.8" fill="none"/>
<path d="M138.05 459.37L141.25 462.57M141.25 459.37L138.05 462.57" stroke="#00eeee" stroke-width="0.8" fill="none"/>
<path d="M143.00 459.80L146.20 463.00M146.20 459.80L143.00 463.00" stroke="#00eeee" stroke-width="0.8" fill="none"/>
<path d="M147.95 460.23L151.15 463.43M151.15 460.23L147.95 463.43" stroke="#00eeee" stroke-width="0.8" fill="none"/>
<path d="M152.90 460.65L156.10 463.85M156.10 460.65L152.90 463.85" stroke="#00eeee" stroke-width="0.8" fill="none"/>
<path d="M157.85 461.08L161.05 464.28M161.05 461.08L157.85 464.28" stroke="#00eeee" stroke-width="0.8" fill="none"/>
<path d="M162.80 461.51L166.00 464.71M166.00 461.51L162.80 464.71" stroke="#00eeee" stroke-width="0.8" fill="none"/>
<path d="M167.75 461.94L170.95 465.14M170.95 461.94L167.75 465.14" stroke="#00eeee" stroke-width="0.8" fill="none"/>
<path d="M172.70 462.37L175.90 465.57M175.90 462.37L172.70 465.57" stroke="#00eeee" stroke-width="0.8" fill="none"/>
<path d="M177.65 462.94L180.85 466.14M180.85 462.94L177.65 466.14" stroke="#00eeee" stroke-width="0.8" fill="none"/>
<path d="M182.60 463.69L185.80 466.89M185.80 463.69L182.60 466.89" stroke="#00eeee" stroke-width="0.8" fill="none"/>
<path d="M187.55 464.44L190.75 467.64M190.75 464.44L187.55 467.64" stroke="#00eeee" stroke-width="0.8" fill="none"/>
<path d="M192.50 465.19L195.70 468.39M195.70 465.19L192.50 468.39" stroke="#00eeee" stroke-width="0.8" fill="none"/>
<path d="M197.45 465.94L200.65 469.14M200.65 465.94L197.45 469.14" stroke="#00eeee" stroke-width="0.8" fill="none"/>
<path d="M202.40 466.69L205.60 469.89M205.60 466.69L202.40 469.89" stroke="#00eeee" stroke-width="0.8" fill="none"/>
<path d="M207.35 467.44L210.55 470.64M210.55 467.44L207.35 470.64" stroke="#00eeee" stroke-width="0.8" fill="none"/>
<path d="M212.30 468.05L215.50 471.25M215.50 468.05L212.30 471.25" stroke="#00eeee" stroke-width="0.8" fill="none"/>
<path d="M217.25 468.63L220.45 471.83M220.45 468.63L217.25 471.83" stroke="#00eeee" stroke-width="0.8" fill="none"/>
<path d="M222.20 469.21L225.40 472.41M225.40 469.21L222.20 472.41" stroke="#00eeee" stroke-width="0.8" fill="none"/>
<path d="M227.15 469.79L230.35 472.99M230.35 469.79L227.15 472.99" stroke="#00eeee" stroke-width="0.8" fill="none"/>
<path d="M232.10 470.36L235.30 473.56M235.30 470.36L232.10 473.56" stroke="#00eeee" stroke-width="0.8" fill="none"/>
<path d="M237.05 470.94L240.25 474.14M240.25 470.94L237.05 474.14" stroke="#00eeee" stroke-width="0.8" fill="none"/>
<path d="M242.00 471.20L245.20 474.40M245.20 471.20L242.00 474.40" stroke="#00eeee" stroke-width="0.8" fill="none"/>
<path d="M246.95 471.33L250.15 474.53M250.15 471.33L246.95 474.53" stroke="#00eeee" stroke-width="0.8" fill="none"/>
<path d="M251.90 471.46L255.10 474.66M255.10 471.46L251.90 474.66" stroke="#00eeee" stroke-width="0.8" fill="none"/>
<path d="M256.85 472.26L260.05 475.46M260.05 472.26L256.85 475.46" stroke="#00eeee" stroke-width="0.8" fill="none"/>
<path d="M261.80 473.35L265.00 476.55M265.00 473.35L261.80 476.55" stroke="#00eeee" stroke-width="0.8" fill="none"/>
<path d="M267.50 476.90L270.70 480.10M270.70 476.90L267.50 480.10" stroke="#00eeee" stroke-width="0.8" fill="none"/>
<path d="M267.70 333.00L270.90 336.20M270.90 333.00L267.70 336.20" stroke="#00eeee" stroke-width="0.8" fill="none"/>
<path d="M271.70 335.60L274.90 338.80M274.90 335.60L271.70 338.80" stroke="#00eeee" stroke-width="0.8" fill="none"/>
<path d="M276.65 346.94L279.85 350.14M279.85 346.94L276.65 350.14" stroke="#00eeee" stroke-width="0.8" fill="none"/>
<path d="M281.60 373.07L284.80 376.27M284.80 373.07L281.60 376.27" stroke="#00eeee" stroke-width="0.8" fill="none"/>
<path d="M286.55 402.22L289.75 405.42M289.75 402.22L286.55 405.42" stroke="#00eeee" stroke-width="0.8" fill="none"/>
<path d="M291.50 423.71L294.70 426.91M294.70 423.71L291.50 426.91" stroke="#00eeee" stroke-width="0.8" fill="none"/>
<path d="M296.45 429.30L299.65 432.50M299.65 429.30L296.45 432.50" stroke="#00eeee" stroke-width="0.8" fill="none"/>
<path d="M301.40 429.30L304.60 432.50M304.60 429.30L301.40 432.50" stroke="#00eeee" stroke-width="0.8" fill="none"/>
<path d="M306.35 428.73L309.55 431.93M309.55 428.73L306.35 431.93" stroke="#00eeee" stroke-width="0.8" fill="none"/>
<path d="M311.30 430.18L314.50 433.38M314.50 430.18L311.30 433.38" stroke="#00eeee" stroke-width="0.8" fill="none"/>
<path d="M316.25 430.93L319.45 434.13M319.45 430.93L316.25 434.13" stroke="#00eeee" stroke-width="0.8" fill="none"/>
<path d="M321.20 431.98L324.40 435.18M324.40 431.98L321.20 435.18" stroke="#00eeee" stroke-width="0.8" fill="none"/>
<path d="M326.15 433.37L329.35 436.57M329.35 433.37L326.15 436.57" stroke="#00eeee" stroke-width="0.8" fill="none"/>
<path d="M331.10 434.76L334.30 437.96M334.30 434.76L331.10 437.96" stroke="#00eeee" stroke-width="0.8" fill="none"/>
<path d="M336.05 436.01L339.25 439.21M339.25 436.01L336.05 439.21" stroke="#00eeee" stroke-width="0.8" fill="none"/>
<path d="M341.00 437.16L344.20 440.36M344.20 437.16L341.00 440.36" stroke="#00eeee" stroke-width="0.8" fill="none"/>
<path d="M345.95 438.31L349.15 441.51M349.15 438.31L345.95 441.51" stroke="#00eeee" stroke-width="0.8" fill="none"/>
<path d="M350.90 439.46L354.10 442.66M354.10 439.46L350.90 442.66" stroke="#00eeee" stroke-width="0.8" fill="none"/>
<path d="M355.85 440.61L359.05 443.81M359.05 440.61L355.85 443.81" stroke="#00eeee" stroke-width="0.8" fill="none"/>
<path d="M360.80 441.63L364.00 444.83M364.00 441.63L360.80 444.83" stroke="#00eeee" stroke-width="0.8" fill="none"/>
<path d="M365.75 442.52L368.95 445.72M368.95 442.52L365.75 445.72" stroke="#00eeee" stroke-width="0.8" fill="none"/>
<path d="M370.70 443.41L373.90 446.61M373.90 443.41L370.70 446.61" stroke="#00eeee" stroke-width="0.8" fill="none"/>
<path d="M375.65 444.16L378.85 447.36M378.85 444.16L375.65 447.36" stroke="#00eeee" stroke-width="0.8" fill="none"/>
<path d="M380.60 444.73L383.80 447.93M383.80 444.73L380.60 447.93" stroke="#00eeee" stroke-width="0.8" fill="none"/>
<path d="M385.55 445.30L388.75 448.50M388.75 445.30L385.55 448.50" stroke="#00eeee" stroke-width="0.8" fill="none"/>
<path d="M390.50 445.87L393.70 449.07M393.70 445.87L390.50 449.07" stroke="#00eeee" stroke-width="0.8" fill="none"/>
<path d="M395.45 446.45L398.65 449.65M398.65 446.45L395.45 449.65" stroke="#00eeee" stroke-width="0.8" fill="none"/>
<path d="M400.40 447.04L403.60 450.24M403.60 447.04L400.40 450.24" stroke="#00eeee" stroke-width="0.8" fill="none"/>
<path d="M405.35 447.63L408.55 450.83M408.55 447.63L405.35 450.83" stroke="#00eeee" stroke-width="0.8" fill="none"/>
<path d="M410.30 448.23L413.50 451.43M413.50 448.23L410.30 451.43" stroke="#00eeee" stroke-width="0.8" fill="none"/>
<path d="M415.25 448.82L418.45 452.02M418.45 448.82L415.25 452.02" stroke="#00eeee" stroke-width="0.8" fill="none"/>
<path d="M420.20 449.38L423.40 452.58M423.40 449.38L420.20 452.58" stroke="#00eeee" stroke-width="0.8" fill="none"/>
<path d="M425.15 449.89L428.35 453.09M428.35 449.89L425.15 453.09" stroke="#00eeee" stroke-width="0.8" fill="none"/>
<path d="M430.10 450.39L433.30 453.59M433.30 450.39L430.10 453.59" stroke="#00eeee" stroke-width="0.8" fill="none"/>
<path d="M435.05 450.89L438.25 454.09M438.25 450.89L435.05 454.09" stroke="#00eeee" stroke-width="0.8" fill="none"/>
<path d="M440.00 451.40L443.20 454.60M443.20 451.40L440.00 454.60" stroke="#00eeee" stroke-width="0.8" fill="none"/>
<path d="M444.95 451.90L448.15 455.10M448.15 451.90L444.95 455.10" stroke="#00eeee" stroke-width="0.8" fill="none"/>
<path d="M449.90 452.40L453.10 455.60M453.10 452.40L449.90 455.60" stroke="#00eeee" stroke-width="0.8" fill="none"/>
<path d="M454.85 452.91L458.05 456.11M458.05 452.91L454.85 456.11" stroke="#00eeee" stroke-width="0.8" fill="none"/>
<path d="M459.70 453.40L462.90 456.60M462.90 453.40L459.70 456.60" stroke="#00eeee" stroke-width="0.8" fill="none"/>
<path d="M65.4 455.0L66.4 455.1L67.4 455.1L68.4 455.2L69.4 455.2L70.4 455.3L71.4 455.3L72.4 455.4L73.4 455.5L74.4 455.5L75.4 455.6L76.4 455.6L77.4 455.7L78.4 455.8L79.4 455.8L80.4 455.9L81.4 455.9L82.4 456.0L83.4 456.0L84.4 456.1L85.4 456.2L86.4 456.2L87.4 456.3L88.4 456.3L89.4 456.4L90.4 456.4L91.4 456.5L92.4 456.6L93.4 456.6L94.4 456.7L95.4 456.7L96.4 456.8L97.4 456.8L98.4 456.9L99.4 457.0L100.0 457.0L100.4 457.0L101.4 457.1L102.4 457.2L103.4 457.3L104.4 457.3L105.4 457.4L106.4 457.5L107.4 457.6L108.4 457.6L109.4 457.7L110.4 457.8L111.4 457.9L112.4 457.9L113.4 458.0L114.4 458.1L115.4 458.2L116.4 458.2L117.4 458.3L118.4 458.4L119.4 458.5L120.4 458.5L121.4 458.6L122.4 458.7L123.4 458.8L124.4 458.8L125.4 458.9L126.4 459.0L127.4 459.1L128.4 459.1L129.4 459.2L130.4 459.3L131.4 459.4L132.4 459.4L133.4 459.5L134.4 459.6L135.4 459.7L136.4 459.7L137.4 459.8L138.4 459.9L139.4 460.0L140.0 460.0L140.4 460.0L141.4 460.1L142.4 460.2L143.4 460.3L144.4 460.4L145.4 460.5L146.4 460.5L147.4 460.6L148.4 460.7L149.4 460.8L150.4 460.9L151.4 461.0L152.4 461.1L153.4 461.1L154.4 461.2L155.4 461.3L156.4 461.4L157.4 461.5L158.4 461.6L159.4 461.7L160.4 461.7L161.4 461.8L162.4 461.9L163.4 462.0L164.4 462.1L165.4 462.2L166.4 462.3L167.4 462.3L168.4 462.4L169.4 462.5L170.4 462.6L171.4 462.7L172.4 462.8L173.4 462.9L174.4 462.9L175.0 463.0L175.4 463.0L176.4 463.1L177.4 463.2L178.4 463.3L179.4 463.4L180.4 463.5L181.4 463.6L182.4 463.7L183.4 463.8L184.4 463.9L185.4 464.0L186.4 464.1L187.4 464.2L188.4 464.3L189.4 464.4L190.4 464.5L191.4 464.5L192.4 464.6L193.4 464.7L194.4 464.8L195.4 464.9L196.4 465.0L197.4 465.1L198.4 465.2L199.4 465.3L200.4 465.4L201.4 465.5L202.4 465.6L203.4 465.7L204.4 465.8L205.4 465.9L206.4 466.0L207.4 466.1L208.4 466.1L209.4 466.2L210.0 466.3L210.4 466.3L211.4 466.5L212.4 466.6L213.4 466.7L214.4 466.8L215.4 466.9L216.4 467.0L217.4 467.2L218.4 467.3L219.4 467.4L220.4 467.5L221.4 467.6L222.4 467.7L223.4 467.9L224.4 468.0L225.4 468.1L226.4 468.2L227.4 468.3L228.4 468.4L229.4 468.6L230.4 468.7L231.4 468.8L232.4 468.9L233.4 469.0L234.4 469.1L235.4 469.3L236.4 469.4L237.4 469.5L238.4 469.6L239.4 469.7L240.0 469.8L240.4 469.6L241.4 469.0L242.4 468.4L243.4 467.9L244.4 467.3L245.4 466.7L246.4 466.1L247.4 465.6L248.4 465.0L249.4 464.0L250.4 463.1L251.4 462.1L252.4 461.1L253.4 460.1L254.4 459.2L255.4 458.2L255.7 457.9L256.4 456.9L257.4 455.4L258.4 453.9L259.4 452.4L260.4 451.0L261.4 449.5L262.4 448.6L263.4 447.8L264.4 446.9L265.4 446.1L266.4 445.2L267.4 445.2L268.4 445.3L269.4 445.3L270.4 445.3L271.4 445.4L271.8 445.4L272.0 298.9L273.0 299.9L274.0 300.9L275.0 301.9L276.0 302.9L277.0 303.9L277.3 304.2L278.0 305.7L279.0 307.8L280.0 310.0L281.0 312.1L281.6 313.4L282.0 314.9L283.0 318.7L284.0 322.6L284.9 326.0L285.0 327.0L285.7 334.0L286.0 336.6L286.5 341.0L287.0 348.0L287.5 355.0L288.0 361.7L288.7 371.0L289.0 372.0L290.0 375.3L290.8 378.0L291.0 378.5L292.0 381.0L293.0 383.5L293.2 384.0L294.0 385.0L295.0 386.2L296.0 387.4L297.0 388.6L298.0 389.8L298.2 390.0L299.0 390.1L300.0 390.3L301.0 390.4L302.0 390.6L302.6 390.7L303.0 390.8L304.0 391.2L305.0 391.6L306.0 392.0L307.0 392.3L307.7 392.6L308.0 392.8L309.0 393.4L310.0 394.0L311.0 394.6L312.0 395.3L312.7 395.7L313.0 395.9L314.0 396.7L315.0 397.4L316.0 398.2L317.0 398.9L317.8 399.5L318.0 399.7L319.0 400.6L320.0 401.5L321.0 402.4L322.0 403.3L322.8 404.0L323.0 404.1L324.0 404.9L325.0 405.6L326.0 406.3L327.0 407.0L327.9 407.7L328.0 407.8L329.0 408.4L330.0 409.0L331.0 409.6L332.0 410.3L333.0 410.9L334.0 411.7L335.0 412.4L336.0 413.2L337.0 413.9L338.0 414.7L339.0 415.3L340.0 416.0L341.0 416.6L342.0 417.2L343.0 417.8L343.1 417.9L344.0 418.3L345.0 418.8L346.0 419.3L347.0 419.8L348.0 420.3L348.2 420.4L349.0 420.8L350.0 421.3L351.0 421.8L352.0 422.3L353.0 422.8L353.2 422.9L354.0 423.2L355.0 423.7L356.0 424.1L357.0 424.5L358.0 424.9L359.0 425.3L360.0 425.7L361.0 426.2L362.0 426.6L363.0 427.0L364.0 427.4L365.0 427.8L366.0 428.2L367.0 428.7L368.0 429.1L369.0 429.5L370.0 429.9L371.0 430.3L372.0 430.7L373.0 431.2L374.0 431.6L375.0 432.0L376.0 432.4L377.0 432.7L378.0 433.1L379.0 433.4L380.0 433.8L381.0 434.2L382.0 434.5L383.0 434.9L384.0 435.2L385.0 435.6L386.0 436.0L387.0 436.3L388.0 436.7L389.0 437.0L390.0 437.4L391.0 437.8L392.0 438.1L393.0 438.5L394.0 438.8L395.0 439.2L396.0 439.5L397.0 439.7L398.0 440.0L399.0 440.3L400.0 440.6L401.0 440.8L402.0 441.1L403.0 441.4L404.0 441.6L405.0 441.9L406.0 442.2L407.0 442.5L408.0 442.7L409.0 443.0L410.0 443.3L411.0 443.6L412.0 443.8L413.0 444.1L414.0 444.4L415.0 444.6L416.0 444.9L417.0 445.2L418.0 445.5L419.0 445.7L420.0 446.0L421.0 446.2L422.0 446.4L423.0 446.7L424.0 446.9L425.0 447.1L426.0 447.3L427.0 447.5L428.0 447.7L429.0 448.0L430.0 448.2L431.0 448.4L432.0 448.6L433.0 448.8L434.0 449.1L435.0 449.3L436.0 449.5L437.0 449.7L438.0 449.9L439.0 450.1L440.0 450.4L441.0 450.6L442.0 450.8L443.0 451.0L444.0 451.2L445.0 451.4L446.0 451.7L447.0 451.9L448.0 452.1L449.0 452.3L450.0 452.5L451.0 452.8L452.0 453.0L453.0 453.2L454.0 453.4L455.0 453.6L456.0 453.8L457.0 454.1L458.0 454.3L459.0 454.5L460.0 454.7L461.0 454.9L461.3 455.0" fill="none" stroke="#b648b6" stroke-width="1.2" stroke-linejoin="round"/>
<path d="M63.80 453.40L67.00 456.60M67.00 453.40L63.80 456.60M65.40 453.40L65.40 456.60" stroke="#a020a0" stroke-width="0.65" fill="none"/>
<path d="M68.75 453.69L71.95 456.89M71.95 453.69L68.75 456.89M70.35 453.69L70.35 456.89" stroke="#a020a0" stroke-width="0.65" fill="none"/>
<path d="M73.70 453.97L76.90 457.17M76.90 453.97L73.70 457.17M75.30 453.97L75.30 457.17" stroke="#a020a0" stroke-width="0.65" fill="none"/>
<path d="M78.65 454.26L81.85 457.46M81.85 454.26L78.65 457.46M80.25 454.26L80.25 457.46" stroke="#a020a0" stroke-width="0.65" fill="none"/>
<path d="M83.60 454.54L86.80 457.74M86.80 454.54L83.60 457.74M85.20 454.54L85.20 457.74" stroke="#a020a0" stroke-width="0.65" fill="none"/>
<path d="M88.55 454.83L91.75 458.03M91.75 454.83L88.55 458.03M90.15 454.83L90.15 458.03" stroke="#a020a0" stroke-width="0.65" fill="none"/>
<path d="M93.50 455.12L96.70 458.32M96.70 455.12L93.50 458.32M95.10 455.12L95.10 458.32" stroke="#a020a0" stroke-width="0.65" fill="none"/>
<path d="M98.45 455.40L101.65 458.60M101.65 455.40L98.45 458.60M100.05 455.40L100.05 458.60" stroke="#a020a0" stroke-width="0.65" fill="none"/>
<path d="M103.40 455.77L106.60 458.98M106.60 455.77L103.40 458.98M105.00 455.77L105.00 458.98" stroke="#a020a0" stroke-width="0.65" fill="none"/>
<path d="M108.35 456.15L111.55 459.35M111.55 456.15L108.35 459.35M109.95 456.15L109.95 459.35" stroke="#a020a0" stroke-width="0.65" fill="none"/>
<path d="M113.30 456.52L116.50 459.72M116.50 456.52L113.30 459.72M114.90 456.52L114.90 459.72" stroke="#a020a0" stroke-width="0.65" fill="none"/>
<path d="M118.25 456.89L121.45 460.09M121.45 456.89L118.25 460.09M119.85 456.89L119.85 460.09" stroke="#a020a0" stroke-width="0.65" fill="none"/>
<path d="M123.20 457.26L126.40 460.46M126.40 457.26L123.20 460.46M124.80 457.26L124.80 460.46" stroke="#a020a0" stroke-width="0.65" fill="none"/>
<path d="M128.15 457.63L131.35 460.83M131.35 457.63L128.15 460.83M129.75 457.63L129.75 460.83" stroke="#a020a0" stroke-width="0.65" fill="none"/>
<path d="M133.10 458.00L136.30 461.20M136.30 458.00L133.10 461.20M134.70 458.00L134.70 461.20" stroke="#a020a0" stroke-width="0.65" fill="none"/>
<path d="M138.05 458.37L141.25 461.57M141.25 458.37L138.05 461.57M139.65 458.37L139.65 461.57" stroke="#a020a0" stroke-width="0.65" fill="none"/>
<path d="M143.00 458.79L146.20 461.99M146.20 458.79L143.00 461.99M144.60 458.79L144.60 461.99" stroke="#a020a0" stroke-width="0.65" fill="none"/>
<path d="M147.95 459.22L151.15 462.42M151.15 459.22L147.95 462.42M149.55 459.22L149.55 462.42" stroke="#a020a0" stroke-width="0.65" fill="none"/>
<path d="M152.90 459.64L156.10 462.84M156.10 459.64L152.90 462.84M154.50 459.64L154.50 462.84" stroke="#a020a0" stroke-width="0.65" fill="none"/>
<path d="M157.85 460.07L161.05 463.27M161.05 460.07L157.85 463.27M159.45 460.07L159.45 463.27" stroke="#a020a0" stroke-width="0.65" fill="none"/>
<path d="M162.80 460.49L166.00 463.69M166.00 460.49L162.80 463.69M164.40 460.49L164.40 463.69" stroke="#a020a0" stroke-width="0.65" fill="none"/>
<path d="M167.75 460.92L170.95 464.12M170.95 460.92L167.75 464.12M169.35 460.92L169.35 464.12" stroke="#a020a0" stroke-width="0.65" fill="none"/>
<path d="M172.70 461.34L175.90 464.54M175.90 461.34L172.70 464.54M174.30 461.34L174.30 464.54" stroke="#a020a0" stroke-width="0.65" fill="none"/>
<path d="M177.65 461.80L180.85 465.00M180.85 461.80L177.65 465.00M179.25 461.80L179.25 465.00" stroke="#a020a0" stroke-width="0.65" fill="none"/>
<path d="M182.60 462.27L185.80 465.47M185.80 462.27L182.60 465.47M184.20 462.27L184.20 465.47" stroke="#a020a0" stroke-width="0.65" fill="none"/>
<path d="M187.55 462.73L190.75 465.93M190.75 462.73L187.55 465.93M189.15 462.73L189.15 465.93" stroke="#a020a0" stroke-width="0.65" fill="none"/>
<path d="M192.50 463.20L195.70 466.40M195.70 463.20L192.50 466.40M194.10 463.20L194.10 466.40" stroke="#a020a0" stroke-width="0.65" fill="none"/>
<path d="M197.45 463.67L200.65 466.87M200.65 463.67L197.45 466.87M199.05 463.67L199.05 466.87" stroke="#a020a0" stroke-width="0.65" fill="none"/>
<path d="M202.40 464.13L205.60 467.33M205.60 464.13L202.40 467.33M204.00 464.13L204.00 467.33" stroke="#a020a0" stroke-width="0.65" fill="none"/>
<path d="M207.35 464.60L210.55 467.80M210.55 464.60L207.35 467.80M208.95 464.60L208.95 467.80" stroke="#a020a0" stroke-width="0.65" fill="none"/>
<path d="M212.30 465.15L215.50 468.36M215.50 465.15L212.30 468.36M213.90 465.15L213.90 468.36" stroke="#a020a0" stroke-width="0.65" fill="none"/>
<path d="M217.25 465.73L220.45 468.93M220.45 465.73L217.25 468.93M218.85 465.73L218.85 468.93" stroke="#a020a0" stroke-width="0.65" fill="none"/>
<path d="M222.20 466.31L225.40 469.51M225.40 466.31L222.20 469.51M223.80 466.31L223.80 469.51" stroke="#a020a0" stroke-width="0.65" fill="none"/>
<path d="M227.15 466.89L230.35 470.09M230.35 466.89L227.15 470.09M228.75 466.89L228.75 470.09" stroke="#a020a0" stroke-width="0.65" fill="none"/>
<path d="M232.10 467.46L235.30 470.67M235.30 467.46L232.10 470.67M233.70 467.46L233.70 470.67" stroke="#a020a0" stroke-width="0.65" fill="none"/>
<path d="M237.05 468.04L240.25 471.24M240.25 468.04L237.05 471.24M238.65 468.04L238.65 471.24" stroke="#a020a0" stroke-width="0.65" fill="none"/>
<path d="M242.00 466.14L245.20 469.34M245.20 466.14L242.00 469.34M243.60 466.14L243.60 469.34" stroke="#a020a0" stroke-width="0.65" fill="none"/>
<path d="M246.95 463.25L250.15 466.45M250.15 463.25L246.95 466.45M248.55 463.25L248.55 466.45" stroke="#a020a0" stroke-width="0.65" fill="none"/>
<path d="M251.90 458.44L255.10 461.64M255.10 458.44L251.90 461.64M253.50 458.44L253.50 461.64" stroke="#a020a0" stroke-width="0.65" fill="none"/>
<path d="M256.85 452.25L260.05 455.45M260.05 452.25L256.85 455.45M258.45 452.25L258.45 455.45" stroke="#a020a0" stroke-width="0.65" fill="none"/>
<path d="M261.80 446.18L265.00 449.38M265.00 446.18L261.80 449.38M263.40 446.18L263.40 449.38" stroke="#a020a0" stroke-width="0.65" fill="none"/>
<path d="M266.75 443.67L269.95 446.87M269.95 443.67L266.75 446.87M268.35 443.67L268.35 446.87" stroke="#a020a0" stroke-width="0.65" fill="none"/>
<path d="M270.20 443.80L273.40 447.00M273.40 443.80L270.20 447.00M271.80 443.80L271.80 447.00" stroke="#a020a0" stroke-width="0.65" fill="none"/>
<path d="M270.40 297.30L273.60 300.50M273.60 297.30L270.40 300.50M272.00 297.30L272.00 300.50" stroke="#a020a0" stroke-width="0.65" fill="none"/>
<path d="M271.70 298.60L274.90 301.80M274.90 298.60L271.70 301.80M273.30 298.60L273.30 301.80" stroke="#a020a0" stroke-width="0.65" fill="none"/>
<path d="M276.65 304.63L279.85 307.83M279.85 304.63L276.65 307.83M278.25 304.63L278.25 307.83" stroke="#a020a0" stroke-width="0.65" fill="none"/>
<path d="M281.60 317.91L284.80 321.11M284.80 317.91L281.60 321.11M283.20 317.91L283.20 321.11" stroke="#a020a0" stroke-width="0.65" fill="none"/>
<path d="M286.55 362.07L289.75 365.27M289.75 362.07L286.55 365.27M288.15 362.07L288.15 365.27" stroke="#a020a0" stroke-width="0.65" fill="none"/>
<path d="M291.50 382.15L294.70 385.35M294.70 382.15L291.50 385.35M293.10 382.15L293.10 385.35" stroke="#a020a0" stroke-width="0.65" fill="none"/>
<path d="M296.45 388.22L299.65 391.42M299.65 388.22L296.45 391.42M298.05 388.22L298.05 391.42" stroke="#a020a0" stroke-width="0.65" fill="none"/>
<path d="M301.40 389.25L304.60 392.45M304.60 389.25L301.40 392.45M303.00 389.25L303.00 392.45" stroke="#a020a0" stroke-width="0.65" fill="none"/>
<path d="M306.35 391.15L309.55 394.36M309.55 391.15L306.35 394.36M307.95 391.15L307.95 394.36" stroke="#a020a0" stroke-width="0.65" fill="none"/>
<path d="M311.30 394.25L314.50 397.45M314.50 394.25L311.30 397.45M312.90 394.25L312.90 397.45" stroke="#a020a0" stroke-width="0.65" fill="none"/>
<path d="M316.25 397.94L319.45 401.15M319.45 397.94L316.25 401.15M317.85 397.94L317.85 401.15" stroke="#a020a0" stroke-width="0.65" fill="none"/>
<path d="M321.20 402.40L324.40 405.60M324.40 402.40L321.20 405.60M322.80 402.40L322.80 405.60" stroke="#a020a0" stroke-width="0.65" fill="none"/>
<path d="M326.15 405.99L329.35 409.19M329.35 405.99L326.15 409.19M327.75 405.99L327.75 409.19" stroke="#a020a0" stroke-width="0.65" fill="none"/>
<path d="M331.10 409.11L334.30 412.31M334.30 409.11L331.10 412.31M332.70 409.11L332.70 412.31" stroke="#a020a0" stroke-width="0.65" fill="none"/>
<path d="M336.05 412.83L339.25 416.03M339.25 412.83L336.05 416.03M337.65 412.83L337.65 416.03" stroke="#a020a0" stroke-width="0.65" fill="none"/>
<path d="M341.00 415.99L344.20 419.19M344.20 415.99L341.00 419.19M342.60 415.99L342.60 419.19" stroke="#a020a0" stroke-width="0.65" fill="none"/>
<path d="M345.95 418.48L349.15 421.68M349.15 418.48L345.95 421.68M347.55 418.48L347.55 421.68" stroke="#a020a0" stroke-width="0.65" fill="none"/>
<path d="M350.90 420.95L354.10 424.15M354.10 420.95L350.90 424.15M352.50 420.95L352.50 424.15" stroke="#a020a0" stroke-width="0.65" fill="none"/>
<path d="M355.85 423.07L359.05 426.27M359.05 423.07L355.85 426.27M357.45 423.07L357.45 426.27" stroke="#a020a0" stroke-width="0.65" fill="none"/>
<path d="M360.80 425.14L364.00 428.34M364.00 425.14L360.80 428.34M362.40 425.14L362.40 428.34" stroke="#a020a0" stroke-width="0.65" fill="none"/>
<path d="M365.75 427.21L368.95 430.41M368.95 427.21L365.75 430.41M367.35 427.21L367.35 430.41" stroke="#a020a0" stroke-width="0.65" fill="none"/>
<path d="M370.70 429.27L373.90 432.47M373.90 429.27L370.70 432.47M372.30 429.27L372.30 432.47" stroke="#a020a0" stroke-width="0.65" fill="none"/>
<path d="M375.65 431.21L378.85 434.41M378.85 431.21L375.65 434.41M377.25 431.21L377.25 434.41" stroke="#a020a0" stroke-width="0.65" fill="none"/>
<path d="M380.60 432.99L383.80 436.19M383.80 432.99L380.60 436.19M382.20 432.99L382.20 436.19" stroke="#a020a0" stroke-width="0.65" fill="none"/>
<path d="M385.55 434.77L388.75 437.97M388.75 434.77L385.55 437.97M387.15 434.77L387.15 437.97" stroke="#a020a0" stroke-width="0.65" fill="none"/>
<path d="M390.50 436.56L393.70 439.76M393.70 436.56L390.50 439.76M392.10 436.56L392.10 439.76" stroke="#a020a0" stroke-width="0.65" fill="none"/>
<path d="M395.45 438.16L398.65 441.36M398.65 438.16L395.45 441.36M397.05 438.16L397.05 441.36" stroke="#a020a0" stroke-width="0.65" fill="none"/>
<path d="M400.40 439.50L403.60 442.70M403.60 439.50L400.40 442.70M402.00 439.50L402.00 442.70" stroke="#a020a0" stroke-width="0.65" fill="none"/>
<path d="M405.35 440.85L408.55 444.05M408.55 440.85L405.35 444.05M406.95 440.85L406.95 444.05" stroke="#a020a0" stroke-width="0.65" fill="none"/>
<path d="M410.30 442.20L413.50 445.40M413.50 442.20L410.30 445.40M411.90 442.20L411.90 445.40" stroke="#a020a0" stroke-width="0.65" fill="none"/>
<path d="M415.25 443.54L418.45 446.74M418.45 443.54L415.25 446.74M416.85 443.54L416.85 446.74" stroke="#a020a0" stroke-width="0.65" fill="none"/>
<path d="M420.20 444.79L423.40 447.99M423.40 444.79L420.20 447.99M421.80 444.79L421.80 447.99" stroke="#a020a0" stroke-width="0.65" fill="none"/>
<path d="M425.15 445.87L428.35 449.07M428.35 445.87L425.15 449.07M426.75 445.87L426.75 449.07" stroke="#a020a0" stroke-width="0.65" fill="none"/>
<path d="M430.10 446.95L433.30 450.15M433.30 446.95L430.10 450.15M431.70 446.95L431.70 450.15" stroke="#a020a0" stroke-width="0.65" fill="none"/>
<path d="M435.05 448.03L438.25 451.23M438.25 448.03L435.05 451.23M436.65 448.03L436.65 451.23" stroke="#a020a0" stroke-width="0.65" fill="none"/>
<path d="M440.00 449.11L443.20 452.31M443.20 449.11L440.00 452.31M441.60 449.11L441.60 452.31" stroke="#a020a0" stroke-width="0.65" fill="none"/>
<path d="M444.95 450.19L448.15 453.39M448.15 450.19L444.95 453.39M446.55 450.19L446.55 453.39" stroke="#a020a0" stroke-width="0.65" fill="none"/>
<path d="M449.90 451.26L453.10 454.46M453.10 451.26L449.90 454.46M451.50 451.26L451.50 454.46" stroke="#a020a0" stroke-width="0.65" fill="none"/>
<path d="M454.85 452.34L458.05 455.54M458.05 452.34L454.85 455.54M456.45 452.34L456.45 455.54" stroke="#a020a0" stroke-width="0.65" fill="none"/>
<path d="M459.70 453.40L462.90 456.60M462.90 453.40L459.70 456.60M461.30 453.40L461.30 456.60" stroke="#a020a0" stroke-width="0.65" fill="none"/>
<path d="M65.4 455.0L66.4 455.1L67.4 455.2L68.4 455.3L69.4 455.4L70.4 455.5L71.4 455.6L72.4 455.7L73.4 455.8L74.4 455.9L75.4 456.0L76.4 456.1L77.4 456.2L78.4 456.3L79.4 456.4L80.4 456.5L81.4 456.6L82.4 456.7L83.4 456.8L84.4 456.9L85.4 457.0L86.4 457.1L87.4 457.2L88.4 457.3L89.4 457.4L90.4 457.5L91.4 457.6L92.4 457.7L93.4 457.8L94.4 457.9L95.4 458.0L96.4 458.1L97.4 458.2L98.4 458.3L99.4 458.4L100.0 458.5L100.4 458.5L101.4 458.6L102.4 458.7L103.4 458.8L104.4 458.9L105.4 459.0L106.4 459.1L107.4 459.2L108.4 459.3L109.4 459.4L110.4 459.5L111.4 459.6L112.4 459.7L113.4 459.8L114.4 459.9L115.4 460.0L116.4 460.1L117.4 460.2L118.4 460.3L119.4 460.4L120.4 460.5L121.4 460.6L122.4 460.7L123.4 460.8L124.4 460.9L125.4 461.0L126.4 461.1L127.4 461.2L128.4 461.3L129.4 461.4L130.4 461.5L131.4 461.6L132.4 461.7L133.4 461.8L134.4 461.9L135.4 462.0L136.4 462.1L137.4 462.2L138.4 462.3L139.4 462.4L140.0 462.5L140.4 462.6L141.4 462.7L142.4 462.8L143.4 462.9L144.4 463.1L145.4 463.2L146.4 463.3L147.4 463.5L148.4 463.6L149.4 463.7L150.4 463.8L151.4 464.0L152.4 464.1L153.4 464.2L154.4 464.4L155.4 464.5L156.4 464.6L157.4 464.8L158.4 464.9L159.4 465.0L160.4 465.1L161.4 465.3L162.4 465.4L163.4 465.5L164.4 465.7L165.4 465.8L166.4 465.9L167.4 466.1L168.4 466.2L169.4 466.3L170.4 466.4L171.4 466.6L172.4 466.7L173.4 466.8L174.4 467.0L175.4 467.1L176.4 467.2L177.0 467.3L177.4 467.4L178.4 467.5L179.4 467.7L180.4 467.9L181.4 468.0L182.4 468.2L183.4 468.4L184.4 468.6L185.4 468.7L186.4 468.9L187.4 469.1L188.4 469.2L189.4 469.4L190.4 469.6L191.4 469.7L192.4 469.9L193.4 470.1L194.4 470.3L195.4 470.4L196.4 470.6L197.4 470.8L198.4 470.9L199.4 471.1L200.4 471.3L201.4 471.4L202.4 471.6L203.4 471.8L204.4 471.9L205.4 472.1L206.4 472.3L207.4 472.5L208.4 472.6L209.4 472.8L210.0 472.9L210.4 472.9L211.4 473.0L212.4 473.1L213.4 473.2L214.4 473.3L215.4 473.3L216.4 473.4L217.4 473.5L218.4 473.6L219.4 473.7L220.4 473.7L221.4 473.8L222.4 473.9L223.4 474.0L224.4 474.1L225.4 474.1L226.4 474.2L227.4 474.3L228.4 474.4L229.4 474.5L230.4 474.5L231.4 474.6L232.4 474.7L233.4 474.8L234.4 474.9L235.4 474.9L236.4 475.0L237.4 475.1L238.4 475.2L239.4 475.3L240.0 475.3L240.4 475.1L241.4 474.7L242.4 474.3L243.4 473.8L244.4 473.4L245.1 473.1L245.4 473.0L246.4 472.5L247.4 472.0L248.4 471.5L249.4 471.0L250.1 470.6L250.4 470.4L251.4 469.5L252.4 468.7L253.4 467.9L254.4 467.1L254.8 466.8L255.4 466.0L256.4 464.7L257.4 463.4L258.4 462.1L259.4 460.8L260.4 459.1L261.4 457.5L262.4 455.8L263.4 454.2L263.5 454.0L264.4 451.0L265.4 447.6L266.4 444.2L267.4 440.9L268.4 437.6L269.0 435.6L269.4 435.0L270.4 433.5L271.4 432.0L272.4 430.5L273.4 429.0L274.1 427.9L274.3 327.2L275.3 329.1L276.2 330.9L276.3 331.0L277.3 332.4L278.3 333.7L279.3 335.0L280.3 336.3L281.1 337.4L281.3 337.8L282.3 339.6L283.3 341.5L284.0 342.8L284.3 344.8L285.3 351.6L285.8 355.0L286.3 358.0L287.3 364.1L288.3 370.1L288.4 370.7L289.3 372.6L290.3 374.8L291.3 377.0L292.3 379.1L293.3 381.3L293.4 381.5L294.3 382.6L295.3 383.8L296.3 385.0L297.3 386.3L298.3 387.5L298.8 388.1L299.3 388.0L300.3 387.7L301.3 387.4L302.3 387.1L303.2 386.9L303.3 386.9L304.3 386.9L305.3 387.0L306.3 387.0L307.3 387.1L308.3 387.1L309.3 387.6L310.3 388.0L311.3 388.5L312.3 388.9L313.3 389.4L313.4 389.4L314.3 390.0L315.3 390.6L316.3 391.3L317.3 391.9L318.3 392.5L318.4 392.6L319.3 393.4L320.3 394.2L321.3 395.1L322.3 396.0L323.3 396.8L323.5 397.0L324.3 397.7L325.3 398.6L326.3 399.4L327.3 400.3L327.9 400.8L328.3 401.1L329.3 401.8L330.3 402.6L331.3 403.3L332.3 404.1L333.0 404.6L333.3 404.8L334.3 405.6L335.3 406.3L336.3 407.1L337.3 407.9L338.0 408.4L338.3 408.6L339.3 409.2L340.3 409.8L341.3 410.4L342.3 411.0L343.1 411.5L343.3 411.6L344.3 412.3L345.3 412.9L346.3 413.5L347.3 414.1L348.2 414.7L348.3 414.8L349.3 415.5L350.3 416.3L351.3 417.1L352.3 417.8L353.2 418.5L353.3 418.6L354.3 419.1L355.3 419.6L356.3 420.1L357.3 420.6L358.3 421.1L359.3 421.7L360.3 422.2L361.3 422.7L362.3 423.2L363.3 423.7L364.3 424.3L365.3 424.8L366.3 425.3L367.3 425.8L368.3 426.3L369.3 426.8L370.3 427.4L371.3 427.9L372.3 428.4L373.3 428.9L374.3 429.4L375.0 429.8L375.3 429.9L376.3 430.3L377.3 430.7L378.3 431.1L379.3 431.4L380.3 431.8L381.3 432.2L382.3 432.6L383.3 433.0L384.3 433.3L385.3 433.7L386.3 434.1L387.3 434.5L388.3 434.9L389.3 435.2L390.3 435.6L391.3 436.0L392.3 436.4L393.3 436.8L394.3 437.1L395.0 437.4L395.3 437.5L396.3 437.8L397.3 438.1L398.3 438.4L399.3 438.7L400.3 439.0L401.3 439.3L402.3 439.6L403.3 439.9L404.3 440.2L405.3 440.5L406.3 440.8L407.3 441.1L408.3 441.4L409.3 441.7L410.3 442.1L411.3 442.4L412.3 442.7L413.3 443.0L414.3 443.3L415.3 443.6L416.3 443.9L417.3 444.2L418.3 444.5L419.3 444.8L420.0 445.0L420.3 445.1L421.3 445.3L422.3 445.6L423.3 445.8L424.3 446.0L425.3 446.3L426.3 446.5L427.3 446.8L428.3 447.0L429.3 447.3L430.3 447.5L431.3 447.7L432.3 448.0L433.3 448.2L434.3 448.5L435.3 448.7L436.3 448.9L437.3 449.2L438.3 449.4L439.3 449.7L440.3 449.9L441.3 450.2L442.3 450.4L443.3 450.6L444.3 450.9L445.3 451.1L446.3 451.4L447.3 451.6L448.3 451.9L449.3 452.1L450.3 452.3L451.3 452.6L452.3 452.8L453.3 453.1L454.3 453.3L455.3 453.5L456.3 453.8L457.3 454.0L458.3 454.3L459.3 454.5L460.3 454.8L461.3 455.0" fill="none" stroke="#c03434" stroke-width="1.2" stroke-linejoin="round"/>
<circle cx="65.40" cy="455.00" r="1.00" fill="#a00000"/>
<circle cx="70.35" cy="455.50" r="1.00" fill="#a00000"/>
<circle cx="75.30" cy="456.00" r="1.00" fill="#a00000"/>
<circle cx="80.25" cy="456.50" r="1.00" fill="#a00000"/>
<circle cx="85.20" cy="457.00" r="1.00" fill="#a00000"/>
<circle cx="90.15" cy="457.50" r="1.00" fill="#a00000"/>
<circle cx="95.10" cy="458.00" r="1.00" fill="#a00000"/>
<circle cx="100.05" cy="458.50" r="1.00" fill="#a00000"/>
<circle cx="105.00" cy="459.00" r="1.00" fill="#a00000"/>
<circle cx="109.95" cy="459.50" r="1.00" fill="#a00000"/>
<circle cx="114.90" cy="459.99" r="1.00" fill="#a00000"/>
<circle cx="119.85" cy="460.49" r="1.00" fill="#a00000"/>
<circle cx="124.80" cy="460.98" r="1.00" fill="#a00000"/>
<circle cx="129.75" cy="461.48" r="1.00" fill="#a00000"/>
<circle cx="134.70" cy="461.97" r="1.00" fill="#a00000"/>
<circle cx="139.65" cy="462.46" r="1.00" fill="#a00000"/>
<circle cx="144.60" cy="463.10" r="1.00" fill="#a00000"/>
<circle cx="149.55" cy="463.74" r="1.00" fill="#a00000"/>
<circle cx="154.50" cy="464.38" r="1.00" fill="#a00000"/>
<circle cx="159.45" cy="465.02" r="1.00" fill="#a00000"/>
<circle cx="164.40" cy="465.67" r="1.00" fill="#a00000"/>
<circle cx="169.35" cy="466.31" r="1.00" fill="#a00000"/>
<circle cx="174.30" cy="466.95" r="1.00" fill="#a00000"/>
<circle cx="179.25" cy="467.68" r="1.00" fill="#a00000"/>
<circle cx="184.20" cy="468.52" r="1.00" fill="#a00000"/>
<circle cx="189.15" cy="469.36" r="1.00" fill="#a00000"/>
<circle cx="194.10" cy="470.20" r="1.00" fill="#a00000"/>
<circle cx="199.05" cy="471.04" r="1.00" fill="#a00000"/>
<circle cx="204.00" cy="471.88" r="1.00" fill="#a00000"/>
<circle cx="208.95" cy="472.72" r="1.00" fill="#a00000"/>
<circle cx="213.90" cy="473.21" r="1.00" fill="#a00000"/>
<circle cx="218.85" cy="473.61" r="1.00" fill="#a00000"/>
<circle cx="223.80" cy="474.00" r="1.00" fill="#a00000"/>
<circle cx="228.75" cy="474.40" r="1.00" fill="#a00000"/>
<circle cx="233.70" cy="474.80" r="1.00" fill="#a00000"/>
<circle cx="238.65" cy="475.19" r="1.00" fill="#a00000"/>
<circle cx="243.60" cy="473.75" r="1.00" fill="#a00000"/>
<circle cx="248.55" cy="471.38" r="1.00" fill="#a00000"/>
<circle cx="253.50" cy="467.85" r="1.00" fill="#a00000"/>
<circle cx="258.45" cy="462.04" r="1.00" fill="#a00000"/>
<circle cx="263.40" cy="454.17" r="1.00" fill="#a00000"/>
<circle cx="268.35" cy="437.75" r="1.00" fill="#a00000"/>
<circle cx="274.10" cy="427.90" r="1.00" fill="#a00000"/>
<circle cx="274.30" cy="327.20" r="1.00" fill="#a00000"/>
<circle cx="278.25" cy="333.62" r="1.00" fill="#a00000"/>
<circle cx="283.20" cy="341.31" r="1.00" fill="#a00000"/>
<circle cx="288.15" cy="369.19" r="1.00" fill="#a00000"/>
<circle cx="293.10" cy="380.85" r="1.00" fill="#a00000"/>
<circle cx="298.05" cy="387.18" r="1.00" fill="#a00000"/>
<circle cx="303.00" cy="386.95" r="1.00" fill="#a00000"/>
<circle cx="307.95" cy="387.09" r="1.00" fill="#a00000"/>
<circle cx="312.90" cy="389.17" r="1.00" fill="#a00000"/>
<circle cx="317.85" cy="392.25" r="1.00" fill="#a00000"/>
<circle cx="322.80" cy="396.40" r="1.00" fill="#a00000"/>
<circle cx="327.75" cy="400.67" r="1.00" fill="#a00000"/>
<circle cx="332.70" cy="404.38" r="1.00" fill="#a00000"/>
<circle cx="337.65" cy="408.13" r="1.00" fill="#a00000"/>
<circle cx="342.60" cy="411.20" r="1.00" fill="#a00000"/>
<circle cx="347.55" cy="414.29" r="1.00" fill="#a00000"/>
<circle cx="352.50" cy="417.97" r="1.00" fill="#a00000"/>
<circle cx="357.45" cy="420.70" r="1.00" fill="#a00000"/>
<circle cx="362.40" cy="423.27" r="1.00" fill="#a00000"/>
<circle cx="367.35" cy="425.83" r="1.00" fill="#a00000"/>
<circle cx="372.30" cy="428.40" r="1.00" fill="#a00000"/>
<circle cx="377.25" cy="430.66" r="1.00" fill="#a00000"/>
<circle cx="382.20" cy="432.54" r="1.00" fill="#a00000"/>
<circle cx="387.15" cy="434.42" r="1.00" fill="#a00000"/>
<circle cx="392.10" cy="436.30" r="1.00" fill="#a00000"/>
<circle cx="397.05" cy="438.02" r="1.00" fill="#a00000"/>
<circle cx="402.00" cy="439.53" r="1.00" fill="#a00000"/>
<circle cx="406.95" cy="441.03" r="1.00" fill="#a00000"/>
<circle cx="411.90" cy="442.54" r="1.00" fill="#a00000"/>
<circle cx="416.85" cy="444.04" r="1.00" fill="#a00000"/>
<circle cx="421.80" cy="445.44" r="1.00" fill="#a00000"/>
<circle cx="426.75" cy="446.63" r="1.00" fill="#a00000"/>
<circle cx="431.70" cy="447.83" r="1.00" fill="#a00000"/>
<circle cx="436.65" cy="449.03" r="1.00" fill="#a00000"/>
<circle cx="441.60" cy="450.23" r="1.00" fill="#a00000"/>
<circle cx="446.55" cy="451.43" r="1.00" fill="#a00000"/>
<circle cx="451.50" cy="452.63" r="1.00" fill="#a00000"/>
<circle cx="456.45" cy="453.83" r="1.00" fill="#a00000"/>
<circle cx="461.30" cy="455.00" r="1.00" fill="#a00000"/>
<text x="196.5" y="344.9" font-size="12" fill="#1a1a1a" stroke="#1a1a1a" stroke-width="0.45">Fault</text>
<path d="M224.7 344.9L258.5 359.6" stroke="#111" stroke-width="1.5" fill="none"/>
<path d="M261.9 361.5L258.6 357.1L256.2 362.5Z" fill="#111"/>
<path d="M348.5 296.2H362" stroke="#26269a" stroke-width="1.25" fill="none"/>
<path d="M355.30 294.75L356.75 296.20L355.30 297.65L353.85 296.20Z" fill="#000080"/>
<text x="363.5" y="299.75" font-size="9.5" fill="#1a1a1a" stroke="#1a1a1a" stroke-width="0.32">Fault dip angle is 30°</text>
<path d="M348.5 312.7H362" stroke="#ff00ff" stroke-width="1.25" fill="none"/>
<rect x="354.40" y="311.80" width="1.80" height="1.80" fill="#ff00ff"/>
<text x="363.5" y="316.25" font-size="9.5" fill="#1a1a1a" stroke="#1a1a1a" stroke-width="0.32">Fault dip angle is 40°</text>
<path d="M348.5 329.3H362" stroke="#119911" stroke-width="1.25" fill="none"/>
<path d="M355.30 328.05L356.55 330.30L354.05 330.30Z" fill="#007700"/>
<text x="363.5" y="332.85" font-size="9.5" fill="#1a1a1a" stroke="#1a1a1a" stroke-width="0.32">Fault dip angle is 50°</text>
<path d="M348.5 345.8H362" stroke="#00ffff" stroke-width="1.25" fill="none"/>
<path d="M353.70 344.20L356.90 347.40M356.90 344.20L353.70 347.40" stroke="#00eeee" stroke-width="0.8" fill="none"/>
<text x="363.5" y="349.35" font-size="9.5" fill="#1a1a1a" stroke="#1a1a1a" stroke-width="0.32">Fault dip angle is 60°</text>
<path d="M348.5 362.3H362" stroke="#b648b6" stroke-width="1.25" fill="none"/>
<path d="M353.70 360.70L356.90 363.90M356.90 360.70L353.70 363.90M355.30 360.70L355.30 363.90" stroke="#a020a0" stroke-width="0.65" fill="none"/>
<text x="363.5" y="365.85" font-size="9.5" fill="#1a1a1a" stroke="#1a1a1a" stroke-width="0.32">Fault dip angle is 70°</text>
<path d="M348.5 378.8H362" stroke="#c03434" stroke-width="1.25" fill="none"/>
<circle cx="355.30" cy="378.80" r="1.00" fill="#a00000"/>
<text x="363.5" y="382.35" font-size="9.5" fill="#1a1a1a" stroke="#1a1a1a" stroke-width="0.32">Fault dip angle is 80°</text>
<text x="233" y="544.8" font-size="12.5" fill="#111" stroke="#111" stroke-width="0.25">(<tspan font-weight="bold">b</tspan>)</text>
</svg></body></html>
